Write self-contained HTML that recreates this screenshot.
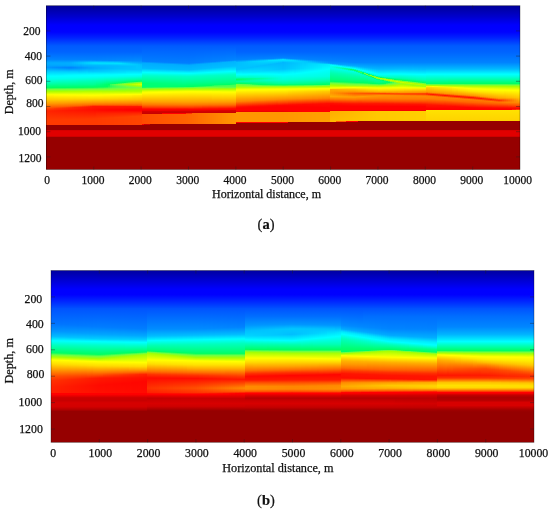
<!DOCTYPE html>
<html><head><meta charset="utf-8"><title>Figure</title>
<style>
html,body{margin:0;padding:0;background:#fff;}
#f{position:relative;width:550px;height:512px;overflow:hidden;background:#fff;}
.p{position:absolute;left:0;width:550px;}
.p i{position:absolute;top:0;height:100%;display:block;}
svg{position:absolute;left:0;top:0;display:block;}
.t{font-family:"Liberation Serif",serif;fill:#111;stroke:#111;stroke-width:0.25px;}
.l{font-family:"Liberation Serif",serif;fill:#111;stroke:#111;stroke-width:0.25px;}
.c{font-family:"Liberation Serif",serif;font-size:14.5px;fill:#111;stroke:#111;stroke-width:0.2px;}
.tk line{stroke:#222;stroke-width:0.6;stroke-opacity:0.7;}
</style></head><body>
<div id="f">
<div class="p" style="top:46px;height:84px"><i style="left:46px;width:2px;background:linear-gradient(#005bff 0px,#0064ff 6px,#0083ff 13.3px,#00acff 16.9px,#00a7ff 19px,#0097ff 21.5px,#00d3ff 26px,#0ff 30.3px,#00ffe8 33.3px,#00ffdb 34.3px,#00ffa9 37.8px,#00ff63 41.6px,#70ff42 43.4px,#a5ff02 45.4px,#ff0 48.9px,#fff100 49.7px,#ffc900 53.8px,#ff9700 57.8px,#ff3f00 63px,#ff2300 65px,#ff3a00 74px,#ff3a00 79.2px,#f00 79.3px,#f00 79.4px,#960000 79.5px,#960000 84px)"></i><i style="left:48px;width:2px;background:linear-gradient(#005bff 0px,#0064ff 6px,#0083ff 13.3px,#00acff 16.9px,#00a7ff 19px,#0095ff 21.5px,#00d3ff 26px,#0ff 30.2px,#00ffe9 33.2px,#0fa 37.6px,#00ff63 41.6px,#70ff42 43.4px,#a5ff02 45.4px,#ff0 48.8px,#fff200 49.6px,#ffca00 53.7px,#ff9800 57.7px,#ff3d00 62.9px,#f20 64.9px,#ff3a00 73.9px,#ff3a00 79.2px,#f00 79.3px,#f00 79.4px,#960000 79.5px,#960000 84px)"></i><i style="left:50px;width:2px;background:linear-gradient(#005bff 0px,#0064ff 6px,#0083ff 13.4px,#00acff 16.9px,#00a7ff 19.1px,#0093ff 21.6px,#00d2ff 26px,#0ff 30.2px,#00ffe9 33.1px,#00ffab 37.5px,#00ff63 41.6px,#70ff42 43.4px,#a5ff02 45.3px,#ff0 48.8px,#fff300 49.6px,#ffcb00 53.6px,#ff9800 57.6px,#ff5b00 61.2px,#ff3b00 62.8px,#ff2100 64.9px,#ff3a00 73.9px,#ff3a00 79.2px,#f00 79.3px,#f00 79.4px,#960000 79.5px,#960000 84px)"></i><i style="left:52px;width:2px;background:linear-gradient(#005bff 0px,#0064ff 6px,#0083ff 13.4px,#00acff 16.9px,#00a8ff 19.1px,#0090ff 21.6px,#00d2ff 25.9px,#0ff 30.2px,#00ffea 33px,#00ffac 37.4px,#00ff63 41.5px,#70ff42 43.4px,#a5ff02 45.3px,#ff0 48.8px,#fff400 49.5px,#fc0 53.6px,#f90 57.5px,#ff5c00 61.1px,#ff3a00 62.7px,#ff2000 64.9px,#ff3a00 73.9px,#ff3a00 79.2px,#f00 79.3px,#f00 79.4px,#960000 79.5px,#960000 84px)"></i><i style="left:54px;width:2px;background:linear-gradient(#005bff 0px,#0064ff 6px,#0083ff 13.5px,#00adff 16.9px,#00a8ff 19.1px,#008eff 21.6px,#00d1ff 25.9px,#0ff 30.2px,#00ffea 32.9px,#00ffac 37.3px,#00ff63 41.5px,#70ff42 43.3px,#a5ff02 45.3px,#ff0 48.8px,#ffcd00 53.5px,#f90 57.5px,#ff5d00 61px,#ff3800 62.5px,#ff1f00 64.8px,#ff3a00 73.8px,#ff3a00 79.2px,#f00 79.3px,#f00 79.4px,#960000 79.5px,#960000 84px)"></i><i style="left:56px;width:2px;background:linear-gradient(#005bff 0px,#0064ff 6px,#0083ff 13.5px,#00adff 16.9px,#00a8ff 19.1px,#008cff 21.6px,#00d1ff 25.9px,#0ff 30.1px,#00ffeb 32.8px,#00ffad 37.1px,#00ff63 41.5px,#70ff42 43.3px,#a5ff02 45.3px,#ff0 48.8px,#ffce00 53.4px,#ff9a00 57.4px,#ff5e00 60.9px,#ff3600 62.4px,#ff1e00 64.8px,#ff3a00 73.8px,#ff3a00 79.2px,#f00 79.3px,#f00 79.4px,#960000 79.5px,#960000 84px)"></i><i style="left:58px;width:2px;background:linear-gradient(#005bff 0px,#0064ff 6px,#0083ff 13.5px,#00adff 16.9px,#00a8ff 19.2px,#008aff 21.7px,#00d1ff 25.9px,#0ff 30.1px,#00ffeb 32.7px,#00ff8c 39.2px,#00ff63 41.5px,#70ff42 43.3px,#a5ff02 45.3px,#ff0 48.8px,#ffcf00 53.4px,#ff9a00 57.3px,#ff5f00 60.8px,#ff3500 62.3px,#ff1d00 64.7px,#ff3a00 73.7px,#ff3a00 79.2px,#f00 79.3px,#f00 79.4px,#960000 79.5px,#960000 84px)"></i><i style="left:60px;width:2px;background:linear-gradient(#005bff 0px,#0064ff 6px,#0083ff 13.6px,#00adff 16.9px,#00a9ff 19.2px,#08f 21.7px,#00d0ff 25.8px,#0ff 30.1px,#00ffec 32.6px,#00ff8c 39.2px,#00ff63 41.5px,#70ff42 43.3px,#a8ff00 45.4px,#ff0 48.8px,#ffcf00 53.3px,#ff9b00 57.2px,#ff6000 60.6px,#f30 62.2px,#ff1c00 64.7px,#ff3a00 73.7px,#ff3a00 79.2px,#f00 79.3px,#f00 79.4px,#960000 79.5px,#960000 84px)"></i><i style="left:62px;width:2px;background:linear-gradient(#005bff 0px,#0064ff 6px,#0083ff 13.6px,#00adff 16.9px,#00a9ff 19.2px,#0086ff 21.7px,#00d0ff 25.8px,#0ff 30px,#00ffec 32.5px,#00ff8d 39.1px,#00ff63 41.5px,#70ff42 43.3px,#a7ff00 45.3px,#ff0 48.8px,#ffd000 53.2px,#ff9b00 57.2px,#ff6100 60.5px,#ff3100 62.1px,#ff1b00 64.6px,#ff3a00 73.6px,#ff3a00 79.2px,#f00 79.3px,#f00 79.4px,#960000 79.5px,#960000 84px)"></i><i style="left:64px;width:2px;background:linear-gradient(#005bff 0px,#0064ff 6px,#0083ff 13.7px,#00adff 16.9px,#00a9ff 19.2px,#0084ff 21.7px,#00cfff 25.8px,#00f7ff 29px,#0ff 30px,#00ffed 32.4px,#00ff8d 39.1px,#00ff63 41.5px,#70ff42 43.3px,#a5ff01 45.2px,#ff0 48.8px,#ffd100 53.2px,#ff9b00 57.1px,#ff6200 60.4px,#ff3000 62px,#ff1a00 64.6px,#ff3a00 73.6px,#ff3a00 79.2px,#f00 79.3px,#f00 79.4px,#960000 79.5px,#960000 84px)"></i><i style="left:66px;width:2px;background:linear-gradient(#005bff 0px,#0064ff 6px,#0083ff 13.7px,#00aeff 16.9px,#00a9ff 19.3px,#0082ff 21.8px,#00cfff 25.8px,#00f7ff 28.9px,#0ff 30px,#00ffed 32.3px,#00ff8e 39.1px,#00ff63 41.5px,#70ff42 43.2px,#a5ff02 45.2px,#ff0 48.8px,#ffd200 53.1px,#ff9c00 57px,#ff6300 60.3px,#ff2e00 61.9px,#ff1900 64.6px,#ff3a00 73.6px,#ff3a00 79.2px,#f00 79.3px,#f00 79.4px,#960000 79.5px,#960000 84px)"></i><i style="left:68px;width:2px;background:linear-gradient(#005bff 0px,#0064ff 6px,#0083ff 13.7px,#00aeff 16.9px,#0af 19.3px,#0080ff 21.8px,#00ceff 25.8px,#00f7ff 28.8px,#0ff 30px,#0fe 32.2px,#00ff8e 39px,#00ff63 41.5px,#70ff42 43.2px,#a2ff0a 45px,#a5ff02 45.1px,#ff0 48.9px,#ffd300 53px,#ff9c00 56.9px,#ff6400 60.2px,#ff2c00 61.8px,#ff1800 64.5px,#ff3a00 73.5px,#ff3a00 79.2px,#f00 79.3px,#f00 79.4px,#960000 79.5px,#960000 84px)"></i><i style="left:70px;width:2px;background:linear-gradient(#005bff 0px,#0064ff 6px,#0083ff 13.8px,#00b0ff 16.9px,#0af 19.3px,#0080ff 21.8px,#00ceff 25.7px,#00f6ff 28.8px,#0ff 29.9px,#0fe 32.1px,#00ff8f 39px,#00ff63 41.4px,#70ff42 43.2px,#a1ff0f 45px,#a5ff02 45.1px,#ff0 48.9px,#ffd400 53px,#ff9d00 56.9px,#ff6400 60px,#ff2b00 61.7px,#ff1700 64.5px,#ff3a00 73.5px,#ff3a00 79.2px,#f00 79.3px,#f00 79.4px,#960000 79.5px,#960000 84px)"></i><i style="left:72px;width:2px;background:linear-gradient(#005bff 0px,#0064ff 6px,#0083ff 13.8px,#00b5ff 16.9px,#00abff 19.3px,#0083ff 21.8px,#00ceff 25.7px,#00f6ff 28.7px,#0ff 29.9px,#00ffef 32px,#00ff8f 38.9px,#00ff63 41.4px,#70ff42 43.2px,#9fff12 44.9px,#a5ff02 45.1px,#ff0 48.9px,#ffd500 52.9px,#ff9d00 56.8px,#ff6500 59.9px,#ff2900 61.6px,#ff1700 64.4px,#ff3a00 73.4px,#ff3a00 79.2px,#f00 79.3px,#f00 79.4px,#960000 79.5px,#960000 84px)"></i><i style="left:74px;width:2px;background:linear-gradient(#005bff 0px,#0064ff 6px,#0083ff 13.8px,#00baff 16.9px,#00acff 19.4px,#0087ff 21.8px,#00cdff 25.7px,#00f6ff 28.6px,#0ff 29.9px,#00ffef 31.9px,#00ff90 38.9px,#00ff63 41.4px,#70ff42 43.2px,#9dff15 44.8px,#a5ff02 45.1px,#ff0 48.9px,#ffd500 52.8px,#ff9e00 56.7px,#f60 59.8px,#ff2700 61.5px,#ff1600 64.4px,#ff3a00 73.4px,#ff3a00 79.2px,#f00 79.3px,#f00 79.4px,#960000 79.5px,#960000 84px)"></i><i style="left:76px;width:2px;background:linear-gradient(#005bff 0px,#0064ff 6px,#0083ff 13.9px,#00beff 16.9px,#00adff 19.4px,#008aff 21.9px,#00cdff 25.7px,#00f6ff 28.6px,#0ff 29.8px,#00fff0 31.8px,#00ffb5 35.9px,#00ff90 38.9px,#00ff63 41.4px,#70ff42 43.2px,#9cff18 44.7px,#a5ff02 45px,#ff0 49px,#ffd600 52.8px,#ff9e00 56.6px,#ff6700 59.7px,#ff2600 61.4px,#ff1500 64.4px,#ff3a00 73.4px,#ff3a00 79.2px,#f00 79.3px,#f00 79.4px,#960000 79.5px,#960000 84px)"></i><i style="left:78px;width:2px;background:linear-gradient(#005bff 0px,#0064ff 6px,#0083ff 13.9px,#00c3ff 16.9px,#00aeff 19.4px,#008eff 21.9px,#00f5ff 28.5px,#0ff 29.8px,#00fff0 31.7px,#00ffb5 35.7px,#00ff90 38.8px,#00ff63 41.4px,#70ff42 43.1px,#9aff1a 44.6px,#a5ff02 45px,#ff0 49px,#ffd700 52.7px,#ff9e00 56.6px,#ff6800 59.6px,#ff2400 61.3px,#ff1400 64.3px,#ff3a00 73.3px,#ff3a00 79.2px,#f00 79.3px,#f00 79.4px,#960000 79.5px,#960000 84px)"></i><i style="left:80px;width:2px;background:linear-gradient(#005bff 0px,#0064ff 6px,#0083ff 14px,#00c8ff 16.9px,#0091ff 21.9px,#00f5ff 28.4px,#0ff 29.8px,#00fff1 31.6px,#00ffb6 35.6px,#00ff91 38.8px,#00ff63 41.4px,#70ff42 43.1px,#99ff1d 44.5px,#a5ff02 45px,#ff0 49px,#ffd800 52.6px,#ff9f00 56.5px,#ff6900 59.5px,#f20 61.2px,#ff1300 64.3px,#ff3a00 73.3px,#ff3a00 79.2px,#f00 79.3px,#f00 79.4px,#960000 79.5px,#960000 84px)"></i><i style="left:82px;width:2px;background:linear-gradient(#005bff 0px,#0064ff 6px,#0083ff 14px,#0cf 16.9px,#0095ff 21.9px,#00f5ff 28.4px,#0ff 29.7px,#00fff1 31.5px,#00ffb7 35.5px,#00ff91 38.7px,#00ff63 41.4px,#70ff42 43.1px,#97ff1f 44.5px,#a5ff02 45px,#d4ff00 46.9px,#ff0 49.1px,#ffd900 52.6px,#ff9f00 56.4px,#ff6a00 59.3px,#ff2100 61.1px,#ff1200 64.2px,#ff3a00 73.2px,#ff3a00 79.2px,#f00 79.3px,#f00 79.4px,#960000 79.5px,#960000 84px)"></i><i style="left:84px;width:2px;background:linear-gradient(#005bff 0px,#0064ff 6px,#0083ff 14px,#00d1ff 16.9px,#0098ff 21.9px,#00f4ff 28.3px,#0ff 29.7px,#00fff2 31.4px,#00ffb7 35.4px,#00ff92 38.7px,#00ff63 41.3px,#70ff42 43.1px,#96ff21 44.4px,#a5ff02 44.9px,#d4ff00 46.9px,#ff0 49.1px,#ffda00 52.5px,#ffa000 56.3px,#ff6b00 59.2px,#ff1f00 61px,#f10 64.2px,#ff3a00 73.2px,#ff3a00 79.2px,#f00 79.3px,#f00 79.4px,#960000 79.5px,#960000 84px)"></i><i style="left:86px;width:2px;background:linear-gradient(#005bff 0px,#0064ff 6px,#0083ff 14.1px,#00d6ff 16.9px,#00b2ff 19.5px,#009bff 21.9px,#00f4ff 28.2px,#0ff 29.7px,#00fff2 31.3px,#00ffb8 35.2px,#00ff92 38.6px,#00ff63 41.3px,#70ff42 43.1px,#94ff23 44.3px,#a5ff02 44.9px,#d4ff00 46.9px,#ff0 49.1px,#ffda00 52.4px,#ffa000 56.3px,#ff6c00 59.1px,#ff1d00 60.9px,#ff1000 64.1px,#ff3a00 73.1px,#ff3a00 79.2px,#f00 79.3px,#f00 79.4px,#960000 79.5px,#960000 84px)"></i><i style="left:88px;width:2px;background:linear-gradient(#005bff 0px,#0064ff 6px,#0083ff 14.1px,#00daff 16.9px,#00b3ff 19.5px,#009fff 22px,#00caff 25.6px,#00f4ff 28.2px,#0ff 29.6px,#00fff3 31.2px,#00ffb9 35.1px,#00ff93 38.6px,#00ff63 41.3px,#70ff42 43px,#92ff25 44.2px,#a5ff02 44.9px,#d4ff00 46.9px,#ff0 49.2px,#ffdb00 52.4px,#ffa100 56.2px,#ff6d00 59px,#ff1b00 60.8px,#ff0f00 64.1px,#ff3a00 73.1px,#ff3a00 79.2px,#f00 79.3px,#f00 79.4px,#960000 79.5px,#960000 84px)"></i><i style="left:90px;width:2px;background:linear-gradient(#005bff 0px,#0064ff 6px,#0083ff 14.1px,#00dfff 16.9px,#00b4ff 19.6px,#00a2ff 22px,#00caff 25.5px,#00f4ff 28.1px,#0ff 29.6px,#00fff3 31.1px,#00ffba 35px,#00ff93 38.6px,#00ff63 41.3px,#70ff42 43px,#91ff27 44.1px,#a5ff02 44.9px,#d4ff00 46.9px,#ff0 49.2px,#ffdc00 52.3px,#ffa100 56.1px,#ff6d00 58.9px,#ff1a00 60.6px,#ff0e00 64.1px,#ff3a00 73.1px,#ff3a00 79.2px,#f00 79.3px,#f00 79.4px,#960000 79.5px,#960000 84px)"></i><i style="left:92px;width:2px;background:linear-gradient(#005bff 0px,#0064ff 6px,#0083ff 14.2px,#00e3ff 16.9px,#00b5ff 19.6px,#00a5ff 22px,#00c9ff 25.5px,#00f3ff 28px,#0ff 29.6px,#00fff3 31px,#00ffba 34.8px,#00ff94 38.5px,#00ff63 41.3px,#70ff42 43px,#8fff29 44px,#a5ff02 44.9px,#efff00 48.2px,#ff0 49.2px,#fd0 52.2px,#ffa100 56px,#ff6e00 58.7px,#ff1800 60.5px,#ff0d00 64px,#ff3a00 73px,#ff3a00 79.2px,#f00 79.3px,#f00 79.4px,#960000 79.5px,#960000 84px)"></i><i style="left:94px;width:2px;background:linear-gradient(#005bff 0px,#0064ff 6px,#0083ff 14.2px,#00e5ff 16.9px,#00b5ff 19.6px,#00a8ff 22px,#00caff 25.5px,#00f4ff 28px,#0ff 29.5px,#00fff3 31px,#00ffba 34.8px,#00ff90 38.5px,#00ff63 41.2px,#70ff42 43px,#8fff28 44px,#a5ff02 44.9px,#d4ff00 46.9px,#ff0 49.2px,#ffdc00 52.2px,#ffa100 56px,#ff6e00 58.7px,#ff1700 60.5px,#ff0b00 64px,#ff3a00 72.9px,#ff3a00 79.2px,#f00 79.3px,#f00 79.3px,#960000 79.5px,#960000 84px)"></i><i style="left:96px;width:2px;background:linear-gradient(#005bff 0px,#0064ff 6px,#0083ff 14.3px,#00e5ff 16.9px,#00b6ff 19.6px,#0af 22.1px,#0cf 25.6px,#00f4ff 28px,#0ff 29.4px,#00fff3 31px,#00ffb9 34.7px,#00ff63 41.2px,#70ff42 43px,#91ff26 44.1px,#a5ff02 44.9px,#d4ff00 46.9px,#ff0 49.1px,#ffdb00 52.3px,#ff9f00 56.1px,#ff6c00 58.8px,#ff1700 60.5px,#ff0a00 64px,#ff2300 67.7px,#ff3a00 72.8px,#ff3a00 79.2px,#f00 79.3px,#f00 79.3px,#960000 79.5px,#960000 84px)"></i><i style="left:98px;width:2px;background:linear-gradient(#005bff 0px,#0064ff 6px,#0084ff 14.3px,#00e5ff 17px,#00b6ff 19.6px,#00acff 22.1px,#00ceff 25.7px,#00f5ff 28.1px,#0ff 29.4px,#00fff2 30.9px,#00ffb8 34.7px,#00ff63 41.1px,#70ff42 42.9px,#93ff25 44.2px,#a5ff02 44.9px,#d4ff00 46.9px,#ff0 49.1px,#ffda00 52.4px,#ff9d00 56.2px,#ff6b00 58.8px,#ff1700 60.5px,#ff0800 64px,#ff2300 67.7px,#ff3b00 72.7px,#ff3b00 79.2px,#f00 79.3px,#f00 79.3px,#960000 79.5px,#960000 84px)"></i><i style="left:100px;width:2px;background:linear-gradient(#005bff 0px,#0064ff 6px,#0084ff 14.3px,#00e5ff 17px,#00b7ff 19.7px,#00aeff 22.2px,#00cfff 25.7px,#00f5ff 28.1px,#0ff 29.3px,#00fff1 30.9px,#00ff7d 38.5px,#00ff63 41px,#70ff42 42.9px,#94ff23 44.2px,#a5ff02 44.9px,#d4ff00 46.8px,#ff0 49px,#ffd900 52.4px,#ff9c00 56.3px,#ff6a00 58.8px,#ff1700 60.5px,#ff0600 64px,#ff2300 67.7px,#ff3b00 72.5px,#ff3b00 79.2px,#f00 79.3px,#f00 79.3px,#960000 79.5px,#960000 84px)"></i><i style="left:102px;width:2px;background:linear-gradient(#005bff 0px,#0064ff 6px,#0085ff 14.4px,#00e5ff 17px,#00b7ff 19.7px,#00b0ff 22.2px,#00d1ff 25.8px,#00f6ff 28.1px,#0ff 29.2px,#00fff1 30.9px,#0f7 38.5px,#00ff63 41px,#70ff42 42.9px,#96ff21 44.3px,#a5ff02 44.9px,#ff0 49px,#ffd700 52.5px,#ff9a00 56.4px,#ff6800 58.9px,#ff1700 60.5px,#ff0500 64px,#ff2300 67.6px,#ff3c00 72.4px,#ff3c00 79.1px,#f00 79.2px,#f00 79.3px,#960000 79.4px,#960000 84px)"></i><i style="left:104px;width:2px;background:linear-gradient(#005bff 0px,#0064ff 6px,#0085ff 14.4px,#00e5ff 17px,#00b7ff 19.7px,#00b1ff 22.2px,#00d3ff 25.9px,#00f6ff 28.1px,#0ff 29.1px,#00fff0 30.8px,#00ff70 38.5px,#00ff63 40.9px,#70ff42 42.8px,#98ff1e 44.4px,#a5ff02 44.9px,#ff0 48.9px,#ffd600 52.5px,#ff9800 56.4px,#ff6700 58.9px,#ff1700 60.5px,#ff0400 64px,#ff2300 67.6px,#ff3c00 72.3px,#ff3c00 79.1px,#f00 79.2px,#f00 79.3px,#960000 79.4px,#960000 84px)"></i><i style="left:106px;width:2px;background:linear-gradient(#005bff 0px,#0064ff 6px,#0086ff 14.4px,#00e5ff 17.1px,#00b8ff 19.7px,#00b3ff 22.3px,#00d4ff 25.9px,#00f7ff 28.1px,#0ff 29.1px,#00fff0 30.8px,#00ff6a 38.4px,#00ff63 40.8px,#70ff42 42.8px,#99ff1c 44.4px,#a5ff02 44.9px,#ff0 48.8px,#ffd500 52.6px,#ff9600 56.5px,#f60 58.9px,#ff1700 60.5px,#ff0300 64px,#ff2300 67.6px,#ff3d00 72.2px,#ff3d00 79.1px,#f00 79.2px,#f00 79.3px,#960000 79.4px,#960000 84px)"></i><i style="left:108px;width:2px;background:linear-gradient(#005bff 0px,#0064ff 6px,#0086ff 14.5px,#00e5ff 17.1px,#00b8ff 19.7px,#00b5ff 22.3px,#00d6ff 26px,#00f8ff 28.2px,#0ff 29px,#00ffef 30.8px,#00ffb0 34.5px,#00ff63 38.4px,#16ff61 40.8px,#70ff42 42.8px,#9bff1a 44.5px,#a5ff02 44.9px,#ff0 48.8px,#ffd400 52.7px,#ff9500 56.6px,#ff6400 59px,#ff1700 60.5px,#ff0200 64px,#ff2300 67.5px,#ff3d00 72px,#ff3d00 79.1px,#f00 79.2px,#f00 79.3px,#960000 79.4px,#960000 84px)"></i><i style="left:110px;width:2px;background:linear-gradient(#005bff 0px,#0064ff 6px,#0086ff 14.5px,#00e5ff 17.1px,#00b9ff 19.7px,#00b7ff 22.4px,#00d7ff 26px,#0ff 29px,#0fe 30.7px,#00ffb0 34.3px,#00ff63 38.1px,#34ff5c 38.4px,#25ff5f 40.9px,#70ff42 42.7px,#9cff17 44.6px,#a5ff02 44.9px,#ff0 48.7px,#ffd200 52.7px,#ff9300 56.7px,#ff6300 59px,#ff1700 60.5px,#ff0100 64px,#ff2300 67.5px,#ff3e00 71.9px,#ff3e00 79.1px,#f00 79.2px,#f00 79.2px,#960000 79.4px,#960000 84px)"></i><i style="left:112px;width:2px;background:linear-gradient(#005bff 0px,#0064ff 6px,#0087ff 14.5px,#00e5ff 17.1px,#00b9ff 19.8px,#00b9ff 22.4px,#00d9ff 26.1px,#0ff 28.9px,#0fe 30.7px,#00ffdb 31.8px,#00ffaf 34.3px,#00ff63 37.8px,#4bff55 38.4px,#30ff5d 40.9px,#70ff42 42.6px,#9eff14 44.6px,#a5ff02 44.9px,#ff0 48.7px,#ffd100 52.8px,#ff9100 56.7px,#ff6200 59px,#ff1700 60.5px,#ff0100 64px,#ff2300 67.5px,#ff3e00 71.8px,#ff3e00 79.1px,#f00 79.2px,#f00 79.2px,#960000 79.4px,#960000 84px)"></i><i style="left:114px;width:2px;background:linear-gradient(#005bff 0px,#0064ff 6px,#0087ff 14.6px,#00e5ff 17.2px,#00baff 19.8px,#0bf 22.4px,#00dbff 26.2px,#0ff 28.8px,#00ffed 30.7px,#00ffdb 31.7px,#00ffae 34.2px,#00ff63 37.6px,#5cff4d 38.4px,#38ff5b 40.9px,#70ff42 42.6px,#9fff11 44.7px,#a5ff02 44.9px,#ff0 48.6px,#ffd000 52.8px,#ff9000 56.8px,#ff6000 59.1px,#ff1700 60.5px,#f00 64px,#ff2300 67.4px,#ff3f00 71.7px,#ff3f00 79.1px,#f00 79.2px,#f00 79.2px,#960000 79.4px,#960000 84px)"></i><i style="left:116px;width:2px;background:linear-gradient(#005bff 0px,#0064ff 6px,#08f 14.6px,#00e5ff 17.2px,#00baff 19.8px,#00bdff 22.5px,#00dcff 26.2px,#0ff 28.8px,#00ffed 30.7px,#00ffdb 31.7px,#00ffad 34.2px,#00ff63 37.3px,#6bff45 38.4px,#40ff59 41px,#70ff42 42.5px,#a1ff0e 44.8px,#a5ff02 44.9px,#ff0 48.6px,#ffcf00 52.9px,#ff8e00 56.9px,#ff5f00 59.1px,#ff1700 60.5px,#f00 64px,#ff2300 67.4px,#ff3f00 71.5px,#ff3f00 79.1px,#f00 79.2px,#f00 79.2px,#960000 79.4px,#960000 84px)"></i><i style="left:118px;width:2px;background:linear-gradient(#005bff 0px,#0064ff 6px,#08f 14.6px,#00e3ff 17.3px,#0bf 19.9px,#00beff 22.6px,#00deff 26.3px,#0ff 28.7px,#00ffec 30.6px,#00ffb0 33.9px,#00ff63 37.1px,#70ff42 38.2px,#78ff3d 38.4px,#46ff56 41px,#70ff42 42.4px,#a2ff09 44.9px,#a5ff02 44.9px,#ff0 48.6px,#ffcd00 52.9px,#ff8c00 57px,#ff5e00 59.1px,#ff1700 60.5px,#f00 64px,#ff2300 67.4px,#ff4000 71.4px,#ff4000 79px,#f00 79.1px,#f00 79.2px,#960000 79.3px,#960000 84px)"></i><i style="left:120px;width:2px;background:linear-gradient(#005bff 0px,#0064ff 6px,#0089ff 14.7px,#00e0ff 17.4px,#00bcff 20px,#00bfff 22.7px,#00e0ff 26.4px,#0ff 28.7px,#00ffeb 30.6px,#00ffb0 33.8px,#00ff63 36.9px,#70ff42 38px,#84ff34 38.4px,#4cff54 41.1px,#70ff42 42.3px,#a5ff02 45px,#ff0 48.6px,#fc0 53px,#ff8a00 57px,#ff5c00 59.2px,#ff1700 60.5px,#f00 64px,#ff2300 67.3px,#ff4000 71.3px,#ff4000 79px,#f00 79.1px,#f00 79.2px,#960000 79.3px,#960000 84px)"></i><i style="left:122px;width:2px;background:linear-gradient(#005bff 0px,#0064ff 6px,#0089ff 14.7px,#00dcff 17.6px,#00bcff 20.1px,#00c0ff 22.9px,#00e1ff 26.4px,#0ff 28.6px,#00ffeb 30.6px,#00ffb0 33.7px,#00ff63 36.7px,#70ff42 37.7px,#8fff29 38.4px,#52ff52 41.1px,#70ff42 42.3px,#a5ff00 45px,#ff0 48.5px,#ffcb00 53.1px,#ff8900 57.1px,#ff5b00 59.2px,#ff1700 60.5px,#f00 64.1px,#ff2300 67.3px,#ff4000 71.1px,#ff4000 79px,#f00 79.1px,#f00 79.2px,#960000 79.3px,#960000 84px)"></i><i style="left:124px;width:2px;background:linear-gradient(#005bff 0px,#0064ff 6px,#0089ff 14.7px,#00d9ff 17.7px,#00bdff 20.2px,#00c1ff 23px,#00e3ff 26.5px,#0ff 28.6px,#00ffea 30.5px,#00ffb0 33.5px,#00ff63 36.5px,#70ff42 37.5px,#99ff1d 38.4px,#57ff4f 41.2px,#70ff42 42.2px,#a7ff00 45.1px,#ff0 48.5px,#ffc900 53.1px,#ff8700 57.2px,#ff5a00 59.2px,#ff1700 60.5px,#f00 63.7px,#f00 64.2px,#ff2300 67.3px,#ff4100 71px,#ff4100 79px,#f00 79.1px,#f00 79.2px,#960000 79.3px,#960000 84px)"></i><i style="left:126px;width:2px;background:linear-gradient(#005bff 0px,#0064ff 6px,#008aff 14.8px,#00d6ff 17.8px,#00beff 20.3px,#00c2ff 23.1px,#0ff 28.6px,#00ffe9 30.5px,#00ffb0 33.4px,#00ff63 36.3px,#70ff42 37.3px,#a3ff08 38.4px,#70ff42 40.5px,#5cff4d 41.2px,#70ff42 42px,#a5ff02 44.9px,#ff0 48.5px,#ffc800 53.2px,#ff8500 57.3px,#ff5800 59.3px,#ff1700 60.5px,#f00 63.5px,#f00 64.3px,#ff2300 67.2px,#ff4100 70.9px,#ff4100 79px,#f00 79.1px,#f00 79.1px,#960000 79.3px,#960000 84px)"></i><i style="left:128px;width:2px;background:linear-gradient(#005bff 0px,#0064ff 6px,#008aff 14.8px,#00d3ff 17.9px,#00bfff 20.4px,#00c3ff 23.2px,#0ff 28.5px,#00ffe9 30.5px,#00ffb0 33.3px,#00ff63 36.1px,#70ff42 37.1px,#a5ff02 38.2px,#acff00 38.4px,#a5ff02 38.7px,#70ff42 40.8px,#61ff4b 41.2px,#70ff42 41.9px,#a5ff02 44.9px,#ff0 48.5px,#ffc700 53.2px,#ff8400 57.3px,#ff5700 59.3px,#ff1700 60.5px,#f00 63.4px,#f00 64.4px,#ff2300 67.2px,#ff4200 70.8px,#ff4200 79px,#f00 79.1px,#f00 79.1px,#960000 79.3px,#960000 84px)"></i><i style="left:130px;width:2px;background:linear-gradient(#005bff 0px,#0064ff 6px,#008bff 14.8px,#00cfff 18.1px,#00c0ff 20.5px,#00c4ff 23.4px,#0ff 28.5px,#00ffe8 30.4px,#00ffb0 33.2px,#00ff63 36px,#70ff42 36.9px,#a5ff02 38px,#b5ff00 38.3px,#a5ff02 39.1px,#65ff48 41.3px,#a5ff02 44.8px,#abff00 45.3px,#ff0 48.5px,#ffc600 53.3px,#ff8200 57.4px,#f50 59.3px,#ff1700 60.5px,#f00 63.3px,#f00 64.5px,#ff2300 67.2px,#ff4200 70.6px,#ff4200 79px,#f00 79.1px,#f00 79.1px,#960000 79.3px,#960000 84px)"></i><i style="left:132px;width:2px;background:linear-gradient(#005bff 0px,#0064ff 6px,#008bff 14.9px,#0cf 18.2px,#00c1ff 20.6px,#00c5ff 23.5px,#0ff 28.4px,#00ffe8 30.4px,#00ffb0 33.1px,#00ffa3 33.7px,#00ff63 35.8px,#70ff42 36.8px,#a5ff02 37.8px,#beff00 38.3px,#a5ff02 39.4px,#69ff46 41.3px,#a5ff02 44.8px,#adff00 45.3px,#ff0 48.4px,#fff100 49.3px,#ffc400 53.4px,#ff8000 57.5px,#ff5400 59.4px,#ff1700 60.5px,#f00 63.2px,#f00 64.6px,#ff2300 67.1px,#ff4300 70.5px,#ff4300 79px,#f00 79.1px,#f00 79.1px,#960000 79.3px,#960000 84px)"></i><i style="left:134px;width:2px;background:linear-gradient(#005bff 0px,#0064ff 6px,#008cff 14.9px,#00c9ff 18.3px,#00c2ff 20.7px,#00c6ff 23.6px,#0ff 28.4px,#00ffe7 30.4px,#00ffb0 33px,#00ffa2 33.7px,#00ff63 35.7px,#70ff42 36.6px,#a5ff02 37.6px,#c7ff00 38.3px,#a5ff02 39.6px,#6eff43 41.4px,#a5ff02 44.7px,#aeff00 45.4px,#ff0 48.4px,#ffef00 49.3px,#ffc300 53.4px,#ff7e00 57.6px,#ff5300 59.4px,#ff1700 60.5px,#f00 63.1px,#f00 64.7px,#ff2300 67.1px,#ff4300 70.4px,#ff4300 78.9px,#f00 79px,#f00 79.1px,#960000 79.2px,#960000 84px)"></i><i style="left:136px;width:2px;background:linear-gradient(#005bff 0px,#0064ff 6px,#008cff 14.9px,#00c6ff 18.4px,#00c7ff 23.7px,#0ff 28.4px,#00ffe6 30.4px,#00ffb0 32.9px,#00ffa1 33.6px,#00ff63 35.5px,#70ff42 36.4px,#a5ff02 37.4px,#cfff00 38.3px,#a5ff02 39.9px,#72ff41 41.4px,#a5ff02 44.7px,#b0ff00 45.5px,#ff0 48.4px,#fe0 49.4px,#ffc200 53.5px,#ff7d00 57.6px,#ff5100 59.4px,#ff1700 60.5px,#f00 63px,#f00 64.7px,#ff2300 67.1px,#f40 70.3px,#f40 78.9px,#f00 79px,#f00 79.1px,#960000 79.2px,#960000 84px)"></i><i style="left:138px;width:2px;background:linear-gradient(#005bff 0px,#0064ff 6px,#008dff 15px,#00c3ff 18.6px,#00c8ff 23.9px,#0ff 28.4px,#00ffe6 30.3px,#00ffb0 32.8px,#00ff9f 33.6px,#00ff63 35.4px,#70ff42 36.3px,#a5ff02 37.2px,#d7ff00 38.3px,#a5ff02 40.1px,#75ff3e 41.5px,#a5ff02 44.6px,#b1ff00 45.5px,#ff0 48.4px,#ffed00 49.4px,#ffc000 53.5px,#ff7b00 57.7px,#ff5000 59.5px,#ff1700 60.5px,#f00 62.9px,#f00 64.8px,#ff2300 67px,#f40 70.1px,#f40 78.9px,#f00 79px,#f00 79.1px,#960000 79.2px,#960000 84px)"></i><i style="left:140px;width:2px;background:linear-gradient(#005bff 0px,#0064ff 6px,#008dff 15px,#00bfff 18.7px,#00c9ff 24px,#0ff 28.3px,#00ffe5 30.3px,#00ffb0 32.7px,#00ff9e 33.5px,#00ff63 35.3px,#70ff42 36.1px,#a5ff02 37px,#dfff00 38.3px,#a5ff02 40.3px,#79ff3c 41.5px,#a5ff02 44.5px,#b2ff00 45.6px,#ff0 48.4px,#ffeb00 49.5px,#ffbf00 53.6px,#ff7900 57.8px,#ff4f00 59.5px,#ff1700 60.5px,#f00 62.8px,#f00 64.8px,#ff2300 67px,#ff4500 70px,#ff4500 78.9px,#f00 79px,#f00 79.1px,#960000 79.2px,#960000 84px)"></i><i style="left:142px;width:2px;background:linear-gradient(#005bff 0px,#007eff 15.3px,#00acff 17.1px,#00baff 22.3px,#0ff 26.4px,#0fc 29.5px,#00ff70 37.5px,#00ff74 40.5px,#00ff63 41.2px,#70ff42 42.4px,#9dff17 43.5px,#a5ff02 43.7px,#eaff00 45.7px,#ff0 46.8px,#ffa200 55.8px,#ff7400 58.9px,#ff3400 61.5px,#f00 63.1px,#f00 64.1px,#d70000 65.2px,#c80000 67.6px,#f00 67.7px,#f00 67.7px,#ff4b00 67.9px,#ff4b00 78.3px,#f00 78.4px,#f00 78.5px,#960000 78.6px,#960000 84px)"></i><i style="left:144px;width:2px;background:linear-gradient(#005bff 0px,#007eff 15.4px,#00acff 17.2px,#00baff 22.3px,#0ff 26.4px,#00ffcb 29.6px,#00ff71 37.5px,#00ff74 40.5px,#00ff63 41.2px,#70ff42 42.4px,#9dff15 43.5px,#a5ff02 43.6px,#ebff00 45.7px,#ff0 46.8px,#ffa200 55.8px,#ff7400 58.9px,#ff3400 61.5px,#f00 63.1px,#f00 64.1px,#d70000 65.2px,#c80000 67.6px,#f00 67.7px,#f00 67.7px,#ff4c00 67.9px,#ff4c00 78.3px,#f00 78.4px,#f00 78.4px,#960000 78.6px,#960000 84px)"></i><i style="left:146px;width:2px;background:linear-gradient(#005bff 0px,#007eff 15.5px,#00acff 17.3px,#00baff 22.4px,#0ff 26.5px,#00ffcb 29.6px,#00ff72 37.4px,#00ff73 40.5px,#00ff63 41.1px,#70ff42 42.3px,#9eff14 43.4px,#a5ff02 43.6px,#ecff00 45.7px,#ff0 46.8px,#ffa200 55.8px,#ff7500 58.9px,#ff3500 61.5px,#f00 63.1px,#f00 64.1px,#d70000 65.2px,#c80000 67.6px,#f00 67.7px,#f00 67.7px,#ff4d00 67.9px,#ff4d00 78.3px,#f00 78.4px,#f00 78.4px,#960000 78.6px,#960000 84px)"></i><i style="left:148px;width:2px;background:linear-gradient(#005bff 0px,#007eff 15.5px,#00acff 17.4px,#00baff 22.5px,#0ff 26.5px,#00ffcb 29.7px,#00ff73 37.4px,#00ff72 40.5px,#00ff63 41.1px,#70ff42 42.3px,#9fff12 43.4px,#a5ff02 43.6px,#ecff00 45.6px,#ff0 46.7px,#ffa200 55.8px,#ff7500 58.9px,#ff3500 61.5px,#f00 63.1px,#f00 64.1px,#d70000 65.2px,#c80000 67.6px,#f00 67.6px,#f00 67.7px,#ff4e00 67.9px,#ff4e00 78.3px,#f00 78.4px,#f00 78.4px,#960000 78.6px,#960000 84px)"></i><i style="left:150px;width:2px;background:linear-gradient(#005bff 0px,#007eff 15.6px,#00acff 17.5px,#00baff 22.6px,#0ff 26.6px,#00ffcb 29.7px,#00ff75 37.4px,#00ff72 40.5px,#00ff63 41.1px,#70ff42 42.3px,#a0ff11 43.4px,#a5ff02 43.5px,#edff00 45.6px,#ff0 46.7px,#ffa200 55.8px,#ff7500 58.9px,#ff3500 61.5px,#f00 63.1px,#f00 64.1px,#d70000 65.1px,#c80000 67.5px,#f00 67.6px,#f00 67.7px,#ff5000 67.8px,#ff5000 78.2px,#f00 78.4px,#f00 78.4px,#960000 78.5px,#960000 84px)"></i><i style="left:152px;width:2px;background:linear-gradient(#005bff 0px,#007eff 15.7px,#00acff 17.6px,#00baff 22.7px,#0ff 26.6px,#00ffca 29.8px,#00ff76 37.4px,#00ff71 40.5px,#00ff63 41.1px,#70ff42 42.2px,#a0ff0f 43.4px,#a5ff02 43.5px,#ef0 45.6px,#ff0 46.6px,#ffa200 55.9px,#ff7500 58.9px,#ff3500 61.5px,#f00 63.2px,#f00 64.1px,#d70000 65.1px,#c80000 67.5px,#f00 67.6px,#f00 67.7px,#ff5100 67.8px,#ff5100 78.2px,#f00 78.3px,#f00 78.4px,#960000 78.5px,#960000 84px)"></i><i style="left:154px;width:2px;background:linear-gradient(#005bff 0px,#007eff 15.8px,#00acff 17.7px,#00baff 22.7px,#0ff 26.7px,#00ffca 29.8px,#0f7 37.4px,#00ff71 40.5px,#00ff63 41px,#70ff42 42.2px,#a1ff0d 43.4px,#a5ff02 43.4px,#ef0 45.6px,#ff0 46.6px,#ffa200 55.9px,#ff7500 58.9px,#ff3600 61.5px,#f00 63.2px,#f00 64.1px,#d70000 65.1px,#c80000 67.5px,#f00 67.6px,#f00 67.7px,#ff5200 67.8px,#ff5200 78.2px,#f00 78.3px,#f00 78.4px,#960000 78.5px,#960000 84px)"></i><i style="left:156px;width:2px;background:linear-gradient(#005bff 0px,#007eff 15.9px,#00acff 17.8px,#00baff 22.8px,#0ff 26.7px,#00ffca 29.8px,#00ff78 37.3px,#00ff70 40.5px,#00ff63 41px,#70ff42 42.2px,#a2ff0b 43.3px,#a5ff02 43.4px,#efff00 45.6px,#ff0 46.6px,#ffa200 55.9px,#ff7600 58.9px,#ff3600 61.5px,#f00 63.2px,#f00 64.1px,#d70000 65.1px,#c80000 67.5px,#f00 67.6px,#f00 67.7px,#ff5300 67.8px,#ff5300 78.2px,#f00 78.3px,#f00 78.4px,#960000 78.5px,#960000 84px)"></i><i style="left:158px;width:2px;background:linear-gradient(#005bff 0px,#007eff 16px,#00acff 17.9px,#00baff 22.9px,#0ff 26.8px,#00ffca 29.9px,#00ff79 37.3px,#00ff70 40.5px,#00ff63 41px,#70ff42 42.1px,#a5ff02 43.4px,#efff00 45.5px,#ff0 46.5px,#ffa200 55.9px,#ff7600 58.9px,#ff3600 61.5px,#f00 63.2px,#f00 64.2px,#d70000 65.1px,#c80000 67.5px,#f00 67.6px,#f00 67.6px,#ff5400 67.8px,#ff5400 78.2px,#f00 78.3px,#f00 78.4px,#960000 78.5px,#960000 84px)"></i><i style="left:160px;width:2px;background:linear-gradient(#005bff 0px,#007eff 16.1px,#00acff 18px,#00baff 23px,#0ff 26.8px,#00ffca 29.9px,#00ff7b 37.3px,#00ff6f 40.5px,#00ff63 41px,#70ff42 42.1px,#a5ff02 43.3px,#f0ff00 45.5px,#ff0 46.5px,#ffa200 55.9px,#ff7600 58.9px,#ff3600 61.5px,#f00 63.2px,#f00 64.2px,#d70000 65.1px,#c80000 67.5px,#f00 67.6px,#f00 67.6px,#f50 67.8px,#f50 78.2px,#f00 78.3px,#f00 78.3px,#960000 78.5px,#960000 84px)"></i><i style="left:162px;width:2px;background:linear-gradient(#005bff 0px,#007eff 16.2px,#00acff 18.1px,#00baff 23px,#0ff 26.9px,#00ffc9 30px,#00ff7c 37.3px,#00ff6f 40.5px,#00ff63 40.9px,#70ff42 42.1px,#a5ff02 43.3px,#f1ff00 45.5px,#ff0 46.4px,#ffa200 55.9px,#ff7600 58.9px,#ff3700 61.5px,#f00 63.2px,#f00 64.2px,#d70000 65.1px,#c80000 67.5px,#f00 67.5px,#f00 67.6px,#ff5600 67.8px,#ff5600 78.2px,#f00 78.3px,#f00 78.3px,#960000 78.5px,#960000 84px)"></i><i style="left:164px;width:2px;background:linear-gradient(#005bff 0px,#007eff 16.3px,#00acff 18.2px,#00baff 23.1px,#0ff 26.9px,#00ffc9 30px,#00ff7d 37.2px,#00ff6e 40.5px,#00ff63 40.9px,#70ff42 42px,#a5ff02 43.2px,#f1ff00 45.5px,#ff0 46.4px,#ffa200 55.9px,#f70 58.9px,#ff3700 61.5px,#f00 63.2px,#f00 64.2px,#d70000 65px,#c80000 67.4px,#f00 67.5px,#f00 67.6px,#ff5700 67.7px,#ff5700 78.1px,#f00 78.3px,#f00 78.3px,#960000 78.4px,#960000 84px)"></i><i style="left:166px;width:2px;background:linear-gradient(#005bff 0px,#007eff 16.3px,#00acff 18.3px,#00baff 23.2px,#0ff 27px,#00ffc9 30px,#00ff7e 37.2px,#00ff6e 40.5px,#00ff63 40.9px,#70ff42 42px,#a6ff00 43.2px,#f2ff00 45.5px,#ff0 46.4px,#ffa200 55.9px,#f70 58.9px,#ff3700 61.5px,#f00 63.2px,#f00 64.2px,#d70000 65px,#c80000 67.4px,#f00 67.5px,#f00 67.6px,#ff5800 67.7px,#ff5800 78.1px,#f00 78.3px,#f00 78.3px,#960000 78.4px,#960000 84px)"></i><i style="left:168px;width:2px;background:linear-gradient(#005bff 0px,#007eff 16.4px,#00acff 18.4px,#00baff 23.3px,#0ff 27px,#00ffc9 30.1px,#00ff7f 37.2px,#00ff6d 40.5px,#00ff63 40.9px,#70ff42 42px,#a6ff00 43.2px,#f2ff00 45.5px,#ff0 46.3px,#ffa200 55.9px,#f70 58.9px,#ff3700 61.5px,#f00 63.2px,#f00 64.1px,#d70000 65px,#c80000 67.4px,#f00 67.5px,#f00 67.6px,#ff5900 67.7px,#ff5900 78.1px,#f00 78.2px,#f00 78.3px,#960000 78.4px,#960000 84px)"></i><i style="left:170px;width:2px;background:linear-gradient(#005bff 0px,#007eff 16.5px,#00acff 18.5px,#00baff 23.3px,#0ef 25.9px,#0ff 27.1px,#00ffc8 30.1px,#00ff81 37.2px,#00ff6d 40.5px,#00ff63 40.8px,#70ff42 41.9px,#a7ff00 43.2px,#f3ff00 45.4px,#ff0 46.3px,#ffa200 55.9px,#f70 58.9px,#ff3800 61.5px,#f00 63.2px,#f00 64.1px,#d70000 65px,#c80000 67.4px,#f00 67.5px,#f00 67.6px,#ff5b00 67.7px,#ff5b00 78.1px,#f00 78.2px,#f00 78.3px,#960000 78.4px,#960000 84px)"></i><i style="left:172px;width:2px;background:linear-gradient(#005bff 0px,#007eff 16.6px,#00acff 18.5px,#00baff 23.4px,#00efff 26px,#0ff 27.1px,#00ffc8 30.2px,#00ff82 37.2px,#00ff6c 40.5px,#00ff63 40.8px,#70ff42 41.9px,#a8ff00 43.2px,#f3ff00 45.4px,#ff0 46.2px,#ffa200 55.9px,#f70 58.9px,#ff3800 61.5px,#ff0100 63.2px,#f00 64.1px,#d70000 65px,#c80000 67.4px,#f00 67.5px,#f00 67.5px,#ff5c00 67.7px,#ff5c00 78.1px,#f00 78.2px,#f00 78.3px,#960000 78.4px,#960000 84px)"></i><i style="left:174px;width:2px;background:linear-gradient(#005bff 0px,#007eff 16.7px,#00acff 18.6px,#00baff 23.5px,#00efff 26.1px,#0ff 27.2px,#00ffc8 30.2px,#00ff83 37.1px,#00ff6c 40.5px,#00ff63 40.8px,#70ff42 41.9px,#a9ff00 43.1px,#f4ff00 45.4px,#ff0 46.2px,#ffa200 55.9px,#ff7800 58.9px,#ff3800 61.5px,#f00 63.3px,#f00 64.1px,#d70000 65px,#c80000 67.4px,#f00 67.5px,#f00 67.5px,#ff5d00 67.7px,#ff5d00 78.1px,#f00 78.2px,#f00 78.3px,#960000 78.4px,#960000 84px)"></i><i style="left:176px;width:2px;background:linear-gradient(#005bff 0px,#007eff 16.8px,#00acff 18.7px,#00baff 23.6px,#00efff 26.1px,#0ff 27.2px,#00ffc8 30.3px,#00ff84 37.1px,#00ff6b 40.5px,#00ff63 40.8px,#70ff42 41.9px,#a9ff00 43.1px,#f5ff00 45.4px,#ff0 46.1px,#ffa200 56px,#ff7800 58.9px,#ff3800 61.5px,#ff0200 63.1px,#f00 63.3px,#f00 64.1px,#d70000 65px,#c80000 67.4px,#f00 67.5px,#f00 67.5px,#ff5e00 67.7px,#ff5e00 78.1px,#f00 78.2px,#f00 78.2px,#960000 78.4px,#960000 84px)"></i><i style="left:178px;width:2px;background:linear-gradient(#005bff 0px,#007eff 16.9px,#00acff 18.8px,#00baff 23.6px,#00efff 26.2px,#0ff 27.3px,#00ffc8 30.3px,#00ff85 37.1px,#00ff6b 40.5px,#00ff63 40.8px,#70ff42 41.8px,#a5ff02 43px,#af0 43.1px,#f5ff00 45.4px,#ff0 46.1px,#ffa200 56px,#ff7800 58.9px,#ff3900 61.5px,#ff0200 63.1px,#f00 63.3px,#f00 64.1px,#d70000 65px,#c80000 67.4px,#f00 67.4px,#f00 67.5px,#ff5f00 67.7px,#ff5f00 78.1px,#f00 78.2px,#f00 78.2px,#960000 78.4px,#960000 84px)"></i><i style="left:180px;width:2px;background:linear-gradient(#005bff 0px,#007eff 17px,#00acff 18.9px,#00baff 23.7px,#00efff 26.3px,#0ff 27.3px,#00ffc7 30.3px,#00ffa7 33.4px,#00ff6a 40.5px,#00ff63 40.7px,#70ff42 41.8px,#a5ff02 42.9px,#f6ff00 45.4px,#ff0 46px,#ffa200 56px,#ff7800 58.9px,#ff3900 61.5px,#ff0300 63.1px,#f00 63.3px,#f00 64.1px,#d70000 64.9px,#c80000 67.3px,#f00 67.4px,#f00 67.5px,#ff6000 67.6px,#ff6000 78px,#f00 78.2px,#f00 78.2px,#960000 78.3px,#960000 84px)"></i><i style="left:182px;width:2px;background:linear-gradient(#005bff 0px,#007eff 17.1px,#00acff 19px,#00baff 23.8px,#00f0ff 26.3px,#0ff 27.4px,#00ffc7 30.4px,#00ff6a 40.5px,#00ff63 40.7px,#70ff42 41.8px,#a5ff02 42.9px,#f6ff00 45.3px,#ff0 46px,#ffa200 56px,#ff7900 58.9px,#ff3900 61.5px,#ff0400 63.1px,#f00 63.3px,#f00 64.1px,#d70000 64.9px,#c80000 67.3px,#f00 67.4px,#f00 67.5px,#ff6100 67.6px,#ff6100 78px,#f00 78.2px,#f00 78.2px,#960000 78.3px,#960000 84px)"></i><i style="left:184px;width:2px;background:linear-gradient(#005bff 0px,#007eff 17.1px,#00acff 19.1px,#00baff 23.9px,#00f0ff 26.4px,#0ff 27.4px,#00ffc7 30.4px,#00ff69 40.5px,#00ff63 40.7px,#70ff42 41.7px,#a5ff02 42.9px,#f7ff00 45.3px,#ff0 45.9px,#ffa200 56px,#ff7900 58.9px,#ff3900 61.5px,#ff0500 63px,#f00 63.3px,#f00 64.1px,#d70000 64.9px,#c80000 67.3px,#f00 67.4px,#f00 67.5px,#ff6200 67.6px,#ff6200 78px,#f00 78.2px,#f00 78.2px,#960000 78.3px,#960000 84px)"></i><i style="left:186px;width:2px;background:linear-gradient(#005bff 0px,#007eff 17.2px,#00acff 19.2px,#00baff 23.9px,#00f0ff 26.5px,#0ff 27.5px,#00ffc7 30.5px,#00ff63 40.7px,#70ff42 41.7px,#a5ff02 42.8px,#f8ff00 45.3px,#ff0 45.9px,#ffa200 56px,#ff7900 58.9px,#ff3900 61.5px,#ff0600 63px,#f00 63.3px,#f00 64.1px,#d70000 64.9px,#c80000 67.3px,#f00 67.4px,#f00 67.4px,#ff6300 67.6px,#ff6300 78px,#f00 78.1px,#f00 78.2px,#960000 78.3px,#960000 84px)"></i><i style="left:188px;width:2px;background:linear-gradient(#005bff 0px,#007eff 17.3px,#00acff 19.3px,#00baff 24px,#00f0ff 26.5px,#0ff 27.5px,#00ffc6 30.5px,#00ff63 40.6px,#70ff42 41.7px,#a5ff02 42.8px,#f8ff00 45.3px,#ff0 45.8px,#ffa200 56px,#ff7900 58.9px,#ff3900 61.5px,#f00 63.3px,#f00 64.1px,#d70000 64.9px,#c80000 67.3px,#f00 67.4px,#f00 67.4px,#ff6500 67.6px,#ff6500 78px,#f00 78.1px,#f00 78.2px,#960000 78.3px,#960000 84px)"></i><i style="left:190px;width:2px;background:linear-gradient(#005bff 0px,#007fff 17.1px,#00acff 19.1px,#00baff 23.8px,#00f0ff 26.4px,#0ff 27.4px,#00ffc6 30.4px,#00ff8a 37px,#00ff63 40.6px,#70ff42 41.6px,#a5ff02 42.8px,#a9ff00 42.9px,#f8ff00 45.3px,#ff0 45.8px,#ffa100 56px,#ff7800 58.9px,#ff3900 61.5px,#f00 63.3px,#f00 64.1px,#d70000 64.9px,#c80000 67.3px,#f00 67.3px,#f00 67.4px,#ff6700 67.6px,#ff6700 78px,#f00 78.1px,#f00 78.2px,#960000 78.3px,#960000 84px)"></i><i style="left:192px;width:2px;background:linear-gradient(#005bff 0px,#007fff 17px,#00adff 18.9px,#0bf 23.6px,#0ff 27.3px,#00ffc6 30.3px,#00ff8a 37px,#00ff63 40.5px,#70ff42 41.6px,#a6ff00 42.8px,#f8ff00 45.3px,#ff0 45.8px,#ffa100 56px,#ff7800 58.9px,#ff3900 61.5px,#f00 63.3px,#f00 64.1px,#d70000 64.9px,#c80000 67.2px,#f00 67.3px,#f00 67.4px,#ff6900 67.5px,#ff6900 78px,#f00 78.1px,#f00 78.1px,#960000 78.3px,#960000 84px)"></i><i style="left:194px;width:2px;background:linear-gradient(#005bff 0px,#007fff 16.8px,#00adff 18.8px,#0bf 23.4px,#0ff 27.2px,#00ffc6 30.2px,#00ff89 36.9px,#00ff63 40.4px,#70ff42 41.5px,#a5ff02 42.8px,#f9ff00 45.4px,#ff0 45.8px,#ffa100 56px,#f70 58.9px,#ff3800 61.4px,#f00 63.3px,#f00 64.1px,#d70000 64.8px,#c80000 67.2px,#f00 67.3px,#f00 67.3px,#ff6b00 67.5px,#ff6b00 77.9px,#f00 78.1px,#f00 78.1px,#960000 78.2px,#960000 84px)"></i><i style="left:196px;width:2px;background:linear-gradient(#005bff 0px,#0080ff 16.7px,#00aeff 18.6px,#0bf 23.3px,#0ff 27.1px,#00ffc6 30.1px,#00ff89 36.9px,#00ff63 40.3px,#70ff42 41.5px,#a0ff11 42.6px,#a5ff02 42.8px,#f9ff00 45.4px,#ff0 45.9px,#ffa100 56px,#ff7600 58.9px,#ff3800 61.4px,#f00 63.3px,#f00 64px,#d70000 64.8px,#c80000 67.2px,#f00 67.3px,#f00 67.3px,#ff6d00 67.5px,#ff6d00 77.9px,#f00 78px,#f00 78.1px,#960000 78.2px,#960000 84px)"></i><i style="left:198px;width:2px;background:linear-gradient(#005bff 0px,#0080ff 16.6px,#00aeff 18.5px,#0bf 23.1px,#0ff 27px,#00ffc6 30.1px,#0f8 36.9px,#00ff63 40.2px,#70ff42 41.4px,#9cff17 42.6px,#a5ff02 42.8px,#f9ff00 45.4px,#ff0 45.9px,#ffa000 56px,#ff7600 58.9px,#ff3700 61.4px,#f00 63.2px,#f00 64px,#d70000 64.8px,#c80000 67.2px,#f00 67.2px,#f00 67.3px,#ff7000 67.5px,#ff7000 77.9px,#f00 78px,#f00 78.1px,#960000 78.2px,#960000 84px)"></i><i style="left:200px;width:2px;background:linear-gradient(#005bff 0px,#0080ff 16.4px,#00aeff 18.3px,#0bf 22.9px,#0ff 26.9px,#00ffc6 30px,#0f8 36.9px,#00ff63 40.1px,#70ff42 41.4px,#99ff1d 42.5px,#a5ff02 42.8px,#f9ff00 45.4px,#ff0 45.9px,#ffa000 56px,#ff7500 58.9px,#ff3700 61.4px,#f00 63.2px,#f00 64px,#d70000 64.8px,#c80000 67.1px,#f00 67.2px,#f00 67.3px,#ff7200 67.4px,#ff7200 77.9px,#f00 78px,#f00 78.1px,#960000 78.2px,#960000 84px)"></i><i style="left:202px;width:2px;background:linear-gradient(#005bff 0px,#0080ff 16.3px,#00afff 18.1px,#00bcff 22.8px,#0ff 26.8px,#00ffc6 29.9px,#00ff87 36.8px,#00ff63 40px,#70ff42 41.4px,#95ff22 42.4px,#a5ff02 42.8px,#f9ff00 45.5px,#ff0 45.9px,#ffa000 56px,#ff7400 58.9px,#f00 63.2px,#f00 64px,#d70000 64.8px,#c80000 67.1px,#f00 67.2px,#f00 67.2px,#ff7400 67.4px,#ff7400 77.8px,#f00 78px,#f00 78px,#960000 78.1px,#960000 84px)"></i><i style="left:204px;width:2px;background:linear-gradient(#005bff 0px,#0081ff 16.1px,#00afff 18px,#00bcff 22.6px,#0ff 26.7px,#00ffc6 29.8px,#00ff87 36.8px,#00ff63 39.9px,#70ff42 41.3px,#92ff26 42.3px,#a5ff02 42.8px,#faff00 45.5px,#ff0 45.9px,#ffa000 56px,#ff7400 58.9px,#f00 63.2px,#f00 64px,#d70000 64.8px,#c80000 67.1px,#f00 67.2px,#f00 67.2px,#ff7600 67.4px,#ff7600 77.8px,#f00 78px,#f00 78px,#960000 78.1px,#960000 84px)"></i><i style="left:206px;width:2px;background:linear-gradient(#005bff 0px,#0081ff 16px,#00afff 17.8px,#00bcff 22.4px,#0ff 26.6px,#00ffc6 29.7px,#00ff86 36.8px,#00ff63 39.7px,#10ff62 39.8px,#70ff42 41.3px,#8eff2a 42.2px,#a5ff02 42.8px,#faff00 45.5px,#ff0 45.9px,#ffa000 56px,#ff7300 58.9px,#f00 63.2px,#f00 64px,#d70000 64.7px,#c80000 67.1px,#f00 67.1px,#f00 67.2px,#ff7800 67.4px,#ff7800 77.8px,#f00 77.9px,#f00 78px,#960000 78.1px,#960000 84px)"></i><i style="left:208px;width:2px;background:linear-gradient(#005bff 0px,#0081ff 15.9px,#00b0ff 17.7px,#00bcff 22.3px,#0ff 26.5px,#00ffc6 29.6px,#00ff86 36.8px,#00ff63 39.6px,#17ff61 39.8px,#70ff42 41.3px,#8aff2e 42.1px,#a5ff02 42.8px,#faff00 45.5px,#ff0 45.9px,#ff9f00 56px,#ff7200 58.9px,#f00 63.1px,#f00 63.9px,#d70000 64.7px,#c80000 67px,#f00 67.1px,#f00 67.2px,#ff7a00 67.3px,#ff7a00 77.8px,#f00 77.9px,#f00 78px,#960000 78.1px,#960000 84px)"></i><i style="left:210px;width:2px;background:linear-gradient(#005bff 0px,#0081ff 15.7px,#00b0ff 17.5px,#00bcff 22.1px,#0ff 26.4px,#00ffc6 29.5px,#00ff85 36.8px,#00ff63 39.5px,#1dff60 39.7px,#70ff42 41.3px,#87ff31 42px,#a5ff02 42.8px,#faff00 45.5px,#ff0 45.9px,#ff9f00 56px,#ff7200 58.9px,#f00 63.1px,#f00 63.9px,#d70000 64.7px,#c80000 67px,#f00 67.1px,#f00 67.1px,#ff7d00 67.3px,#ff7d00 77.8px,#f00 77.9px,#f00 78px,#960000 78.1px,#960000 84px)"></i><i style="left:212px;width:2px;background:linear-gradient(#005bff 0px,#0082ff 15.6px,#00b1ff 17.3px,#00bdff 21.9px,#0ff 26.3px,#00ffc6 29.5px,#00ff85 36.7px,#00ff63 39.4px,#22ff60 39.6px,#70ff42 41.3px,#83ff34 42px,#a5ff02 42.8px,#faff00 45.6px,#ff0 45.9px,#ffc700 52.3px,#ff9f00 56px,#ff7100 59px,#f00 63.1px,#f00 63.9px,#d70000 64.7px,#c80000 67px,#f00 67.1px,#f00 67.1px,#ff7f00 67.3px,#ff7f00 77.7px,#f00 77.9px,#f00 77.9px,#960000 78px,#960000 84px)"></i><i style="left:214px;width:2px;background:linear-gradient(#005bff 0px,#0082ff 15.5px,#00b1ff 17.2px,#00bdff 21.8px,#0ff 26.2px,#00ffc6 29.4px,#00ff84 36.7px,#00ff63 39.2px,#26ff5f 39.5px,#70ff42 41.3px,#7fff38 41.9px,#a5ff02 42.8px,#faff00 45.6px,#ff0 45.9px,#ffc600 52.3px,#ff9f00 56px,#ff7000 59px,#f00 63.1px,#f00 63.9px,#d70000 64.7px,#c80000 67px,#f00 67px,#f00 67.1px,#ff8100 67.3px,#ff8100 77.7px,#f00 77.9px,#f00 77.9px,#960000 78px,#960000 84px)"></i><i style="left:216px;width:2px;background:linear-gradient(#005bff 0px,#0082ff 15.3px,#00b1ff 17px,#00bdff 21.6px,#0ff 26.1px,#00ffc6 29.3px,#00ff84 36.7px,#00ff63 39.1px,#29ff5e 39.5px,#70ff42 41.4px,#7bff3b 41.8px,#a5ff02 42.9px,#fbff00 45.6px,#ff0 45.9px,#ffc600 52.3px,#ff9f00 56px,#ff7000 59px,#f00 63.1px,#f00 63.9px,#d70000 64.7px,#c80000 66.9px,#f00 67px,#f00 67.1px,#ff8300 67.2px,#ff8300 77.7px,#f00 77.9px,#f00 77.9px,#960000 78px,#960000 84px)"></i><i style="left:218px;width:2px;background:linear-gradient(#005bff 0px,#0082ff 15.2px,#00b2ff 16.9px,#00bdff 21.4px,#0ff 26.1px,#00ffc6 29.2px,#00ff83 36.7px,#00ff63 39px,#2dff5d 39.4px,#76ff3e 41.7px,#a5ff02 42.9px,#d4ff00 44.3px,#fbff00 45.6px,#ff0 45.9px,#ffc600 52.3px,#ff9e00 56px,#ff6f00 59px,#f00 63px,#f00 63.8px,#d70000 64.6px,#c80000 66.9px,#f00 67px,#f00 67px,#ff8500 67.2px,#ff8500 77.7px,#f00 77.8px,#f00 77.9px,#960000 78px,#960000 84px)"></i><i style="left:220px;width:2px;background:linear-gradient(#005bff 0px,#0083ff 15px,#00b2ff 16.7px,#00beff 21.3px,#0ff 26px,#00ffc6 29.1px,#00ff83 36.7px,#00ff63 38.9px,#30ff5d 39.3px,#72ff41 41.6px,#a5ff02 42.9px,#d4ff00 44.3px,#ff0 45.9px,#ffc600 52.3px,#ff9e00 56px,#ff6e00 59px,#f00 63px,#f00 63.8px,#d70000 64.6px,#c80000 66.9px,#f00 67px,#f00 67px,#ff8700 67.2px,#ff8700 77.7px,#f00 77.8px,#f00 77.9px,#960000 78px,#960000 84px)"></i><i style="left:222px;width:2px;background:linear-gradient(#005bff 0px,#0083ff 14.9px,#00b3ff 16.5px,#00beff 21.1px,#0ff 25.9px,#00ffc6 29px,#00ff82 36.6px,#00ff63 38.8px,#33ff5c 39.3px,#6eff44 41.5px,#a5ff02 42.9px,#d4ff00 44.3px,#ff0 46px,#ffc600 52.4px,#ff9e00 56px,#ff6e00 59px,#f00 63px,#f00 63.8px,#d70000 64.6px,#c80000 66.9px,#f00 66.9px,#f00 67px,#ff8a00 67.2px,#ff8a00 77.6px,#f00 77.8px,#f00 77.8px,#960000 77.9px,#960000 84px)"></i><i style="left:224px;width:2px;background:linear-gradient(#005bff 0px,#0083ff 14.8px,#00b3ff 16.4px,#00beff 20.9px,#0ff 25.8px,#00ffc6 29px,#00ff82 36.6px,#00ff63 38.7px,#36ff5b 39.2px,#69ff46 41.5px,#a5ff02 42.9px,#d4ff00 44.3px,#ff0 46px,#ffc500 52.4px,#ff9e00 56px,#ff6d00 59px,#f00 63px,#f00 63.8px,#d70000 64.6px,#c80000 66.8px,#f00 66.9px,#f00 67px,#ff8c00 67.1px,#ff8c00 77.6px,#f00 77.8px,#f00 77.8px,#960000 77.9px,#960000 84px)"></i><i style="left:226px;width:2px;background:linear-gradient(#005bff 0px,#0084ff 14.6px,#00b3ff 16.2px,#00beff 20.7px,#0ff 25.7px,#00ffc6 28.9px,#00ff81 36.6px,#00ff63 38.6px,#39ff5b 39.1px,#64ff49 41.4px,#a5ff02 42.9px,#d4ff00 44.3px,#ff0 46px,#ffc500 52.4px,#ff9d00 56px,#ff6c00 59px,#f00 63px,#f00 63.8px,#d70000 64.6px,#c80000 66.8px,#f00 66.9px,#f00 66.9px,#ff8e00 67.1px,#ff8e00 77.6px,#f00 77.8px,#f00 77.8px,#960000 77.9px,#960000 84px)"></i><i style="left:228px;width:2px;background:linear-gradient(#005bff 0px,#0084ff 14.5px,#00b4ff 16px,#00beff 20.6px,#0ff 25.6px,#00ffc6 28.8px,#00ff81 36.6px,#00ff63 38.5px,#3bff5a 39px,#5fff4c 41.3px,#70ff42 41.6px,#a5ff02 42.9px,#d4ff00 44.4px,#ff0 46px,#ffc500 52.4px,#ff9d00 56px,#ff6c00 59px,#f00 62.9px,#f00 63.8px,#d70000 64.6px,#c80000 66.8px,#f00 66.9px,#f00 66.9px,#ff9000 67.1px,#ff9000 77.6px,#f00 77.7px,#f00 77.8px,#960000 77.9px,#960000 84px)"></i><i style="left:230px;width:2px;background:linear-gradient(#005bff 0px,#0084ff 14.3px,#00b4ff 15.9px,#00bfff 20.4px,#0ff 25.5px,#00ffc6 28.7px,#00ff80 36.6px,#00ff63 38.4px,#3eff59 39px,#59ff4e 41.2px,#70ff42 41.6px,#a5ff02 42.9px,#d4ff00 44.4px,#ff0 46px,#ffc500 52.4px,#ff9d00 56px,#ff6b00 59px,#f00 62.9px,#f00 63.7px,#d70000 64.5px,#c80000 66.8px,#f00 66.8px,#f00 66.9px,#ff9200 67.1px,#ff9200 77.6px,#f00 77.7px,#f00 77.7px,#960000 77.9px,#960000 84px)"></i><i style="left:232px;width:2px;background:linear-gradient(#005bff 0px,#0084ff 14.2px,#00b4ff 15.7px,#00bfff 20.2px,#00ecff 24.1px,#0ff 25.4px,#00ffc6 28.6px,#00ff80 36.5px,#00ff63 38.3px,#40ff58 38.9px,#54ff51 41.1px,#70ff42 41.6px,#a5ff02 42.9px,#d4ff00 44.4px,#ff0 46px,#ffc400 52.5px,#ff9d00 56px,#ff6a00 59px,#f00 62.9px,#f00 63.7px,#d70000 64.5px,#c80000 66.7px,#f00 66.8px,#f00 66.8px,#ff9400 67px,#ff9400 77.5px,#f00 77.7px,#f00 77.7px,#960000 77.8px,#960000 84px)"></i><i style="left:234px;width:2px;background:linear-gradient(#005bff 0px,#0085ff 14.1px,#00b5ff 15.6px,#00bfff 20.1px,#00ebff 24px,#0ff 25.3px,#00ffc6 28.5px,#00ffa7 32.5px,#00ff7f 36.5px,#00ff63 38.2px,#42ff58 38.8px,#4dff54 41px,#70ff42 41.6px,#a5ff02 42.9px,#d4ff00 44.4px,#ff0 46px,#ffc400 52.5px,#ff9d00 56px,#ff6a00 59px,#ff2f00 61px,#f00 62.9px,#f00 63.7px,#d70000 64.5px,#c80000 66.7px,#f00 66.8px,#f00 66.8px,#ff9600 67px,#ff9600 77.5px,#f00 77.7px,#f00 77.7px,#960000 77.8px,#960000 84px)"></i><i style="left:236px;width:2px;background:linear-gradient(#005bff 0px,#0064ff 6px,#0083ff 13.9px,#0bf 16.4px,#00c4ff 23.6px,#0ff 28.4px,#00ffdf 30.3px,#00ffab 32.2px,#00ff63 33.1px,#36ff5b 33.2px,#00ff63 33.4px,#00ff9f 35.7px,#00ff63 37.4px,#70ff42 38.2px,#75ff3f 38.3px,#a0ff0f 40.9px,#a5ff02 41px,#f5ff00 43.5px,#ff0 44.2px,#ff8300 55.6px,#ff0c00 61px,#f00 62.2px,#f00 64.4px,#e40000 65.9px,#f00 65.9px,#f00 66px,#ff9700 66.2px,#ff9700 76.3px,#f00 76.5px,#f00 76.5px,#960000 76.6px,#960000 84px)"></i><i style="left:238px;width:2px;background:linear-gradient(#005bff 0px,#0064ff 6px,#0083ff 13.8px,#00beff 16.3px,#00c3ff 23.3px,#0ff 28.3px,#00ffe1 30.2px,#00ffae 32.1px,#00ff63 33.1px,#0bff62 33.1px,#00ff63 33.2px,#00ffa2 35.6px,#00ff63 37.4px,#6dff44 38.2px,#9fff12 40.8px,#a5ff02 41px,#f5ff00 43.4px,#ff0 44.1px,#ff8300 55.5px,#ff0c00 60.9px,#f00 62.1px,#f00 64.4px,#e40000 65.9px,#f00 65.9px,#f00 66px,#ff9700 66.2px,#ff9700 76.3px,#f00 76.5px,#f00 76.5px,#960000 76.6px,#960000 84px)"></i><i style="left:240px;width:2px;background:linear-gradient(#005bff 0px,#0064ff 6px,#0083ff 13.7px,#00c0ff 16.2px,#00c3ff 23px,#0ff 28.3px,#00ffe3 30px,#00ffb1 32px,#00ff69 33.1px,#00ffa4 35.5px,#00ff63 37.5px,#65ff49 38.2px,#9dff15 40.8px,#a5ff02 41px,#f4ff00 43.4px,#ff0 44.1px,#ff8400 55.4px,#ff0c00 60.8px,#f00 62.1px,#f00 64.4px,#e50000 65.9px,#f00 65.9px,#f00 66px,#ff9700 66.2px,#ff9700 76.3px,#f00 76.5px,#f00 76.5px,#960000 76.6px,#960000 84px)"></i><i style="left:242px;width:2px;background:linear-gradient(#005bff 0px,#0064ff 6px,#0083ff 13.6px,#00c2ff 16.1px,#00c2ff 22.7px,#00edff 27.1px,#0ff 28.2px,#00ffe5 29.9px,#00ffb5 31.9px,#00ff6f 33px,#00ffa6 35.4px,#00ff63 37.6px,#5cff4d 38.2px,#9cff18 40.8px,#a5ff02 41px,#f4ff00 43.4px,#ff0 44.1px,#ff8400 55.3px,#ff0c00 60.7px,#f00 62px,#f00 64.4px,#e50000 65.9px,#f00 65.9px,#f00 66px,#ff9700 66.2px,#ff9700 76.3px,#f00 76.5px,#f00 76.5px,#960000 76.6px,#960000 84px)"></i><i style="left:244px;width:2px;background:linear-gradient(#005bff 0px,#0064ff 6px,#0083ff 13.6px,#00c4ff 16px,#00c2ff 22.4px,#00ebff 26.9px,#0ff 28.2px,#00ffe7 29.7px,#00ffb8 31.9px,#00ff75 33px,#00ffa9 35.4px,#00ff63 37.6px,#51ff52 38.1px,#70ff42 39px,#9aff1b 40.7px,#a5ff02 41px,#f4ff00 43.3px,#ff0 44.1px,#ff8500 55.2px,#ff0b00 60.7px,#f00 62px,#f00 64.3px,#e50000 65.9px,#f00 65.9px,#f00 66px,#ff9700 66.2px,#ff9700 76.3px,#f00 76.5px,#f00 76.5px,#960000 76.6px,#960000 84px)"></i><i style="left:246px;width:2px;background:linear-gradient(#005bff 0px,#0064ff 6px,#0083ff 13.5px,#00c6ff 15.8px,#00c1ff 22.1px,#00e9ff 26.7px,#0ff 28.2px,#00ffe9 29.6px,#0fb 31.8px,#00ff7c 32.9px,#00ffab 35.3px,#00ff63 37.7px,#46ff57 38.1px,#70ff42 39.2px,#99ff1d 40.7px,#a5ff02 41px,#f4ff00 43.3px,#ff0 44px,#ff8500 55.1px,#ff0b00 60.6px,#f00 61.9px,#f00 64.3px,#e50000 65.9px,#f00 65.9px,#f00 66px,#ff9700 66.2px,#ff9700 76.3px,#f00 76.5px,#f00 76.5px,#960000 76.6px,#960000 84px)"></i><i style="left:248px;width:2px;background:linear-gradient(#005bff 0px,#0064ff 6px,#0083ff 13.4px,#00c9ff 15.7px,#00c1ff 21.8px,#00e7ff 26.5px,#0ff 28.1px,#00ffbe 31.7px,#00ff82 32.9px,#00ffad 35.2px,#00ff63 37.8px,#37ff5b 38px,#70ff42 39.3px,#97ff1f 40.6px,#a5ff02 41px,#f3ff00 43.2px,#ff0 44px,#ff8600 55px,#ff0b00 60.5px,#f00 61.8px,#f00 64.3px,#e50000 65.9px,#f00 65.9px,#f00 66px,#ff9700 66.2px,#ff9700 76.3px,#f00 76.5px,#f00 76.5px,#960000 76.6px,#960000 84px)"></i><i style="left:250px;width:2px;background:linear-gradient(#005bff 0px,#0064ff 6px,#0083ff 13.3px,#00cbff 15.6px,#00c0ff 21.5px,#00e5ff 26.3px,#0ff 28.1px,#00ffc1 31.6px,#0f8 32.8px,#00ffaf 35.1px,#00ff63 37.9px,#24ff5f 38px,#70ff42 39.4px,#95ff21 40.6px,#a5ff02 41px,#f3ff00 43.2px,#ff0 44px,#ff8600 54.9px,#ff0b00 60.4px,#f00 61.8px,#f00 64.3px,#e60000 65.9px,#f00 65.9px,#f00 66px,#ff9700 66.2px,#ff9700 76.3px,#f00 76.5px,#f00 76.5px,#960000 76.6px,#960000 84px)"></i><i style="left:252px;width:2px;background:linear-gradient(#005bff 0px,#0064ff 6px,#0083ff 13.2px,#00cdff 15.5px,#00bfff 21.2px,#00e2ff 26.1px,#0ff 28.1px,#00ffc4 31.5px,#00ff8e 32.8px,#00ffb2 35px,#00ff63 38px,#70ff42 39.5px,#94ff23 40.6px,#a5ff02 41px,#f3ff00 43.2px,#ff0 44px,#ff8600 54.8px,#ff0a00 60.3px,#f00 61.7px,#f00 64.3px,#e60000 65.9px,#f00 65.9px,#f00 66px,#ff9700 66.2px,#ff9700 76.3px,#f00 76.5px,#f00 76.5px,#960000 76.6px,#960000 84px)"></i><i style="left:254px;width:2px;background:linear-gradient(#005bff 0px,#0064ff 6px,#0083ff 13.2px,#00cfff 15.4px,#00bfff 20.8px,#00e0ff 25.9px,#0ff 28.1px,#00ffc7 31.5px,#00ff94 32.7px,#00ffb4 35px,#00ff63 38.1px,#70ff42 39.6px,#92ff25 40.5px,#a5ff02 41px,#f2ff00 43.1px,#ff0 43.9px,#ff8700 54.6px,#ff0a00 60.3px,#f00 61.6px,#f00 64.2px,#e60000 65.9px,#f00 65.9px,#f00 66px,#ff9700 66.2px,#ff9700 76.3px,#f00 76.5px,#f00 76.5px,#960000 76.6px,#960000 84px)"></i><i style="left:256px;width:2px;background:linear-gradient(#005bff 0px,#0064ff 6px,#0083ff 13.1px,#00d1ff 15.2px,#00beff 20.5px,#00deff 25.7px,#0ff 28px,#00ffcb 31.4px,#00ff9a 32.7px,#00ffb6 34.9px,#00ff63 38.3px,#70ff42 39.6px,#91ff27 40.5px,#a5ff02 41px,#f2ff00 43.1px,#ff0 43.9px,#ff8700 54.5px,#ff0a00 60.2px,#f00 61.6px,#f00 64.2px,#e60000 65.9px,#f00 65.9px,#f00 66px,#ff9700 66.2px,#ff9700 76.3px,#f00 76.5px,#f00 76.5px,#960000 76.6px,#960000 84px)"></i><i style="left:258px;width:2px;background:linear-gradient(#005bff 0px,#0064ff 6px,#0083ff 13px,#00d4ff 15.1px,#00beff 20.2px,#00dcff 25.5px,#0ff 28px,#00ffce 31.3px,#00ff9f 32.6px,#00ffb8 34.8px,#00ff63 38.4px,#70ff42 39.7px,#8fff29 40.5px,#a5ff02 41px,#f2ff00 43.1px,#ff0 43.9px,#f80 54.4px,#ff0a00 60.1px,#f00 61.5px,#f00 64.2px,#e60000 65.9px,#f00 65.9px,#f00 66px,#ff9700 66.2px,#ff9700 76.3px,#f00 76.5px,#f00 76.5px,#960000 76.6px,#960000 84px)"></i><i style="left:260px;width:2px;background:linear-gradient(#005bff 0px,#0064ff 6px,#0083ff 12.9px,#00d6ff 15px,#00bdff 19.9px,#00daff 25.2px,#0ff 28px,#00ffd1 31.2px,#00ffa5 32.6px,#0fb 34.7px,#00ff63 38.5px,#70ff42 39.7px,#8dff2b 40.4px,#a5ff02 41px,#f2ff00 43px,#ff0 43.8px,#f80 54.3px,#ff0900 60px,#f00 61.4px,#f00 64.2px,#e70000 65.9px,#f00 65.9px,#f00 66px,#ff9700 66.2px,#ff9700 76.3px,#f00 76.5px,#f00 76.5px,#960000 76.6px,#960000 84px)"></i><i style="left:262px;width:2px;background:linear-gradient(#005bff 0px,#0064ff 6px,#0083ff 12.9px,#00d8ff 14.9px,#00bdff 19.6px,#00d7ff 25px,#0ff 28px,#00ffd4 31.2px,#00ffab 32.5px,#00ffbd 34.7px,#00ff63 38.6px,#70ff42 39.8px,#8cff2c 40.4px,#a5ff02 40.9px,#f1ff00 43px,#ff0 43.8px,#ff8900 54.2px,#ff0900 60px,#f00 61.4px,#f00 64.2px,#e70000 65.9px,#f00 65.9px,#f00 66px,#ff9700 66.2px,#ff9700 76.3px,#f00 76.5px,#f00 76.5px,#960000 76.6px,#960000 84px)"></i><i style="left:264px;width:2px;background:linear-gradient(#005bff 0px,#0064ff 6px,#0083ff 12.8px,#00daff 14.8px,#00bcff 19.3px,#00d5ff 24.8px,#0ff 28px,#00ffd7 31.1px,#00ffb1 32.5px,#00ffbf 34.6px,#00ff63 38.7px,#70ff42 39.8px,#8aff2e 40.3px,#a5ff02 40.9px,#f1ff00 42.9px,#ff0 43.8px,#ff8900 54.1px,#ff0900 59.9px,#f00 61.3px,#f00 64.2px,#e70000 65.9px,#f00 65.9px,#f00 66px,#ff9700 66.2px,#ff9700 76.3px,#f00 76.5px,#f00 76.5px,#960000 76.6px,#960000 84px)"></i><i style="left:266px;width:2px;background:linear-gradient(#005bff 0px,#0064ff 6px,#0083ff 12.7px,#00dcff 14.7px,#00bcff 19px,#00d3ff 24.6px,#0ff 28px,#00ffda 31px,#00ffb6 32.4px,#00ffc1 34.5px,#00ff80 37.7px,#00ff63 38.8px,#70ff42 39.8px,#88ff30 40.3px,#a5ff02 40.9px,#f1ff00 42.9px,#ff0 43.8px,#ff8900 54px,#ff0900 59.8px,#f00 61.2px,#f00 64.1px,#e70000 65.9px,#f00 65.9px,#f00 66px,#ff9700 66.2px,#ff9700 76.3px,#f00 76.5px,#f00 76.5px,#960000 76.6px,#960000 84px)"></i><i style="left:268px;width:2px;background:linear-gradient(#005bff 0px,#0064ff 6px,#0083ff 12.6px,#00dfff 14.5px,#0bf 18.7px,#00d1ff 24.4px,#0ff 28px,#0fd 30.9px,#00ffbc 32.4px,#00ffc4 34.4px,#00ff83 37.7px,#00ff63 38.8px,#70ff42 39.8px,#86ff31 40.3px,#a5ff02 40.9px,#f0ff00 42.9px,#ff0 43.7px,#ff8a00 53.9px,#ff0800 59.7px,#f00 61.1px,#f00 64.1px,#e80000 65.9px,#f00 65.9px,#f00 66px,#ff9700 66.2px,#ff9700 76.3px,#f00 76.5px,#f00 76.5px,#960000 76.6px,#960000 84px)"></i><i style="left:270px;width:2px;background:linear-gradient(#005bff 0px,#0064ff 6px,#0083ff 12.6px,#00e1ff 14.4px,#00baff 18.4px,#00cfff 24.2px,#0ff 28.1px,#00ffe0 30.9px,#00ffc1 32.3px,#00ffc6 34.4px,#00ff87 37.6px,#00ff63 38.9px,#70ff42 39.9px,#85ff33 40.2px,#a5ff02 40.9px,#f0ff00 42.8px,#ff0 43.7px,#ff8a00 53.8px,#ff0800 59.7px,#f00 61.1px,#f00 64.1px,#e80000 65.9px,#f00 65.9px,#f00 66px,#ff9700 66.2px,#ff9700 76.3px,#f00 76.5px,#f00 76.5px,#960000 76.6px,#960000 84px)"></i><i style="left:272px;width:2px;background:linear-gradient(#005bff 0px,#0064ff 6px,#0083ff 12.5px,#00e3ff 14.3px,#00baff 18.1px,#0cf 24px,#0ff 28.1px,#00ffe3 30.8px,#00ffc7 32.3px,#00ffc8 34.3px,#00ff8b 37.6px,#00ff63 38.9px,#70ff42 39.9px,#83ff34 40.2px,#a5ff02 40.9px,#f0ff00 42.8px,#ff0 43.7px,#ff8b00 53.7px,#ff0800 59.6px,#f00 61px,#f00 64.1px,#e80000 65.9px,#f00 65.9px,#f00 66px,#ff9700 66.2px,#ff9700 76.3px,#f00 76.5px,#f00 76.5px,#960000 76.6px,#960000 84px)"></i><i style="left:274px;width:2px;background:linear-gradient(#005bff 0px,#0064ff 6px,#0083ff 12.4px,#00e5ff 14.2px,#00b9ff 17.8px,#00caff 23.8px,#0ff 28.2px,#00ffe6 30.7px,#00ffcd 32.2px,#00ffca 34.2px,#00ff8f 37.6px,#00ff63 39px,#70ff42 39.9px,#81ff36 40.2px,#a5ff02 40.9px,#efff00 42.8px,#ff0 43.6px,#ff8b00 53.6px,#ff0800 59.5px,#f00 60.9px,#f00 64.1px,#e80000 65.9px,#f00 65.9px,#f00 66px,#ff9700 66.2px,#ff9700 76.3px,#f00 76.5px,#f00 76.5px,#960000 76.6px,#960000 84px)"></i><i style="left:276px;width:2px;background:linear-gradient(#005bff 0px,#0064ff 6px,#0083ff 12.3px,#00e7ff 14.1px,#00b9ff 17.5px,#00c8ff 23.6px,#0ff 28.3px,#00ffe9 30.6px,#00ffd2 32.2px,#0fc 34.1px,#00ff93 37.5px,#00ff63 39px,#70ff42 39.9px,#7fff37 40.1px,#a5ff02 40.9px,#efff00 42.7px,#ff0 43.6px,#ff8c00 53.4px,#ff0700 59.4px,#f00 60.9px,#f00 64.1px,#e80000 65.9px,#f00 65.9px,#f00 66px,#ff9700 66.2px,#ff9700 76.3px,#f00 76.5px,#f00 76.5px,#960000 76.6px,#960000 84px)"></i><i style="left:278px;width:2px;background:linear-gradient(#005bff 0px,#0064ff 6px,#0083ff 12.3px,#00eaff 13.9px,#00b8ff 17.1px,#00c6ff 23.4px,#0ff 28.5px,#00ffd8 32.1px,#00ffcf 34.1px,#00ff96 37.5px,#00ff63 39px,#70ff42 39.9px,#7dff39 40.1px,#a5ff02 40.9px,#efff00 42.7px,#ff0 43.6px,#ff8c00 53.3px,#ff4500 56.8px,#ff0700 59.4px,#f00 60.8px,#f00 64.1px,#e90000 65.9px,#f00 65.9px,#f00 66px,#ff9700 66.2px,#ff9700 76.3px,#f00 76.5px,#f00 76.5px,#960000 76.6px,#960000 84px)"></i><i style="left:280px;width:2px;background:linear-gradient(#005bff 0px,#0064ff 6px,#0083ff 12.2px,#00ecff 13.8px,#00b8ff 16.8px,#00c4ff 23.2px,#00f2ff 27.1px,#0ff 28.6px,#0fd 32.1px,#00ffd1 34px,#00ff9a 37.4px,#00ff63 39px,#70ff42 39.9px,#7cff3a 40px,#a5ff02 40.8px,#efff00 42.6px,#ff0 43.5px,#ff8d00 53.2px,#ff4500 56.7px,#ff0700 59.3px,#f00 60.7px,#f00 64px,#e90000 65.9px,#f00 65.9px,#f00 66px,#ff9700 66.2px,#ff9700 76.3px,#f00 76.5px,#f00 76.5px,#960000 76.6px,#960000 84px)"></i><i style="left:282px;width:2px;background:linear-gradient(#005bff 0px,#0064ff 6px,#0083ff 12.1px,#0ef 13.7px,#00b7ff 16.5px,#00c1ff 23px,#00f0ff 26.9px,#0ff 28.8px,#00ffd3 33.9px,#00ffb0 36.2px,#00ff9e 37.4px,#00ff63 39.1px,#70ff42 39.9px,#7aff3b 40px,#a5ff02 40.8px,#ef0 42.6px,#ff0 43.5px,#ff8d00 53.1px,#ff4500 56.6px,#ff0700 59.2px,#f00 60.7px,#f00 64px,#e90000 65.9px,#f00 65.9px,#f00 66px,#ff9700 66.2px,#ff9700 76.3px,#f00 76.5px,#f00 76.5px,#960000 76.6px,#960000 84px)"></i><i style="left:284px;width:2px;background:linear-gradient(#005bff 0px,#0064ff 6px,#0083ff 12.2px,#00ebff 13.8px,#00b9ff 16.6px,#00c3ff 23px,#00f1ff 26.8px,#0ff 28.7px,#00ffd2 33.9px,#00ff9c 37.4px,#00ff63 39.1px,#70ff42 39.9px,#7cff3a 40px,#a5ff02 40.8px,#efff00 42.6px,#ff0 43.5px,#ff8d00 53.1px,#ff4500 56.5px,#ff0700 59.1px,#f00 60.6px,#f00 64.1px,#eb0000 65.9px,#f00 65.9px,#f00 66px,#ff9800 66.2px,#ff9800 76.3px,#f00 76.4px,#f00 76.5px,#960000 76.6px,#960000 84px)"></i><i style="left:286px;width:2px;background:linear-gradient(#005bff 0px,#0064ff 6px,#0083ff 12.3px,#00e7ff 14px,#0bf 16.7px,#00c6ff 22.9px,#00f2ff 26.8px,#0ff 28.5px,#00ffd0 34px,#00ff9a 37.5px,#00ff63 39px,#70ff42 39.9px,#7fff38 40.1px,#a5ff02 40.8px,#f1ff00 42.6px,#ff0 43.4px,#ff8c00 53px,#ff4500 56.5px,#ff0700 59.1px,#f00 60.6px,#f00 64.2px,#ed0000 65.9px,#f00 65.9px,#f00 66px,#ff9800 66.2px,#ff9800 76.3px,#f00 76.4px,#f00 76.5px,#960000 76.6px,#960000 84px)"></i><i style="left:288px;width:2px;background:linear-gradient(#005bff 0px,#0064ff 6px,#0083ff 12.4px,#00e4ff 14.1px,#00bdff 16.8px,#00c8ff 22.8px,#00f3ff 26.7px,#0ff 28.4px,#00ffce 34px,#00ff97 37.5px,#00ff63 39px,#70ff42 39.8px,#82ff35 40.1px,#a5ff02 40.8px,#f2ff00 42.6px,#ff0 43.3px,#ffdb00 46px,#ff8c00 53px,#ff0700 59px,#f00 60.6px,#f00 64.3px,#ef0000 65.9px,#f00 65.9px,#f00 65.9px,#f90 66.2px,#f90 76.2px,#f00 76.4px,#f00 76.4px,#960000 76.5px,#960000 84px)"></i><i style="left:290px;width:2px;background:linear-gradient(#005bff 0px,#0064ff 6px,#0083ff 12.5px,#00e0ff 14.3px,#00c0ff 16.8px,#00cbff 22.8px,#00f5ff 26.6px,#0ff 28.2px,#0fc 34px,#00ff95 37.5px,#00ff63 39px,#70ff42 39.8px,#84ff33 40.1px,#a5ff02 40.8px,#f3ff00 42.7px,#ff0 43.3px,#ffda00 46px,#ff8b00 53px,#ff0800 58.9px,#f00 60.6px,#f00 64.4px,#f10000 65.9px,#f00 65.9px,#f00 65.9px,#f90 66.2px,#f90 76.2px,#f00 76.4px,#f00 76.4px,#960000 76.5px,#960000 84px)"></i><i style="left:292px;width:2px;background:linear-gradient(#005bff 0px,#0064ff 6px,#0083ff 12.6px,#00dcff 14.4px,#00c2ff 16.9px,#00cdff 22.7px,#00f6ff 26.5px,#0ff 28px,#0fe 30.4px,#00ffcb 34.1px,#00ff93 37.6px,#00ff63 39px,#70ff42 39.8px,#87ff31 40.2px,#a5ff02 40.8px,#f5ff00 42.7px,#ff0 43.2px,#ffd900 45.9px,#ff8b00 52.9px,#ff0800 58.8px,#f00 60.6px,#f00 64.6px,#f20000 65.8px,#f00 65.9px,#f00 65.9px,#f90 66.1px,#f90 76.2px,#f00 76.4px,#f00 76.4px,#960000 76.5px,#960000 84px)"></i><i style="left:294px;width:2px;background:linear-gradient(#005bff 0px,#0064ff 6px,#0083ff 12.7px,#00d9ff 14.6px,#00c4ff 17px,#00cfff 22.7px,#0ff 27.8px,#00ffed 30.4px,#00ffc9 34.1px,#00ff90 37.6px,#00ff63 39px,#70ff42 39.8px,#89ff2e 40.2px,#a5ff02 40.8px,#f6ff00 42.7px,#ff0 43.2px,#ffd800 45.9px,#ff8a00 52.9px,#ff0800 58.8px,#f00 60.7px,#f00 64.7px,#f40000 65.8px,#f00 65.8px,#f00 65.9px,#ff9a00 66.1px,#ff9a00 76.2px,#f00 76.3px,#f00 76.4px,#960000 76.5px,#960000 84px)"></i><i style="left:296px;width:2px;background:linear-gradient(#005bff 0px,#0064ff 6px,#0083ff 12.9px,#00d5ff 14.7px,#00c6ff 17.1px,#00d2ff 22.6px,#0ff 27.5px,#00ffed 30.4px,#00ffc7 34.2px,#00ff8e 37.7px,#00ff63 38.9px,#70ff42 39.8px,#8cff2c 40.3px,#a5ff02 40.8px,#f7ff00 42.7px,#ff0 43.1px,#ffd700 45.9px,#ff8a00 52.8px,#ff0800 58.7px,#f00 60.7px,#f00 64.9px,#f60000 65.8px,#f00 65.8px,#f00 65.9px,#ff9a00 66.1px,#ff9a00 76.2px,#f00 76.3px,#f00 76.4px,#960000 76.5px,#960000 84px)"></i><i style="left:298px;width:2px;background:linear-gradient(#005bff 0px,#0064ff 6px,#0083ff 13px,#00d2ff 14.9px,#00c9ff 17.2px,#00d4ff 22.6px,#0ff 27.3px,#00ffec 30.4px,#00ffc5 34.2px,#00ff8c 37.7px,#00ff63 38.9px,#70ff42 39.8px,#8eff29 40.3px,#a5ff02 40.7px,#f9ff00 42.7px,#ff0 43.1px,#ffd700 45.8px,#ff8a00 52.8px,#ff0900 58.6px,#f00 60.7px,#f00 65px,#f80000 65.8px,#f00 65.8px,#f00 65.9px,#ff9b00 66.1px,#ff9b00 76.1px,#f00 76.3px,#f00 76.3px,#960000 76.4px,#960000 84px)"></i><i style="left:300px;width:2px;background:linear-gradient(#005bff 0px,#0064ff 6px,#0083ff 13.1px,#00ceff 15.1px,#00cbff 17.3px,#00d7ff 22.5px,#0ff 27.1px,#00ffeb 30.4px,#00ffc4 34.2px,#00ff89 37.7px,#00ff63 38.9px,#70ff42 39.8px,#91ff27 40.3px,#a5ff02 40.7px,#d4ff00 41.8px,#ff0 43px,#ffd600 45.8px,#ff8900 52.8px,#ff0900 58.6px,#f00 60.7px,#f00 65.2px,#fa0000 65.8px,#f00 65.8px,#f00 65.8px,#ff9b00 66.1px,#ff9b00 76.1px,#f00 76.3px,#f00 76.3px,#960000 76.4px,#960000 84px)"></i><i style="left:302px;width:2px;background:linear-gradient(#005bff 0px,#0064ff 6px,#0083ff 13.2px,#00caff 15.2px,#00d9ff 22.5px,#0ff 26.8px,#00ffea 30.4px,#00ffc2 34.3px,#00ff87 37.8px,#00ff63 38.9px,#70ff42 39.8px,#93ff24 40.4px,#a5ff02 40.7px,#d4ff00 41.8px,#ff0 43px,#ffd500 45.8px,#ff8900 52.7px,#ff0900 58.5px,#f00 60.8px,#f00 65.8px,#ff9c00 66.1px,#ff9c00 76.1px,#f00 76.3px,#f00 76.3px,#960000 76.4px,#960000 84px)"></i><i style="left:304px;width:2px;background:linear-gradient(#005bff 0px,#0064ff 6px,#0083ff 13.3px,#00c7ff 15.4px,#00dcff 22.4px,#0ff 26.6px,#00ffe9 30.4px,#00ffc0 34.3px,#00ff84 37.8px,#00ff63 38.8px,#70ff42 39.7px,#96ff21 40.4px,#a5ff02 40.7px,#ff0 42.9px,#ffd400 45.7px,#f80 52.7px,#ff0900 58.4px,#f00 60.8px,#f00 65.8px,#ff9c00 66.1px,#ff9c00 76.1px,#f00 76.2px,#f00 76.3px,#960000 76.4px,#960000 84px)"></i><i style="left:306px;width:2px;background:linear-gradient(#005bff 0px,#0064ff 6px,#0083ff 13.4px,#00c3ff 15.5px,#00d1ff 17.6px,#00deff 22.3px,#0ff 26.3px,#00ffe8 30.4px,#00ffbe 34.4px,#00ff82 37.9px,#00ff63 38.8px,#70ff42 39.7px,#98ff1e 40.5px,#a5ff02 40.7px,#ff0 42.9px,#ffd300 45.7px,#f80 52.6px,#ff0a00 58.3px,#f00 60.8px,#f00 65.8px,#ff9d00 66px,#ff9d00 76px,#f00 76.2px,#f00 76.3px,#960000 76.3px,#960000 84px)"></i><i style="left:308px;width:2px;background:linear-gradient(#005bff 0px,#0064ff 6px,#0083ff 13.5px,#00bfff 15.7px,#00d4ff 17.6px,#00e0ff 22.3px,#0ff 26px,#00ffe7 30.4px,#00ffbd 34.4px,#00ff80 37.9px,#00ff63 38.8px,#70ff42 39.7px,#9bff1a 40.5px,#a5ff02 40.7px,#ff0 42.8px,#ffd200 45.7px,#ff8700 52.6px,#ff0a00 58.3px,#f00 60.9px,#f00 65.8px,#ff9d00 66px,#ff9d00 76px,#f00 76.2px,#f00 76.2px,#960000 76.3px,#960000 84px)"></i><i style="left:310px;width:2px;background:linear-gradient(#005bff 0px,#0064ff 6px,#0083ff 13.6px,#00bcff 15.8px,#00d6ff 17.7px,#00e3ff 22.2px,#0ff 25.8px,#00ffe6 30.4px,#0fb 34.4px,#00ff7d 37.9px,#00ff63 38.8px,#70ff42 39.7px,#9dff16 40.5px,#a5ff02 40.7px,#ff0 42.8px,#ffd200 45.6px,#ff8700 52.6px,#ff0a00 58.2px,#f00 60.9px,#f00 65.8px,#ff9d00 66px,#ff9d00 76px,#f00 76.2px,#f00 76.2px,#960000 76.3px,#960000 84px)"></i><i style="left:312px;width:2px;background:linear-gradient(#005bff 0px,#0064ff 6px,#0083ff 13.7px,#00b8ff 16px,#00d8ff 17.8px,#00e5ff 22.2px,#0ff 25.6px,#00ffe6 30.4px,#00ffb9 34.5px,#00ff7b 38px,#00ff63 38.7px,#70ff42 39.7px,#9fff12 40.6px,#a5ff02 40.7px,#ff0 42.8px,#ffd100 45.6px,#ff8600 52.5px,#ff0a00 58.1px,#f00 61px,#f00 65.8px,#ff9e00 66px,#ff9e00 76px,#f00 76.2px,#f00 76.2px,#960000 76.3px,#960000 84px)"></i><i style="left:314px;width:2px;background:linear-gradient(#005bff 0px,#0064ff 6px,#0083ff 13.8px,#00daff 17.9px,#00e8ff 22.1px,#0ff 25.3px,#00ffe5 30.4px,#00ffb7 34.5px,#00ff78 38px,#00ff63 38.7px,#70ff42 39.6px,#a1ff0c 40.6px,#a5ff02 40.7px,#ff0 42.8px,#ffd000 45.6px,#ff8600 52.5px,#ff0b00 58.1px,#f00 61.1px,#f00 65.7px,#ff9e00 66px,#ff9e00 76px,#f00 76.1px,#f00 76.2px,#960000 76.3px,#960000 84px)"></i><i style="left:316px;width:2px;background:linear-gradient(#005bff 0px,#0064ff 6px,#0083ff 14px,#00b1ff 16.3px,#00dcff 18px,#00eaff 22.1px,#0ff 25.1px,#00ffe4 30.4px,#00ffb5 34.5px,#00ff76 38px,#00ff63 38.6px,#70ff42 39.6px,#a5ff02 40.7px,#ff0 42.8px,#ffcf00 45.5px,#ff8600 52.5px,#ff0b00 58px,#f00 61.2px,#f00 65.7px,#ff9f00 66px,#ff9f00 75.9px,#f00 76.1px,#f00 76.1px,#960000 76.2px,#960000 84px)"></i><i style="left:318px;width:2px;background:linear-gradient(#005bff 0px,#0064ff 6px,#0083ff 14.1px,#00adff 16.4px,#00dfff 18.1px,#00ecff 22px,#0ff 24.8px,#00ffe3 30.4px,#00ffb4 34.6px,#00ff73 38.1px,#00ff63 38.6px,#70ff42 39.6px,#a6ff00 40.7px,#ff0 42.7px,#ffce00 45.5px,#ff8500 52.4px,#ff0b00 57.9px,#f00 61.3px,#f00 65.7px,#ff9f00 66px,#ff9f00 75.9px,#f00 76.1px,#f00 76.1px,#960000 76.2px,#960000 84px)"></i><i style="left:320px;width:2px;background:linear-gradient(#005bff 0px,#0064ff 6px,#0083ff 14.2px,#00a9ff 16.6px,#00e1ff 18.2px,#00efff 22px,#0ff 24.5px,#00ffe2 30.4px,#00ffb2 34.6px,#00ff71 38.1px,#00ff63 38.6px,#70ff42 39.6px,#a8ff00 40.7px,#ff0 42.7px,#ffcd00 45.5px,#ff8500 52.4px,#ff0b00 57.8px,#f00 61.4px,#f00 65.7px,#ffa000 66px,#ffa000 75.9px,#f00 76.1px,#f00 76.1px,#960000 76.2px,#960000 84px)"></i><i style="left:322px;width:2px;background:linear-gradient(#005bff 0px,#0064ff 6px,#0083ff 14.3px,#00a5ff 16.7px,#00e3ff 18.3px,#0ff 24.2px,#00ffe1 30.4px,#00ffb0 34.7px,#00ff63 38.5px,#70ff42 39.5px,#a5ff02 40.6px,#ff0 42.7px,#fc0 45.4px,#ff8400 52.3px,#ff0c00 57.8px,#f00 61.5px,#f00 65.7px,#ffa000 65.9px,#ffa000 75.9px,#f00 76px,#f00 76.1px,#960000 76.2px,#960000 84px)"></i><i style="left:324px;width:2px;background:linear-gradient(#005bff 0px,#0064ff 6px,#0083ff 14.4px,#00a2ff 16.9px,#00e5ff 18.4px,#0ff 23.9px,#00ffe0 30.4px,#00ffae 34.7px,#00ff63 38.5px,#70ff42 39.5px,#a5ff02 40.6px,#ff0 42.7px,#fc0 45.4px,#ff8400 52.3px,#ff0c00 57.7px,#f00 61.6px,#f00 65.7px,#ffa000 65.9px,#ffa000 75.9px,#f00 76px,#f00 76.1px,#960000 76.2px,#960000 84px)"></i><i style="left:326px;width:2px;background:linear-gradient(#005bff 0px,#0064ff 6px,#0083ff 14.5px,#009eff 17px,#00e7ff 18.4px,#0ff 23.5px,#00ffdf 30.4px,#00ffac 34.7px,#00ff63 38.4px,#70ff42 39.5px,#a5ff02 40.6px,#ff0 42.7px,#ffcb00 45.4px,#ff8300 52.3px,#ff0c00 57.6px,#f00 61.8px,#f00 65.7px,#ffa100 65.9px,#ffa100 75.8px,#f00 76px,#f00 76px,#960000 76.1px,#960000 84px)"></i><i style="left:328px;width:2px;background:linear-gradient(#005bff 0px,#0064ff 6px,#0083ff 14.6px,#009aff 17.2px,#00eaff 18.5px,#0ff 23.1px,#00ffde 30.4px,#00ffab 34.8px,#00ff63 38.4px,#70ff42 39.4px,#a5ff02 40.6px,#ff0 42.7px,#ffca00 45.3px,#ff8300 52.2px,#ff0c00 57.6px,#f00 62px,#f00 65.6px,#ffa100 65.9px,#ffa100 75.8px,#f00 76px,#f00 76px,#960000 76.1px,#960000 84px)"></i><i style="left:330px;width:2px;background:linear-gradient(#005bff 0px,#0064ff 6px,#0083ff 14.7px,#0098ff 17.4px,#00f0ff 18.7px,#0ff 19.2px,#00fff4 19.6px,#00ffe8 20.6px,#00ffea 22.1px,#00ffb1 27px,#00ff79 34px,#00ff63 35.4px,#70ff42 37.1px,#a5ff02 39.1px,#c0ff00 40.3px,#ff0 41.9px,#fff000 42.5px,#ffac00 43.5px,#ff9600 47px,#ffac00 50.5px,#ff7900 53.1px,#ff0d00 57.5px,#f00 59.7px,#f00 63.5px,#f00000 65px,#f00 65px,#f00 65.1px,#ffae00 65.3px,#ffba00 75.5px,#f00 75.7px,#f00 75.7px,#960000 75.8px,#960000 84px)"></i><i style="left:332px;width:2px;background:linear-gradient(#005bff 0px,#0064ff 6px,#0083ff 14.9px,#09f 17.6px,#00f0ff 19px,#0ff 19.5px,#00ffdc 20.9px,#00ffea 22.4px,#00ffb1 27.2px,#00ff7a 34.1px,#00ff63 35.4px,#70ff42 37.2px,#a5ff02 39.2px,#bcff00 40.2px,#ff0 41.9px,#fff100 42.4px,#ffae00 43.5px,#ff9200 47.1px,#ffab00 50.6px,#ff7900 53.1px,#ff0d00 57.5px,#f00 59.8px,#f00 63.6px,#f00000 65px,#f00 65px,#f00 65.1px,#ffaf00 65.3px,#fb0 75.5px,#f00 75.7px,#f00 75.7px,#960000 75.8px,#960000 84px)"></i><i style="left:334px;width:2px;background:linear-gradient(#005bff 0px,#0064ff 6px,#0083ff 15px,#009bff 17.8px,#00f0ff 19.2px,#0ff 19.7px,#00ffd1 21.2px,#00ffe9 22.7px,#00ffb2 27.4px,#00ff7a 34.1px,#00ff63 35.5px,#70ff42 37.3px,#a5ff02 39.3px,#b8ff00 40.1px,#ff0 41.9px,#fff100 42.4px,#ffaf00 43.5px,#ff8d00 47.1px,#fa0 50.6px,#ff7900 53.2px,#ff0e00 57.6px,#f00 59.8px,#f00 63.6px,#f10000 65px,#f00 65px,#f00 65px,#ffb000 65.3px,#ffbc00 75.5px,#f00 75.6px,#f00 75.7px,#960000 75.8px,#960000 84px)"></i><i style="left:336px;width:2px;background:linear-gradient(#005bff 0px,#0064ff 6px,#0083ff 15.2px,#009dff 18px,#00f0ff 19.5px,#0ff 20px,#00ffc5 21.5px,#00ffe9 23px,#00ffb2 27.5px,#00ff7b 34.1px,#00ff63 35.6px,#70ff42 37.4px,#a5ff02 39.4px,#b4ff00 40.1px,#ff0 41.8px,#fff200 42.3px,#ffb100 43.5px,#f80 47.2px,#ffa900 50.6px,#ff7900 53.2px,#ff0e00 57.6px,#f00 59.9px,#f00 63.6px,#f10000 65px,#f00 65px,#f00 65px,#ffb100 65.3px,#ffbc00 75.4px,#f00 75.6px,#f00 75.7px,#960000 75.7px,#960000 84px)"></i><i style="left:338px;width:2px;background:linear-gradient(#005bff 0px,#0064ff 6px,#0083ff 15.3px,#009fff 18.3px,#00f0ff 19.8px,#0ff 20.3px,#00fff1 20.7px,#00ffb9 21.7px,#00ffe8 23.3px,#00ffb3 27.7px,#00ff7b 34.2px,#00ff63 35.7px,#70ff42 37.5px,#a5ff02 39.5px,#b0ff00 40px,#ff0 41.8px,#fff200 42.3px,#ffb300 43.5px,#ff9e00 45.4px,#ff8300 47.2px,#ffa800 50.7px,#ff7900 53.2px,#ff0f00 57.6px,#f00 59.9px,#f00 63.6px,#f10000 65px,#f00 65px,#f00 65px,#ffb200 65.3px,#ffbd00 75.4px,#f00 75.6px,#f00 75.6px,#960000 75.7px,#960000 84px)"></i><i style="left:340px;width:2px;background:linear-gradient(#005bff 0px,#0064ff 6px,#0083ff 15.5px,#00a0ff 18.5px,#00f0ff 20.1px,#0ff 20.5px,#00fff0 21px,#00ffad 22px,#00ffe8 23.6px,#00ffb3 27.9px,#00ff7c 34.2px,#00ff63 35.8px,#70ff42 37.6px,#a5ff02 39.6px,#acff00 39.9px,#ff0 41.8px,#fff200 42.2px,#ffb400 43.5px,#ff9f00 45.4px,#ff7f00 47.3px,#ffa700 50.7px,#ff7900 53.3px,#ff0f00 57.6px,#f00 60px,#f00 63.7px,#f10000 65px,#f00 65px,#f00 65px,#ffb300 65.3px,#ffbe00 75.4px,#f00 75.6px,#f00 75.6px,#960000 75.7px,#960000 84px)"></i><i style="left:342px;width:2px;background:linear-gradient(#005bff 0px,#0064ff 6px,#0083ff 15.6px,#00a2ff 18.7px,#0ff 20.8px,#00ffef 21.2px,#00ffa1 22.3px,#00ffe8 23.9px,#00ffb4 28.1px,#00ff7c 34.3px,#00ff63 35.8px,#70ff42 37.7px,#a5ff02 39.7px,#ff0 41.7px,#fff300 42.1px,#ffb600 43.5px,#ff9f00 45.4px,#ff7a00 47.3px,#ffa600 50.8px,#ff7900 53.3px,#ff1000 57.7px,#f00 60px,#f00 63.7px,#f20000 64.9px,#f00 65px,#f00 65px,#ffb400 65.2px,#ffbe00 75.4px,#f00 75.6px,#f00 75.6px,#960000 75.7px,#960000 84px)"></i><i style="left:344px;width:2px;background:linear-gradient(#005bff 0px,#0064ff 6px,#0083ff 15.8px,#00a4ff 18.9px,#0ff 21.1px,#0fe 21.5px,#00ff95 22.6px,#00ffe7 24.3px,#00ffb4 28.2px,#00ff7d 34.3px,#00ff63 35.9px,#70ff42 37.8px,#a5ff02 39.8px,#ff0 41.7px,#ffb800 43.5px,#ffa000 45.4px,#ff7500 47.4px,#ffa600 50.8px,#ff7900 53.3px,#ff1000 57.7px,#f00 60.1px,#f00 63.7px,#f20000 64.9px,#f00 65px,#f00 65px,#ffb500 65.2px,#ffbf00 75.4px,#f00 75.6px,#f00 75.6px,#960000 75.7px,#960000 84px)"></i><i style="left:346px;width:2px;background:linear-gradient(#005bff 0px,#0064ff 6px,#0083ff 15.9px,#00a6ff 19.2px,#0ff 21.4px,#00ffed 21.8px,#0f8 22.9px,#00ffe7 24.6px,#00ffb5 28.4px,#00ff7d 34.3px,#00ff63 36px,#70ff42 37.9px,#9fff12 39.7px,#a5ff02 39.8px,#ff0 41.6px,#ffb900 43.5px,#ffa000 45.4px,#ff7000 47.4px,#ffa500 50.8px,#ff7900 53.4px,#f10 57.7px,#f00 60.1px,#f00 63.7px,#f20000 64.9px,#f00 64.9px,#f00 65px,#ffb600 65.2px,#ffc000 75.4px,#f00 75.5px,#f00 75.6px,#960000 75.7px,#960000 84px)"></i><i style="left:348px;width:2px;background:linear-gradient(#005bff 0px,#0064ff 6px,#0083ff 16.1px,#00a7ff 19.4px,#0ff 21.6px,#00ffed 22.1px,#00ff7b 23.2px,#00ffe6 24.9px,#00ffb5 28.6px,#00ff7e 34.4px,#00ff63 36.1px,#70ff42 38px,#9bff1a 39.6px,#a5ff02 39.8px,#ff0 41.6px,#fb0 43.5px,#ffa000 45.3px,#ff6b00 47.5px,#ffa400 50.9px,#ff7900 53.4px,#f10 57.7px,#f00 60.2px,#f00 63.8px,#f20000 64.9px,#f00 64.9px,#f00 65px,#ffb700 65.2px,#ffc000 75.3px,#f00 75.5px,#f00 75.6px,#960000 75.6px,#960000 84px)"></i><i style="left:350px;width:2px;background:linear-gradient(#005bff 0px,#0064ff 6px,#0083ff 16.3px,#00a9ff 19.6px,#0ff 21.9px,#00ffec 22.3px,#00ff6e 23.5px,#00ffe6 25.2px,#00ffb6 28.7px,#00ff7e 34.4px,#00ff63 36.2px,#70ff42 38.1px,#96ff20 39.5px,#a5ff02 39.8px,#ff0 41.6px,#ffbd00 43.5px,#ffa100 45.3px,#ff6700 47.5px,#ffa300 50.9px,#ff7900 53.4px,#ff1200 57.8px,#f00 60.2px,#f00 63.8px,#f30000 64.9px,#f00 64.9px,#f00 65px,#ffb800 65.2px,#ffc100 75.3px,#f00 75.5px,#f00 75.5px,#960000 75.6px,#960000 84px)"></i><i style="left:352px;width:2px;background:linear-gradient(#005bff 0px,#0064ff 6px,#0083ff 16.4px,#00abff 19.9px,#0ff 22.2px,#00ffeb 22.6px,#00ff63 23.8px,#1dff60 23.8px,#00ff63 23.8px,#00ffe5 25.5px,#00ffb6 28.9px,#00ff7f 34.5px,#00ff63 36.3px,#70ff42 38.2px,#91ff26 39.4px,#a5ff02 39.8px,#ff0 41.5px,#ffbe00 43.5px,#ffa100 45.3px,#ff6200 47.6px,#ffa200 51px,#ff7900 53.5px,#ff1200 57.8px,#f00 60.3px,#f00 63.8px,#f30000 64.9px,#f00 64.9px,#f00 65px,#ffb900 65.2px,#ffc200 75.3px,#f00 75.5px,#f00 75.5px,#960000 75.6px,#960000 84px)"></i><i style="left:354px;width:2px;background:linear-gradient(#005bff 0px,#0064ff 6px,#0083ff 16.5px,#00acff 20.1px,#0ff 22.5px,#00ffea 23px,#00ff63 24.2px,#4bff55 24.3px,#00ff63 24.4px,#00ffe3 26px,#00ffb5 29.2px,#00ff7e 34.6px,#00ff63 36.4px,#70ff42 38.3px,#8fff29 39.4px,#a5ff02 39.8px,#ff0 41.5px,#ffc000 43.5px,#ffa200 45.3px,#ff5e00 47.6px,#ffa100 51px,#ff7900 53.5px,#ff1300 57.8px,#f00 60.3px,#f00 63.8px,#f30000 64.9px,#f00 64.9px,#f00 65px,#fb0 65.2px,#ffc200 75.3px,#f00 75.5px,#f00 75.5px,#960000 75.6px,#960000 84px)"></i><i style="left:356px;width:2px;background:linear-gradient(#005bff 0px,#0064ff 6px,#0083ff 16.5px,#00adff 20.3px,#0ff 23px,#00ffea 23.6px,#00ff63 24.8px,#5cff4d 24.9px,#00ff63 25.2px,#0fd 26.7px,#00ffb1 29.9px,#00ff7b 35px,#00ff63 36.5px,#70ff42 38.3px,#91ff27 39.5px,#a5ff02 39.8px,#ff0 41.6px,#ffc100 43.6px,#ffa300 45.4px,#ff5c00 47.6px,#ffa000 50.8px,#ff7a00 53.3px,#ff1300 57.8px,#f00 60.3px,#f00 63.8px,#f30000 64.9px,#f00 64.9px,#f00 64.9px,#ffbc00 65.2px,#ffc300 75.3px,#f00 75.4px,#f00 75.5px,#960000 75.6px,#960000 84px)"></i><i style="left:358px;width:2px;background:linear-gradient(#005bff 0px,#0064ff 6px,#0083ff 16.5px,#00aeff 20.6px,#0ff 23.5px,#00ffe9 24.2px,#00ff63 25.4px,#6bff45 25.6px,#00ff63 25.9px,#00ffd7 27.4px,#00ffad 30.5px,#00ff78 35.3px,#00ff63 36.5px,#70ff42 38.3px,#92ff25 39.5px,#a5ff02 39.8px,#ff0 41.6px,#ffc300 43.7px,#ffa400 45.5px,#ff5a00 47.6px,#ffa000 50.7px,#ff7b00 53.2px,#ff1400 57.7px,#f00 60.3px,#f00 63.8px,#f30000 64.9px,#f00 64.9px,#f00 64.9px,#ffbd00 65.2px,#ffc400 75.2px,#f00 75.4px,#f00 75.5px,#960000 75.5px,#960000 84px)"></i><i style="left:360px;width:2px;background:linear-gradient(#005bff 0px,#0064ff 6px,#0083ff 16.5px,#00aeff 20.9px,#0ff 24px,#00ffe9 24.8px,#00ff63 26px,#70ff42 26.3px,#78ff3d 26.3px,#70ff42 26.3px,#00ff63 26.7px,#00ffd1 28.2px,#00ff74 35.6px,#00ff63 36.6px,#70ff42 38.4px,#94ff23 39.6px,#a5ff02 39.8px,#ff0 41.6px,#ffc500 43.8px,#ffa500 45.5px,#ff5800 47.5px,#ff9f00 50.6px,#ff7c00 53.1px,#ff1400 57.7px,#f00 60.3px,#f00 63.8px,#f40000 64.8px,#f00 64.9px,#f00 64.9px,#ffbe00 65.1px,#ffc400 75.2px,#f00 75.4px,#f00 75.4px,#960000 75.5px,#960000 84px)"></i><i style="left:362px;width:2px;background:linear-gradient(#005bff 0px,#0064ff 6px,#0083ff 16.5px,#00afff 21.1px,#0ff 24.5px,#00ffe8 25.4px,#00ff63 26.6px,#70ff42 26.9px,#84ff34 27px,#70ff42 27.1px,#00ff63 27.5px,#00ffcb 28.9px,#00ff63 36.7px,#70ff42 38.4px,#96ff21 39.6px,#a5ff02 39.9px,#ff0 41.7px,#ffc700 43.8px,#ffa500 45.6px,#ff5600 47.5px,#ff9e00 50.5px,#ff7d00 53px,#ff4c00 55.4px,#ff1400 57.7px,#f00 60.3px,#f00 63.8px,#f40000 64.8px,#f00 64.8px,#f00 64.9px,#ffc000 65.1px,#ffc500 75.2px,#f00 75.4px,#f00 75.4px,#960000 75.5px,#960000 84px)"></i><i style="left:364px;width:2px;background:linear-gradient(#005bff 0px,#0064ff 6px,#0083ff 16.5px,#00b0ff 21.4px,#0ff 25px,#00ffe8 26px,#00ff63 27.2px,#70ff42 27.5px,#8fff29 27.6px,#70ff42 27.9px,#00ff63 28.2px,#00ffc5 29.6px,#00ff63 36.9px,#70ff42 38.5px,#97ff1f 39.7px,#a5ff02 39.9px,#ff0 41.7px,#ffc800 43.9px,#ffa600 45.7px,#ff5400 47.5px,#ff9d00 50.4px,#ff7d00 52.9px,#ff4e00 55.3px,#ff1500 57.7px,#f00 60.3px,#f00 63.8px,#f40000 64.8px,#f00 64.8px,#f00 64.9px,#ffc100 65.1px,#ffc500 75.2px,#f00 75.3px,#f00 75.4px,#960000 75.5px,#960000 84px)"></i><i style="left:366px;width:2px;background:linear-gradient(#005bff 0px,#0064ff 6px,#0083ff 16.5px,#00b1ff 21.6px,#0ff 25.5px,#00ffe8 26.6px,#00ff63 27.8px,#70ff42 28.1px,#99ff1c 28.3px,#70ff42 28.6px,#00ff63 29px,#00ffbf 30.3px,#00ff63 37px,#70ff42 38.5px,#99ff1d 39.7px,#a5ff02 39.9px,#ff0 41.7px,#ffa700 45.7px,#ff5200 47.5px,#ff9c00 50.2px,#ff7e00 52.8px,#ff5000 55.3px,#ff1500 57.6px,#f00 60.3px,#f00 63.8px,#f40000 64.8px,#f00 64.8px,#f00 64.8px,#ffc200 65.1px,#ffc600 75.1px,#f00 75.3px,#f00 75.4px,#960000 75.4px,#960000 84px)"></i><i style="left:368px;width:2px;background:linear-gradient(#005bff 0px,#0064ff 6px,#0083ff 16.5px,#00b2ff 21.9px,#0ff 26px,#00ffe7 27.2px,#00ff63 28.5px,#70ff42 28.7px,#a3ff08 29px,#70ff42 29.4px,#00ff63 29.8px,#00ffb9 31.1px,#00ff9a 33.7px,#00ff63 37.2px,#70ff42 38.6px,#9aff1a 39.8px,#a5ff02 40px,#ff0 41.8px,#ffa800 45.8px,#ff5000 47.5px,#ff9b00 50.1px,#ff7f00 52.7px,#ff5200 55.2px,#ff1600 57.6px,#f00 60.3px,#f00 63.8px,#f40000 64.8px,#f00 64.8px,#f00 64.8px,#ffc400 65.1px,#ffc700 75.1px,#f00 75.3px,#f00 75.3px,#960000 75.4px,#960000 84px)"></i><i style="left:370px;width:2px;background:linear-gradient(#005bff 0px,#0064ff 6px,#0083ff 16.5px,#00b2ff 22.1px,#0ff 26.4px,#00ffe7 27.8px,#00ff63 29.1px,#70ff42 29.3px,#a5ff02 29.6px,#acff00 29.7px,#a5ff02 29.7px,#70ff42 30.2px,#00ff63 30.6px,#00ffb3 31.8px,#00ff96 34.3px,#00ff63 37.4px,#70ff42 38.7px,#9cff18 39.8px,#a5ff02 40px,#ff0 41.8px,#ffa900 45.9px,#ff4e00 47.5px,#ff9a00 50px,#ff8000 52.6px,#ff5600 55px,#ff1600 57.6px,#f00 60.3px,#f00 63.8px,#f40000 64.8px,#f00 64.8px,#f00 64.8px,#ffc500 65.1px,#ffc700 75.1px,#f00 75.3px,#f00 75.3px,#960000 75.4px,#960000 84px)"></i><i style="left:372px;width:2px;background:linear-gradient(#005bff 0px,#0064ff 6px,#0083ff 16.5px,#00b3ff 22.4px,#0ff 26.9px,#00ffe6 28.3px,#00ff63 29.7px,#70ff42 29.9px,#a5ff02 30.2px,#b5ff00 30.3px,#a5ff02 30.5px,#70ff42 31px,#00ff63 31.4px,#00ffad 32.5px,#00ff92 34.9px,#00ff63 37.5px,#1eff60 37.7px,#70ff42 38.8px,#9dff15 39.9px,#a5ff02 40px,#ff0 41.9px,#fa0 45.9px,#ff4c00 47.4px,#f90 49.9px,#ff8100 52.5px,#f50 55.1px,#ff1600 57.6px,#f00 60.3px,#f00 63.8px,#f50000 64.7px,#f00 64.8px,#f00 64.8px,#ffc600 65px,#ffc800 75.1px,#f00 75.2px,#f00 75.3px,#960000 75.4px,#960000 84px)"></i><i style="left:374px;width:2px;background:linear-gradient(#005bff 0px,#0064ff 6px,#0083ff 16.5px,#00b4ff 22.6px,#0ff 27.4px,#00ffe6 28.9px,#00ff63 30.3px,#70ff42 30.5px,#a5ff02 30.8px,#beff00 31px,#a5ff02 31.3px,#70ff42 31.8px,#00ff63 32.2px,#00ffa7 33.2px,#00ff8e 35.6px,#00ff63 37.7px,#31ff5d 38px,#70ff42 38.9px,#9fff12 39.9px,#a5ff02 40px,#d4ff00 40.9px,#ff0 42px,#ffab00 46px,#ff4a00 47.4px,#f90 49.8px,#ff8100 52.4px,#ff5700 55px,#ff1700 57.5px,#f00 60.4px,#f00 63.8px,#f50000 64.7px,#f00 64.7px,#f00 64.8px,#ffc700 65px,#ffc800 75px,#f00 75.2px,#f00 75.3px,#960000 75.3px,#960000 84px)"></i><i style="left:376px;width:2px;background:linear-gradient(#005bff 0px,#0064ff 6px,#0083ff 16.5px,#00b5ff 22.9px,#0ff 27.9px,#00ffe5 29.5px,#00ff63 30.9px,#70ff42 31.2px,#a5ff02 31.5px,#c7ff00 31.7px,#a5ff02 32.1px,#70ff42 32.5px,#00ff63 33px,#00ffa1 34px,#00ff8a 36.2px,#00ff63 37.9px,#3eff59 38.3px,#70ff42 39px,#a1ff0f 40px,#a5ff02 40.1px,#d4ff00 41px,#ff0 42px,#ffab00 46.1px,#ff4800 47.4px,#ff9800 49.7px,#ff8200 52.3px,#ff5900 54.9px,#ff1700 57.5px,#f00 60.4px,#f00 63.8px,#f50000 64.7px,#f00 64.7px,#f00 64.8px,#ffc900 65px,#ffc900 75px,#f00 75.2px,#f00 75.2px,#960000 75.3px,#960000 84px)"></i><i style="left:378px;width:2px;background:linear-gradient(#005bff 0px,#0064ff 6px,#0083ff 16.5px,#00b5ff 23px,#0ff 28.1px,#00ffe2 29.9px,#00ff63 31.3px,#70ff42 31.6px,#a5ff02 31.9px,#cbff00 32.2px,#a5ff02 32.6px,#70ff42 33.1px,#00ff63 33.6px,#0f9 34.5px,#00ff84 36.6px,#00ff63 38px,#4dff54 38.6px,#70ff42 39px,#a5ff02 40px,#d4ff00 41px,#ff0 42px,#ffd300 44.4px,#ffab00 46.1px,#ff4600 47.4px,#ff9700 49.6px,#ff8200 52.2px,#ff5900 54.9px,#ff1700 57.5px,#f00 60.4px,#f00 63.8px,#f50000 64.7px,#f00 64.7px,#f00 64.8px,#ffc900 65px,#ffc900 75px,#f00 75.2px,#f00 75.2px,#960000 75.3px,#960000 84px)"></i><i style="left:380px;width:2px;background:linear-gradient(#005bff 0px,#0064ff 6px,#0083ff 16.5px,#00b6ff 23px,#0ff 28.1px,#0fd 30.2px,#00ff63 31.6px,#70ff42 31.9px,#a5ff02 32.3px,#cbff00 32.6px,#a5ff02 33px,#70ff42 33.5px,#00ff63 34px,#00ff90 34.8px,#00ff7b 36.8px,#00ff63 37.8px,#5eff4c 38.7px,#70ff42 39px,#a5ff02 40px,#ff0 42px,#ffd200 44.4px,#ffa900 46.2px,#ff4500 47.5px,#ff9600 49.6px,#ff8200 52.3px,#ff5900 55px,#ff1700 57.6px,#f00 60.4px,#f00 63.8px,#f50000 64.7px,#f00 64.7px,#f00 64.8px,#ffca00 65px,#ffca00 75px,#f00 75.2px,#f00 75.2px,#960000 75.3px,#960000 84px)"></i><i style="left:382px;width:2px;background:linear-gradient(#005bff 0px,#0064ff 6px,#0083ff 16.5px,#00b6ff 23px,#0ff 28.1px,#00ffd8 30.4px,#00ff63 31.9px,#70ff42 32.2px,#a5ff02 32.6px,#cbff00 32.9px,#a5ff02 33.4px,#70ff42 33.9px,#00ff63 34.4px,#00ff87 35.1px,#00ff72 37px,#00ff63 37.6px,#6bff45 38.8px,#a5ff02 39.9px,#ff0 41.9px,#ffd100 44.4px,#ffa700 46.2px,#f40 47.5px,#ff9500 49.6px,#ff8200 52.3px,#ff5800 55px,#ff1700 57.6px,#f00 60.4px,#f00 63.8px,#f50000 64.7px,#f00 64.7px,#f00 64.8px,#ffca00 65px,#ffca00 75px,#f00 75.2px,#f00 75.2px,#960000 75.3px,#960000 84px)"></i><i style="left:384px;width:2px;background:linear-gradient(#005bff 0px,#0064ff 6px,#0083ff 16.5px,#00b7ff 23px,#0ff 28.1px,#00ffd4 30.6px,#00ff63 32.2px,#70ff42 32.5px,#a5ff02 32.9px,#cbff00 33.3px,#a5ff02 33.8px,#70ff42 34.3px,#00ff63 34.9px,#00ff7e 35.3px,#00ff63 37.4px,#70ff42 38.7px,#78ff3d 38.9px,#a5ff02 39.8px,#ff0 41.9px,#ffd000 44.4px,#ffa600 46.2px,#ff4200 47.5px,#ff9400 49.6px,#ff8100 52.4px,#ff5800 55px,#ff1700 57.6px,#f00 60.4px,#f00 63.8px,#f50000 64.7px,#f00 64.7px,#f00 64.8px,#ffca00 65px,#ffca00 75px,#f00 75.2px,#f00 75.2px,#960000 75.3px,#960000 84px)"></i><i style="left:386px;width:2px;background:linear-gradient(#005bff 0px,#0064ff 6px,#0083ff 16.5px,#00b7ff 23px,#0ff 28px,#00ffce 30.8px,#00ff63 32.4px,#70ff42 32.8px,#a5ff02 33.3px,#cbff00 33.6px,#a5ff02 34.2px,#70ff42 34.8px,#00ff63 35.3px,#00ff75 35.6px,#00ff63 37.1px,#25ff5f 37.4px,#70ff42 38.5px,#83ff34 39px,#a5ff02 39.8px,#ff0 41.9px,#ffcf00 44.4px,#ffa400 46.3px,#ff4100 47.6px,#ff9300 49.6px,#ff8100 52.4px,#ff5700 55.1px,#ff1600 57.7px,#f00 60.4px,#f00 63.8px,#f50000 64.7px,#f00 64.7px,#f00 64.8px,#ffca00 65px,#ffca00 75px,#f00 75.1px,#f00 75.2px,#960000 75.3px,#960000 84px)"></i><i style="left:388px;width:2px;background:linear-gradient(#005bff 0px,#0064ff 6px,#0083ff 16.5px,#00b7ff 23px,#0ff 28px,#00ffc9 31.1px,#00ff63 32.7px,#70ff42 33.1px,#a5ff02 33.6px,#cbff00 34px,#a5ff02 34.6px,#70ff42 35.2px,#00ff63 35.8px,#00ff6b 35.9px,#00ff63 36.6px,#49ff55 37.6px,#70ff42 38.3px,#8eff2a 39.1px,#a5ff02 39.7px,#ff0 41.9px,#ffcf00 44.4px,#ffa200 46.3px,#ff4000 47.6px,#ff9300 49.6px,#ff8100 52.5px,#ff5700 55.1px,#ff1600 57.7px,#f00 60.4px,#f00 63.8px,#f50000 64.7px,#f00 64.7px,#f00 64.8px,#ffcb00 65px,#ffcb00 75px,#f00 75.1px,#f00 75.2px,#960000 75.3px,#960000 84px)"></i><i style="left:390px;width:2px;background:linear-gradient(#005bff 0px,#0064ff 6px,#0083ff 16.5px,#00b8ff 23px,#0ff 28px,#00ffc4 31.3px,#00ff63 33px,#70ff42 33.4px,#a5ff02 33.9px,#cbff00 34.4px,#a5ff02 35px,#70ff42 35.6px,#14ff61 36.2px,#70ff42 38.1px,#97ff1f 39.2px,#a5ff02 39.6px,#ff0 41.9px,#ffce00 44.4px,#ffa100 46.3px,#ff3e00 47.7px,#ff9200 49.6px,#ff8000 52.5px,#ff5600 55.2px,#ff1600 57.8px,#f00 60.5px,#f00 63.8px,#f50000 64.7px,#f00 64.7px,#f00 64.8px,#ffcb00 65px,#ffcb00 74.9px,#f00 75.1px,#f00 75.2px,#960000 75.2px,#960000 84px)"></i><i style="left:392px;width:2px;background:linear-gradient(#005bff 0px,#0064ff 6px,#0083ff 16.5px,#00b8ff 23px,#0ff 28px,#00ffbf 31.5px,#00ff63 33.2px,#70ff42 33.7px,#a5ff02 34.3px,#cbff00 34.7px,#a5ff02 35.4px,#70ff42 36.1px,#44ff57 36.5px,#74ff3f 38px,#a1ff0d 39.3px,#a5ff02 39.4px,#ff0 41.8px,#ffcd00 44.4px,#ff9f00 46.4px,#ff3d00 47.7px,#ff9100 49.6px,#ff8000 52.6px,#ff5600 55.2px,#ff1600 57.8px,#f00 60.5px,#f00 63.8px,#f50000 64.7px,#f00 64.7px,#f00 64.8px,#ffcb00 65px,#ffcb00 74.9px,#f00 75.1px,#f00 75.2px,#960000 75.2px,#960000 84px)"></i><i style="left:394px;width:2px;background:linear-gradient(#005bff 0px,#0064ff 6px,#0083ff 16.5px,#00b9ff 23px,#0ff 28px,#00ffba 31.7px,#00ff63 33.5px,#70ff42 34px,#a5ff02 34.6px,#cbff00 35.1px,#a5ff02 35.8px,#70ff42 36.6px,#5eff4c 36.8px,#85ff33 38.2px,#a5ff02 39.2px,#d2ff00 40.6px,#ff0 41.8px,#fc0 44.4px,#ff9d00 46.4px,#ff3c00 47.8px,#ff9000 49.6px,#ff8000 52.6px,#f50 55.3px,#ff1600 57.9px,#f00 60.5px,#f00 63.8px,#f50000 64.7px,#f00 64.7px,#f00 64.8px,#ffcb00 65px,#ffcb00 74.9px,#f00 75.1px,#f00 75.1px,#960000 75.2px,#960000 84px)"></i><i style="left:396px;width:2px;background:linear-gradient(#005bff 0px,#0064ff 6px,#0083ff 16.5px,#00b9ff 23px,#0ff 28px,#00ffb5 32px,#00ff63 33.7px,#70ff42 34.3px,#a5ff02 34.9px,#cbff00 35.5px,#a5ff02 36.3px,#72ff40 37.1px,#94ff23 38.4px,#a5ff02 39px,#d7ff00 40.7px,#ff0 41.8px,#ffcb00 44.4px,#ff9b00 46.4px,#ff3a00 47.8px,#ff8f00 49.6px,#ff7f00 52.7px,#f50 55.3px,#ff1500 57.9px,#f00 60.5px,#f00 63.8px,#f50000 64.7px,#f00 64.7px,#f00 64.8px,#fc0 65px,#fc0 74.9px,#f00 75.1px,#f00 75.1px,#960000 75.2px,#960000 84px)"></i><i style="left:398px;width:2px;background:linear-gradient(#005bff 0px,#0064ff 6px,#0083ff 16.5px,#00baff 23px,#0ff 28px,#00ffb0 32.2px,#00ff63 33.9px,#70ff42 34.6px,#a5ff02 35.2px,#cbff00 35.8px,#a5ff02 36.7px,#84ff33 37.4px,#a2ff0c 38.5px,#a5ff02 38.7px,#dcff00 40.8px,#ff0 41.7px,#ffca00 44.4px,#ff9a00 46.5px,#ff3900 47.8px,#ff8e00 49.6px,#ff7f00 52.7px,#f50 55.3px,#ff1500 57.9px,#f00 60.5px,#f00 63.8px,#f50000 64.7px,#f00 64.7px,#f00 64.8px,#fc0 65px,#fc0 74.9px,#f00 75.1px,#f00 75.1px,#960000 75.2px,#960000 84px)"></i><i style="left:400px;width:2px;background:linear-gradient(#005bff 0px,#0064ff 6px,#0083ff 16.5px,#00baff 23px,#0ff 28px,#00ffab 32.4px,#00ff63 34.1px,#70ff42 34.8px,#a5ff02 35.5px,#cbff00 36.2px,#a5ff02 37.3px,#94ff24 37.7px,#a5ff02 38.3px,#e1ff00 40.9px,#ff0 41.7px,#ffc900 44.4px,#ff9800 46.5px,#ff3800 47.9px,#ff8d00 49.6px,#ff7f00 52.8px,#ff5400 55.4px,#ff1500 58px,#f00 60.5px,#f00 63.8px,#f50000 64.7px,#f00 64.7px,#f00 64.8px,#fc0 65px,#fc0 74.9px,#f00 75.1px,#f00 75.1px,#960000 75.2px,#960000 84px)"></i><i style="left:402px;width:2px;background:linear-gradient(#005bff 0px,#0064ff 6px,#0083ff 16.5px,#00baff 23px,#0ff 28.1px,#0fa 32.6px,#00ff63 34.4px,#70ff42 35.1px,#a5ff02 35.8px,#c9ff00 36.5px,#a5ff02 37.6px,#98ff1e 37.9px,#a5ff02 38.4px,#e3ff00 40.9px,#ff0 41.7px,#ffc900 44.4px,#ff9700 46.5px,#ff3600 47.9px,#ff8d00 49.6px,#ff7e00 52.8px,#ff5400 55.4px,#ff1500 58px,#f00 60.6px,#f00 63.8px,#f50000 64.7px,#f00 64.7px,#f00 64.7px,#fc0 65px,#fc0 74.9px,#f00 75.1px,#f00 75.1px,#960000 75.2px,#960000 84px)"></i><i style="left:404px;width:2px;background:linear-gradient(#005bff 0px,#0064ff 6px,#0083ff 16.5px,#0bf 23.1px,#0ff 28.1px,#00ffab 32.7px,#00ff63 34.6px,#70ff42 35.3px,#a5ff02 36.1px,#c8ff00 36.7px,#a5ff02 37.8px,#98ff1e 38.2px,#a5ff02 38.6px,#e2ff00 41px,#ff0 41.7px,#ff9600 46.5px,#ff3500 47.9px,#ff8d00 49.7px,#ff7e00 52.8px,#ff5300 55.4px,#ff1500 58.1px,#f00 60.6px,#f00 63.8px,#f50000 64.7px,#f00 64.7px,#f00 64.7px,#ffcd00 65px,#ffcd00 74.9px,#f00 75.1px,#f00 75.1px,#960000 75.2px,#960000 84px)"></i><i style="left:406px;width:2px;background:linear-gradient(#005bff 0px,#0064ff 6px,#0083ff 16.5px,#0bf 23.1px,#0ff 28.2px,#00ffac 32.8px,#00ff63 34.8px,#70ff42 35.5px,#a5ff02 36.3px,#c6ff00 37px,#a5ff02 38px,#98ff1e 38.4px,#a5ff02 38.8px,#e2ff00 41px,#ff0 41.8px,#ff9500 46.5px,#f30 47.9px,#ff8d00 49.7px,#ff7d00 52.9px,#ff5300 55.5px,#ff1400 58.1px,#f00 60.6px,#f00 63.8px,#f50000 64.7px,#f00 64.7px,#f00 64.7px,#ffcd00 65px,#ffcd00 74.9px,#f00 75.1px,#f00 75.1px,#960000 75.2px,#960000 84px)"></i><i style="left:408px;width:2px;background:linear-gradient(#005bff 0px,#0064ff 6px,#0083ff 16.5px,#0bf 23.2px,#0ff 28.2px,#00ffad 33px,#00ff63 35px,#70ff42 35.8px,#a5ff02 36.6px,#c4ff00 37.2px,#a5ff02 38.2px,#98ff1e 38.6px,#a5ff02 39px,#e2ff00 41.1px,#ff0 41.8px,#ff9400 46.5px,#ff3200 47.9px,#ff8d00 49.7px,#ff7d00 52.9px,#ff5200 55.5px,#ff1400 58.1px,#f00 60.6px,#f00 63.8px,#f50000 64.7px,#f00 64.7px,#f00 64.7px,#ffcd00 65px,#ffcd00 74.9px,#f00 75.1px,#f00 75.1px,#960000 75.2px,#960000 84px)"></i><i style="left:410px;width:2px;background:linear-gradient(#005bff 0px,#0064ff 6px,#0083ff 16.5px,#0bf 23.2px,#0ff 28.2px,#00ffae 33.1px,#00ff63 35.2px,#70ff42 36px,#a5ff02 36.9px,#c3ff00 37.5px,#a5ff02 38.4px,#98ff1e 38.8px,#a5ff02 39.3px,#e2ff00 41.1px,#ff0 41.8px,#ff9300 46.5px,#ff3000 47.9px,#ff8d00 49.8px,#ff7c00 52.9px,#ff5200 55.5px,#ff1400 58.2px,#f00 60.6px,#f00 63.8px,#f50000 64.7px,#f00 64.7px,#f00 64.7px,#ffcd00 65px,#ffcd00 74.9px,#f00 75px,#f00 75.1px,#960000 75.2px,#960000 84px)"></i><i style="left:412px;width:2px;background:linear-gradient(#005bff 0px,#0064ff 6px,#0083ff 16.5px,#00bcff 23.2px,#0ff 28.3px,#00ffaf 33.2px,#00ff63 35.4px,#70ff42 36.2px,#a5ff02 37.1px,#c1ff00 37.7px,#a5ff02 38.6px,#98ff1e 39px,#a5ff02 39.5px,#e1ff00 41.2px,#ff0 41.8px,#fff000 42.3px,#ff9200 46.5px,#ff2f00 47.9px,#ff8d00 49.8px,#ff7c00 52.9px,#ff5100 55.5px,#ff1400 58.2px,#f00 60.6px,#f00 63.8px,#f50000 64.7px,#f00 64.7px,#f00 64.7px,#ffcd00 65px,#ffcd00 74.9px,#f00 75px,#f00 75.1px,#960000 75.2px,#960000 84px)"></i><i style="left:414px;width:2px;background:linear-gradient(#005bff 0px,#0064ff 6px,#0083ff 16.5px,#00bcff 23.3px,#0ff 28.3px,#00ffaf 33.3px,#00ff63 35.6px,#70ff42 36.5px,#a5ff02 37.4px,#bfff00 37.9px,#a5ff02 38.8px,#98ff1e 39.2px,#a5ff02 39.7px,#a9ff00 39.8px,#ff0 41.9px,#fff000 42.3px,#ff9200 46.5px,#ff2d00 47.9px,#ff8d00 49.8px,#ff7b00 53px,#ff5100 55.6px,#ff1400 58.2px,#f00 60.6px,#f00 63.8px,#f50000 64.6px,#f00 64.7px,#f00 64.7px,#ffcd00 64.9px,#ffcd00 74.8px,#f00 75px,#f00 75.1px,#960000 75.1px,#960000 84px)"></i><i style="left:416px;width:2px;background:linear-gradient(#005bff 0px,#0064ff 6px,#0083ff 16.5px,#00bcff 23.3px,#0ff 28.4px,#00ffb0 33.5px,#00ff63 35.9px,#70ff42 36.7px,#a5ff02 37.7px,#bdff00 38.2px,#a5ff02 39px,#98ff1e 39.4px,#a7ff00 40px,#ff0 41.9px,#fff000 42.3px,#ff9100 46.5px,#ff2c00 47.9px,#ff8d00 49.9px,#ff7b00 53px,#ff5000 55.6px,#ff1300 58.3px,#f00 60.6px,#f00 63.8px,#f50000 64.6px,#f00 64.6px,#f00 64.7px,#ffce00 64.9px,#ffce00 74.8px,#f00 75px,#f00 75.1px,#960000 75.1px,#960000 84px)"></i><i style="left:418px;width:2px;background:linear-gradient(#005bff 0px,#0064ff 6px,#0083ff 16.5px,#00bcff 23.4px,#0ff 28.4px,#00ffb1 33.6px,#00ff63 36.1px,#70ff42 37px,#a5ff02 37.9px,#bcff00 38.4px,#a5ff02 39.2px,#98ff1e 39.6px,#a6ff00 40.1px,#c3ff00 40.6px,#e1ff00 41.3px,#ff0 41.9px,#fff000 42.3px,#ff9000 46.5px,#ff2a00 47.9px,#ff8d00 49.9px,#ff7b00 53px,#ff5000 55.6px,#ff1300 58.3px,#f00 60.6px,#f00 63.8px,#f50000 64.6px,#f00 64.6px,#f00 64.7px,#ffce00 64.9px,#ffce00 74.8px,#f00 75px,#f00 75px,#960000 75.1px,#960000 84px)"></i><i style="left:420px;width:2px;background:linear-gradient(#005bff 0px,#0064ff 6px,#0083ff 16.5px,#00bdff 23.4px,#0ff 28.5px,#00ffb2 33.7px,#00ff63 36.3px,#70ff42 37.2px,#a5ff02 38.2px,#baff00 38.7px,#a5ff02 39.4px,#98ff1e 39.8px,#a5ff02 40.3px,#c2ff00 40.7px,#e0ff00 41.4px,#ff0 41.9px,#fff000 42.3px,#ff8f00 46.5px,#ff2900 47.9px,#ff8d00 49.9px,#ff7a00 53px,#ff4f00 55.6px,#ff1300 58.3px,#f00 60.6px,#f00 63.8px,#f50000 64.6px,#f00 64.6px,#f00 64.7px,#ffce00 64.9px,#ffce00 74.8px,#f00 75px,#f00 75px,#960000 75.1px,#960000 84px)"></i><i style="left:422px;width:2px;background:linear-gradient(#005bff 0px,#0064ff 6px,#0083ff 16.5px,#00bdff 23.5px,#0ff 28.5px,#00ffb3 33.9px,#00ff63 36.5px,#70ff42 37.5px,#a5ff02 38.5px,#b8ff00 38.9px,#a5ff02 39.6px,#98ff1e 40.1px,#a3ff08 40.4px,#a5ff02 40.4px,#c2ff00 40.8px,#e0ff00 41.4px,#ff0 42px,#fff000 42.3px,#ff8e00 46.5px,#ff2700 47.9px,#ff8d00 50px,#ff7a00 53.1px,#ff4f00 55.7px,#ff1300 58.4px,#f00 60.6px,#f00 63.8px,#f50000 64.6px,#f00 64.6px,#f00 64.7px,#ffce00 64.9px,#ffce00 74.8px,#f00 75px,#f00 75px,#960000 75.1px,#960000 84px)"></i><i style="left:424px;width:2px;background:linear-gradient(#005bff 0px,#0064ff 6px,#0083ff 16.5px,#00bdff 23.5px,#0ff 28.6px,#00ffb4 34px,#00ff63 36.8px,#70ff42 37.7px,#a5ff02 38.8px,#b6ff00 39.2px,#a5ff02 39.8px,#98ff1e 40.3px,#a1ff0c 40.6px,#a5ff02 40.6px,#c1ff00 40.9px,#ff0 42px,#fff000 42.3px,#ff8d00 46.5px,#ff2600 47.9px,#ff8d00 50px,#ff7900 53.1px,#ff4f00 55.7px,#ff1300 58.4px,#f00 60.6px,#f00 63.8px,#f50000 64.6px,#f00 64.6px,#f00 64.7px,#ffce00 64.9px,#ffce00 74.8px,#f00 75px,#f00 75px,#960000 75.1px,#960000 84px)"></i><i style="left:426px;width:2px;background:linear-gradient(#005bff 0px,#0064ff 6px,#0083ff 16.5px,#00baff 23px,#0ff 28.2px,#00ffb0 33.7px,#00ff70 37.5px,#00ff63 37.8px,#70ff42 38.6px,#a5ff02 39.4px,#b3ff00 39.6px,#ff0 40.3px,#ffdf00 40.7px,#ffc100 42.4px,#ff9700 46.1px,#ff1700 48px,#ff8700 49.9px,#ff8200 52.4px,#ff4d00 55.8px,#ff1700 58.5px,#f00 62.4px,#f00 63.8px,#ffe200 64.1px,#ffd300 74.6px,#f00 74.8px,#f00 74.8px,#960000 74.9px,#960000 84px)"></i><i style="left:428px;width:2px;background:linear-gradient(#005bff 0px,#0064ff 6px,#0083ff 16.5px,#00baff 23px,#0ff 28.2px,#00ffb0 33.7px,#00ff70 37.5px,#00ff63 37.8px,#70ff42 38.6px,#a5ff02 39.4px,#b3ff00 39.7px,#ff0 40.3px,#ffe000 40.7px,#ffc200 42.5px,#ff9700 46.3px,#ff1700 48.2px,#ff8700 50.1px,#ff8000 52.5px,#ff4c00 56px,#ff1600 58.7px,#f00 62.4px,#f00 63.8px,#ffe200 64.1px,#ffd300 74.6px,#f00 74.8px,#f00 74.8px,#960000 74.9px,#960000 84px)"></i><i style="left:430px;width:2px;background:linear-gradient(#005bff 0px,#0064ff 6px,#0083ff 16.5px,#00baff 23px,#0ff 28.2px,#00ffb0 33.7px,#00ff6f 37.5px,#00ff63 37.8px,#70ff42 38.6px,#a5ff02 39.4px,#b3ff00 39.7px,#ff0 40.4px,#ffe200 40.8px,#ffc400 42.7px,#ff9700 46.4px,#ff1600 48.4px,#ff8700 50.3px,#ff7f00 52.7px,#ff4b00 56.1px,#ff1500 58.8px,#f00 62.4px,#f00 63.8px,#ffe200 64.1px,#ffd300 74.6px,#f00 74.8px,#f00 74.8px,#960000 74.9px,#960000 84px)"></i><i style="left:432px;width:2px;background:linear-gradient(#005bff 0px,#0064ff 6px,#0083ff 16.5px,#00baff 23px,#0ff 28.2px,#00ffb0 33.7px,#00ff6f 37.5px,#00ff63 37.8px,#70ff42 38.6px,#a5ff02 39.5px,#b3ff00 39.7px,#ff0 40.5px,#ffe400 40.9px,#ffc600 42.8px,#ff9700 46.6px,#ff1600 48.5px,#ff8600 50.5px,#ff7e00 52.9px,#ff4900 56.3px,#ff1400 59px,#f00 62.5px,#f00 63.8px,#ffe200 64.1px,#ffd300 74.6px,#f00 74.8px,#f00 74.8px,#960000 74.9px,#960000 84px)"></i><i style="left:434px;width:2px;background:linear-gradient(#005bff 0px,#0064ff 6px,#0083ff 16.5px,#00baff 23px,#0ff 28.2px,#00ffb0 33.6px,#00ff6e 37.5px,#00ff63 37.8px,#70ff42 38.6px,#a5ff02 39.5px,#b3ff00 39.8px,#ff0 40.6px,#ffe600 40.9px,#ff9700 46.7px,#ff1500 48.7px,#ff8600 50.6px,#ff7c00 53.1px,#ff4800 56.4px,#ff1300 59.1px,#f00 62.5px,#f00 63.8px,#ffe200 64.1px,#ffd300 74.6px,#f00 74.8px,#f00 74.8px,#960000 74.9px,#960000 84px)"></i><i style="left:436px;width:2px;background:linear-gradient(#005bff 0px,#0064ff 6px,#0083ff 16.5px,#00baff 23px,#0ff 28.2px,#00ffb0 33.6px,#00ff6e 37.5px,#00ff63 37.8px,#70ff42 38.6px,#a5ff02 39.5px,#b3ff00 39.8px,#ff0 40.6px,#ffe700 41px,#ff9700 46.9px,#ff1500 48.8px,#ff8500 50.8px,#ff7b00 53.3px,#ff4700 56.6px,#ff1200 59.2px,#f00 62.5px,#f00 63.8px,#ffe200 64.1px,#ffd300 74.6px,#f00 74.8px,#f00 74.8px,#960000 74.9px,#960000 84px)"></i><i style="left:438px;width:2px;background:linear-gradient(#005bff 0px,#0064ff 6px,#0083ff 16.5px,#00baff 23px,#0ff 28.2px,#00ffb0 33.6px,#00ff6d 37.5px,#00ff63 37.8px,#70ff42 38.6px,#a5ff02 39.6px,#b3ff00 39.9px,#ff0 40.7px,#ffe900 41.1px,#ff9700 47px,#ff1400 49px,#ff8500 51px,#ff7a00 53.5px,#ff4500 56.7px,#f10 59.4px,#f00 62.5px,#f00 63.8px,#ffe200 64.1px,#ffd300 74.6px,#f00 74.8px,#f00 74.8px,#960000 74.9px,#960000 84px)"></i><i style="left:440px;width:2px;background:linear-gradient(#005bff 0px,#0064ff 6px,#0083ff 16.5px,#00baff 23px,#0ff 28.2px,#00ffb0 33.5px,#00ff6d 37.5px,#00ff63 37.8px,#70ff42 38.7px,#a5ff02 39.6px,#b3ff00 39.9px,#ff0 40.8px,#ffeb00 41.2px,#ff9700 47.2px,#ff1400 49.2px,#ff8500 51.1px,#ff7900 53.7px,#f40 56.9px,#ff1000 59.5px,#f00 62.5px,#f00 63.8px,#ffe200 64.1px,#ffd300 74.6px,#f00 74.8px,#f00 74.8px,#960000 74.9px,#960000 84px)"></i><i style="left:442px;width:2px;background:linear-gradient(#005bff 0px,#0064ff 6px,#0083ff 16.5px,#00baff 23px,#0ff 28.2px,#00ffb0 33.5px,#00ff6c 37.5px,#00ff63 37.8px,#70ff42 38.7px,#a5ff02 39.6px,#b3ff00 39.9px,#ff0 40.9px,#ffed00 41.2px,#ff9700 47.3px,#ff1300 49.3px,#ff8400 51.3px,#f70 53.8px,#ff4300 57px,#ff0f00 59.7px,#f00 62.5px,#f00 63.8px,#ffe200 64.1px,#ffd300 74.6px,#f00 74.8px,#f00 74.8px,#960000 74.9px,#960000 84px)"></i><i style="left:444px;width:2px;background:linear-gradient(#005bff 0px,#0064ff 6px,#0083ff 16.5px,#00baff 23px,#0ff 28.2px,#00ffe8 30px,#00ffb0 33.5px,#00ff63 37.8px,#70ff42 38.7px,#a5ff02 39.7px,#b3ff00 40px,#ff0 41px,#fe0 41.3px,#ff9700 47.5px,#ff1300 49.5px,#ff8400 51.5px,#ff7600 54px,#ff0e00 59.8px,#f00 62.5px,#f00 63.8px,#ffe200 64.1px,#ffd300 74.6px,#f00 74.8px,#f00 74.8px,#960000 74.9px,#960000 84px)"></i><i style="left:446px;width:2px;background:linear-gradient(#005bff 0px,#0064ff 6px,#0083ff 16.5px,#00baff 23px,#0ff 28.2px,#00ffdb 30.8px,#00ff89 35.8px,#00ff63 37.8px,#70ff42 38.7px,#a5ff02 39.7px,#b3ff00 40px,#ff0 41.1px,#fff000 41.4px,#ff9700 47.7px,#ff1200 49.6px,#ff8400 51.6px,#ff7500 54.2px,#ff0d00 60px,#f00 62.5px,#f00 63.8px,#ffe200 64.1px,#ffd300 74.6px,#f00 74.8px,#f00 74.8px,#960000 74.9px,#960000 84px)"></i><i style="left:448px;width:2px;background:linear-gradient(#005bff 0px,#0064ff 6px,#0083ff 16.5px,#00baff 23px,#0ff 28.2px,#00ffdb 30.8px,#00ff63 37.7px,#70ff42 38.7px,#a5ff02 39.7px,#b3ff00 40.1px,#ff0 41.2px,#fff200 41.5px,#ff9700 47.8px,#ff1200 49.8px,#ff8300 51.8px,#ff7300 54.4px,#ff0c00 60.1px,#f00 62.5px,#f00 63.8px,#ffe200 64.1px,#ffd300 74.6px,#f00 74.8px,#f00 74.8px,#960000 74.9px,#960000 84px)"></i><i style="left:450px;width:2px;background:linear-gradient(#005bff 0px,#0064ff 6px,#0083ff 16.5px,#00baff 23px,#0ff 28.2px,#00ffdb 30.8px,#00ff63 37.7px,#70ff42 38.7px,#a5ff02 39.8px,#b3ff00 40.1px,#ff0 41.3px,#fff300 41.5px,#ff9700 48px,#ff1200 50px,#ff8300 52px,#ff7200 54.6px,#ff0b00 60.2px,#f00 63.8px,#ffe200 64.1px,#ffd300 74.6px,#f00 74.8px,#f00 74.8px,#960000 74.9px,#960000 84px)"></i><i style="left:452px;width:2px;background:linear-gradient(#005bff 0px,#0064ff 6px,#0083ff 16.5px,#00baff 23px,#0ff 28.2px,#00ffdb 30.8px,#00ff63 37.7px,#70ff42 38.7px,#a5ff02 39.8px,#b3ff00 40.1px,#ff0 41.4px,#fff500 41.6px,#ffd600 44.1px,#ff9700 48.1px,#f10 50.1px,#ff8200 52.1px,#ff7100 54.8px,#ff0a00 60.4px,#f00 63.8px,#ffe200 64.1px,#ffd300 74.6px,#f00 74.8px,#f00 74.8px,#960000 74.9px,#960000 84px)"></i><i style="left:454px;width:2px;background:linear-gradient(#005bff 0px,#0064ff 6px,#0083ff 16.5px,#00baff 23px,#0ff 28.2px,#00ffe8 30px,#00ff63 37.7px,#70ff42 38.7px,#a5ff02 39.8px,#b3ff00 40.2px,#ff0 41.5px,#fff700 41.7px,#ffd800 44.2px,#ff9700 48.3px,#f10 50.3px,#ff8200 52.3px,#ff6f00 55px,#ff0900 60.5px,#f00 63.8px,#ffe200 64.1px,#ffd300 74.6px,#f00 74.8px,#f00 74.8px,#960000 74.9px,#960000 84px)"></i><i style="left:456px;width:2px;background:linear-gradient(#005bff 0px,#0064ff 6px,#0083ff 16.5px,#00baff 23px,#0ff 28.2px,#00ffe8 30px,#00ff63 37.7px,#70ff42 38.7px,#a5ff02 39.9px,#b3ff00 40.2px,#ff0 41.6px,#ff9700 48.4px,#ff1000 50.4px,#ff8200 52.5px,#ff6e00 55.1px,#ff0800 60.7px,#f00 63.8px,#ffe200 64.1px,#ffd300 74.6px,#f00 74.8px,#f00 74.8px,#960000 74.9px,#960000 84px)"></i><i style="left:458px;width:2px;background:linear-gradient(#005bff 0px,#0064ff 6px,#0083ff 16.5px,#00baff 23px,#0ff 28.2px,#00ffe8 30px,#00ff63 37.7px,#70ff42 38.7px,#a5ff02 39.9px,#b3ff00 40.2px,#ff0 41.7px,#ffdb00 44.4px,#ff9700 48.6px,#ff1000 50.6px,#ff8100 52.6px,#ff6d00 55.3px,#ff0700 60.8px,#f00 63.8px,#ffe200 64.1px,#ffd300 74.6px,#f00 74.8px,#f00 74.8px,#960000 74.9px,#960000 84px)"></i><i style="left:460px;width:2px;background:linear-gradient(#005bff 0px,#0064ff 6px,#0083ff 16.5px,#00baff 23px,#0ff 28.2px,#00ffe8 30px,#00ff63 37.7px,#70ff42 38.7px,#a5ff02 39.9px,#ff0 41.8px,#fd0 44.6px,#ff9700 48.7px,#ff0f00 50.8px,#ff8100 52.8px,#ff6c00 55.5px,#ff0600 61px,#f00 63.8px,#ffe200 64.1px,#ffd300 74.6px,#f00 74.8px,#f00 74.8px,#960000 74.9px,#960000 84px)"></i><i style="left:462px;width:2px;background:linear-gradient(#005bff 0px,#0064ff 6px,#0083ff 16.5px,#00baff 23px,#0ff 28.2px,#00ffe8 30px,#00ff63 37.6px,#70ff42 38.7px,#a5ff02 39.9px,#ff0 41.9px,#ffde00 44.7px,#ff9700 48.9px,#ff0f00 50.9px,#ff8000 53px,#ff6a00 55.7px,#ff0600 61.1px,#f00 63.8px,#ffe200 64.1px,#ffd300 74.6px,#f00 74.8px,#f00 74.8px,#960000 74.9px,#960000 84px)"></i><i style="left:464px;width:2px;background:linear-gradient(#005bff 0px,#0064ff 6px,#0083ff 16.5px,#00baff 23px,#0ff 28.2px,#00ffe8 30px,#00ff63 37.6px,#70ff42 38.8px,#a5ff02 40px,#ff0 42.1px,#ffe000 44.8px,#ff9700 49px,#ff0e00 51.1px,#ff8000 53.2px,#ff6900 55.9px,#ff0500 61.3px,#f00 63.8px,#ffe200 64.1px,#ffd300 74.6px,#f00 74.8px,#f00 74.8px,#960000 74.9px,#960000 84px)"></i><i style="left:466px;width:2px;background:linear-gradient(#005bff 0px,#0064ff 6px,#0083ff 16.5px,#00baff 23px,#0ff 28.2px,#00ffe8 30px,#00ff63 37.6px,#70ff42 38.8px,#a5ff02 40px,#fcff00 42.1px,#ff0 42.3px,#ffe200 44.9px,#ff9700 49.2px,#ff0e00 51.2px,#ff8000 53.3px,#ff6800 56.1px,#ff0400 61.4px,#f00 63.8px,#ffe200 64.1px,#ffd300 74.6px,#f00 74.8px,#f00 74.8px,#960000 74.9px,#960000 84px)"></i><i style="left:468px;width:2px;background:linear-gradient(#005bff 0px,#0064ff 6px,#0083ff 16.5px,#00baff 23px,#0ff 28.2px,#00ffe8 30px,#00ff63 37.6px,#70ff42 38.8px,#a5ff02 40px,#faff00 42.2px,#ff0 42.5px,#ffe300 45.1px,#ff9700 49.3px,#ff0d00 51.4px,#ff7f00 53.5px,#f60 56.3px,#ff0400 61.5px,#f00 63.8px,#ffe200 64.1px,#ffd300 74.6px,#f00 74.8px,#f00 74.8px,#960000 74.9px,#960000 84px)"></i><i style="left:470px;width:2px;background:linear-gradient(#005bff 0px,#0064ff 6px,#0083ff 16.5px,#00baff 23px,#0ff 28.2px,#00ffe8 30px,#00ff63 37.6px,#70ff42 38.8px,#a5ff02 40.1px,#f7ff00 42.2px,#ff0 42.8px,#ffe500 45.2px,#ff9700 49.5px,#ff0d00 51.6px,#ff7f00 53.7px,#ff6500 56.4px,#ff3000 59.1px,#ff0300 61.7px,#f00 63.8px,#ffe200 64.1px,#ffd300 74.6px,#f00 74.8px,#f00 74.8px,#960000 74.9px,#960000 84px)"></i><i style="left:472px;width:2px;background:linear-gradient(#005bff 0px,#0064ff 6px,#0083ff 16.5px,#00baff 23px,#0ff 28.2px,#00ffe8 30px,#00ff63 37.6px,#70ff42 38.8px,#a5ff02 40.1px,#f5ff00 42.3px,#ff0 43px,#ffe600 45.3px,#ff9700 49.6px,#ff0d00 51.7px,#ff7e00 53.8px,#ff6400 56.6px,#ff2e00 59.2px,#ff0300 61.8px,#f00 63.8px,#ffe200 64.1px,#ffd300 74.6px,#f00 74.8px,#f00 74.8px,#960000 74.9px,#960000 84px)"></i><i style="left:474px;width:2px;background:linear-gradient(#005bff 0px,#0064ff 6px,#0083ff 16.5px,#00baff 23px,#0ff 28.2px,#00ffe8 30px,#00ff63 37.6px,#70ff42 38.8px,#a5ff02 40.1px,#f5ff00 42.4px,#ff0 43.1px,#ffe600 45.4px,#ff9800 49.8px,#ff0f00 51.9px,#ff7e00 54px,#ff6400 56.7px,#ff2f00 59.3px,#ff0300 61.8px,#f00 63.8px,#ffe200 64.1px,#ffd300 74.6px,#f00 74.8px,#f00 74.8px,#960000 74.9px,#960000 84px)"></i><i style="left:476px;width:2px;background:linear-gradient(#005bff 0px,#0064ff 6px,#0083ff 16.5px,#00baff 23px,#0ff 28.2px,#00ffe8 30px,#00ff63 37.6px,#70ff42 38.8px,#a5ff02 40.1px,#f5ff00 42.4px,#ff0 43.1px,#ffe600 45.5px,#f90 50px,#f10 52.1px,#ff7e00 54.2px,#ff6300 56.8px,#ff0300 61.8px,#f00 63.8px,#ffe200 64.1px,#ffd300 74.6px,#f00 74.8px,#f00 74.8px,#960000 74.9px,#960000 84px)"></i><i style="left:478px;width:2px;background:linear-gradient(#005bff 0px,#0064ff 6px,#0083ff 16.5px,#00baff 23px,#0ff 28.2px,#00ffe8 30px,#00ff63 37.6px,#70ff42 38.8px,#a5ff02 40.1px,#f4ff00 42.5px,#ff0 43.2px,#ffe600 45.7px,#ff9a00 50.2px,#ff1300 52.3px,#ff7d00 54.4px,#ff6300 56.9px,#ff0400 61.8px,#f00 63.8px,#ffe200 64.1px,#ffd300 74.6px,#f00 74.8px,#f00 74.8px,#960000 74.9px,#960000 84px)"></i><i style="left:480px;width:2px;background:linear-gradient(#005bff 0px,#0064ff 6px,#0083ff 16.5px,#00baff 23px,#0ff 28.2px,#00ffe8 30px,#00ff63 37.6px,#70ff42 38.8px,#a5ff02 40.2px,#f4ff00 42.5px,#ff0 43.3px,#ffe600 45.8px,#ff9b00 50.5px,#ff1600 52.5px,#ff7d00 54.6px,#ff6200 57px,#ff0400 61.9px,#f00 63.8px,#ffe200 64.1px,#ffd300 74.6px,#f00 74.8px,#f00 74.8px,#960000 74.9px,#960000 84px)"></i><i style="left:482px;width:2px;background:linear-gradient(#005bff 0px,#0064ff 6px,#0083ff 16.5px,#00baff 23px,#0ff 28.2px,#00ffe8 30px,#00ff63 37.6px,#70ff42 38.8px,#a5ff02 40.2px,#f4ff00 42.6px,#ff0 43.4px,#ffe600 45.9px,#ff9b00 50.7px,#ff1800 52.7px,#ff7c00 54.7px,#ff6200 57.1px,#ff0400 61.9px,#f00 63.8px,#ffe200 64.1px,#ffd300 74.6px,#f00 74.8px,#f00 74.8px,#960000 74.9px,#960000 84px)"></i><i style="left:484px;width:2px;background:linear-gradient(#005bff 0px,#0064ff 6px,#0083ff 16.5px,#00baff 23px,#0ff 28.2px,#00ffe8 30px,#00ff63 37.6px,#70ff42 38.8px,#a5ff02 40.2px,#f3ff00 42.6px,#ff0 43.5px,#ffe600 46px,#ff9c00 50.9px,#ff1a00 52.9px,#ff7c00 54.9px,#ff6200 57.3px,#ff0400 61.9px,#f00 63.8px,#ffe200 64.1px,#ffd300 74.6px,#f00 74.8px,#f00 74.8px,#960000 74.9px,#960000 84px)"></i><i style="left:486px;width:2px;background:linear-gradient(#005bff 0px,#0064ff 6px,#0083ff 16.5px,#00baff 23px,#0ff 28.2px,#00ffe8 30px,#00ff63 37.6px,#70ff42 38.8px,#a5ff02 40.2px,#f3ff00 42.7px,#ff0 43.6px,#ffe600 46.1px,#ff9d00 51.1px,#ff1c00 53.1px,#ff7c00 55.1px,#ff6100 57.4px,#ff0500 61.9px,#f00 63.8px,#ffe200 64.1px,#ffd300 74.6px,#f00 74.8px,#f00 74.8px,#960000 74.9px,#960000 84px)"></i><i style="left:488px;width:2px;background:linear-gradient(#005bff 0px,#0064ff 6px,#0083ff 16.5px,#00baff 23px,#0ff 28.2px,#00ffe8 30px,#00ff63 37.6px,#70ff42 38.8px,#a5ff02 40.2px,#f3ff00 42.7px,#ff0 43.6px,#ffe600 46.2px,#ff9e00 51.3px,#ff1e00 53.3px,#ff7b00 55.3px,#ff6100 57.5px,#ff0500 61.9px,#f00 63.8px,#ffe200 64.1px,#ffd300 74.6px,#f00 74.8px,#f00 74.8px,#960000 74.9px,#960000 84px)"></i><i style="left:490px;width:2px;background:linear-gradient(#005bff 0px,#0064ff 6px,#0083ff 16.5px,#00baff 23px,#0ff 28.2px,#00ffe8 30px,#00ff63 37.6px,#70ff42 38.9px,#a5ff02 40.3px,#f2ff00 42.8px,#ff0 43.7px,#ffe600 46.3px,#ff9e00 51.5px,#ff2000 53.5px,#ff7b00 55.5px,#ff6000 57.6px,#ff0500 61.9px,#f00 63.8px,#ffe200 64.1px,#ffd300 74.6px,#f00 74.8px,#f00 74.8px,#960000 74.9px,#960000 84px)"></i><i style="left:492px;width:2px;background:linear-gradient(#005bff 0px,#0064ff 6px,#0083ff 16.5px,#00baff 23px,#0ff 28.2px,#00ffe8 30px,#00ff63 37.6px,#70ff42 38.9px,#a5ff02 40.3px,#f2ff00 42.8px,#ff0 43.8px,#ffe600 46.5px,#ff9f00 51.7px,#f20 53.7px,#ff7a00 55.6px,#ff6000 57.7px,#ff0600 62px,#f00 63.8px,#ffe200 64.1px,#ffd300 74.6px,#f00 74.8px,#f00 74.8px,#960000 74.9px,#960000 84px)"></i><i style="left:494px;width:2px;background:linear-gradient(#005bff 0px,#0064ff 6px,#0083ff 16.5px,#00baff 23px,#0ff 28.2px,#00ffe8 30px,#00ff63 37.6px,#70ff42 38.9px,#a5ff02 40.3px,#f2ff00 42.9px,#ff0 43.9px,#ffe600 46.6px,#ffa000 51.9px,#ff2400 53.9px,#ff7a00 55.8px,#ff6000 57.8px,#ff0600 62px,#f00 63.8px,#ffe200 64.1px,#ffd300 74.6px,#f00 74.8px,#f00 74.8px,#960000 74.9px,#960000 84px)"></i><i style="left:496px;width:2px;background:linear-gradient(#005bff 0px,#0064ff 6px,#0083ff 16.5px,#00baff 23px,#0ff 28.2px,#00ffe8 30px,#00ff63 37.6px,#70ff42 38.9px,#a5ff02 40.3px,#f1ff00 42.9px,#ff0 44px,#ffe600 46.7px,#ffa100 52.1px,#ff2600 54.1px,#ff7a00 56px,#ff5f00 57.9px,#ff0600 62px,#f00 63.8px,#ffe200 64.1px,#ffd300 74.6px,#f00 74.8px,#f00 74.8px,#960000 74.9px,#960000 84px)"></i><i style="left:498px;width:2px;background:linear-gradient(#005bff 0px,#0064ff 6px,#0083ff 16.5px,#00baff 23px,#0ff 28.2px,#00ffe8 30px,#00ff63 37.6px,#70ff42 38.9px,#a5ff02 40.3px,#f1ff00 43px,#ff0 44.1px,#ffe600 46.8px,#ffa200 52.3px,#ff2900 54.3px,#ff7900 56.2px,#ff5f00 58px,#ff0700 62px,#f00 63.1px,#f00 63.8px,#ffe200 64.1px,#ffd300 74.6px,#f00 74.8px,#f00 74.8px,#960000 74.9px,#960000 84px)"></i><i style="left:500px;width:2px;background:linear-gradient(#005bff 0px,#0064ff 6px,#0083ff 16.5px,#00baff 23px,#0ff 28.2px,#00ffe8 30px,#00ff63 37.6px,#70ff42 38.9px,#a9ff00 40.5px,#f1ff00 43px,#ff0 44.1px,#ffe600 46.8px,#ffa500 52.2px,#ff3500 54.3px,#ff7b00 56.2px,#ff6100 58px,#ff0800 62px,#f00 63.1px,#f00 63.8px,#ffe200 64.1px,#ffd300 74.6px,#f00 74.8px,#f00 74.8px,#960000 74.9px,#960000 84px)"></i><i style="left:502px;width:2px;background:linear-gradient(#005bff 0px,#0064ff 6px,#0083ff 16.5px,#00baff 23px,#0ff 28.2px,#00ffe8 30px,#00ff63 37.6px,#70ff42 38.9px,#a8ff00 40.5px,#f1ff00 43.1px,#ff0 44.2px,#ffe600 46.9px,#ffa900 52.1px,#ff4200 54.2px,#ff7d00 56.3px,#ff6300 58px,#ff0a00 61.9px,#f00 63px,#f00 63.7px,#ffe200 64.1px,#ffd300 74.6px,#f00 74.8px,#f00 74.8px,#960000 74.9px,#960000 84px)"></i><i style="left:504px;width:2px;background:linear-gradient(#005bff 0px,#0064ff 6px,#0083ff 16.5px,#00baff 23px,#0ff 28.2px,#00ffe8 30px,#00ff63 37.6px,#70ff42 38.9px,#a8ff00 40.5px,#f0ff00 43.1px,#ff0 44.2px,#ffad00 52px,#ff4f00 54.2px,#ff7f00 56.3px,#ff6500 58px,#ff0b00 61.9px,#f00 63px,#f00 63.7px,#ffe200 64.1px,#ffd300 74.6px,#f00 74.8px,#f00 74.8px,#960000 74.9px,#960000 84px)"></i><i style="left:506px;width:2px;background:linear-gradient(#005bff 0px,#0064ff 6px,#0083ff 16.5px,#00baff 23px,#0ff 28.2px,#00ffe8 30px,#00ff63 37.6px,#70ff42 38.9px,#a7ff00 40.5px,#f0ff00 43.2px,#ff0 44.3px,#ffb100 52px,#ff5c00 54.2px,#ff8100 56.4px,#ff6700 58px,#ff0d00 61.8px,#f00 63px,#f00 63.6px,#ffe200 64.1px,#ffd300 74.6px,#f00 74.8px,#f00 74.8px,#960000 74.9px,#960000 84px)"></i><i style="left:508px;width:2px;background:linear-gradient(#005bff 0px,#0064ff 6px,#0083ff 16.5px,#00baff 23px,#0ff 28.2px,#00ffe8 30px,#00ff63 37.6px,#70ff42 39px,#a6ff00 40.5px,#f0ff00 43.2px,#ff0 44.4px,#ffb400 51.9px,#ff6800 54.2px,#ff8300 56.4px,#ff5600 58.9px,#ff0f00 61.8px,#f00 63px,#f00 63.5px,#ffe200 64.1px,#ffd300 74.6px,#f00 74.8px,#f00 74.8px,#960000 74.9px,#960000 84px)"></i><i style="left:510px;width:2px;background:linear-gradient(#005bff 0px,#0064ff 6px,#0083ff 16.5px,#00baff 23px,#0ff 28.2px,#00ffe8 30px,#00ff63 37.6px,#70ff42 39px,#a5ff01 40.5px,#efff00 43.2px,#ff0 44.4px,#ffb800 51.8px,#ff7500 54.1px,#ff8400 56.4px,#ff6b00 58px,#ff4900 59.5px,#ff1000 61.7px,#f00 62.9px,#f00 63.5px,#ffe200 64.1px,#ffd300 74.6px,#f00 74.8px,#f00 74.8px,#960000 74.9px,#960000 84px)"></i><i style="left:512px;width:2px;background:linear-gradient(#005bff 0px,#0064ff 6px,#0083ff 16.5px,#00baff 23px,#0ff 28.2px,#00ffe8 30px,#00ff63 37.6px,#70ff42 39px,#a5ff02 40.5px,#efff00 43.3px,#ff0 44.5px,#ffbc00 51.7px,#ff8100 54.1px,#ff8600 56.5px,#ff4d00 59.5px,#ff1200 61.7px,#f00 62.9px,#f00 63.4px,#ffe200 64.1px,#ffd300 74.6px,#f00 74.8px,#f00 74.8px,#960000 74.9px,#960000 84px)"></i><i style="left:514px;width:2px;background:linear-gradient(#005bff 0px,#0064ff 6px,#0083ff 16.5px,#00baff 23px,#0ff 28.2px,#00ffe8 30px,#00ff63 37.6px,#70ff42 39px,#a5ff02 40.5px,#efff00 43.3px,#ff0 44.5px,#ffc000 51.6px,#ff8e00 54.1px,#f80 56.5px,#ff5100 59.4px,#ff1300 61.6px,#f00 62.9px,#f00 63.4px,#ffe200 64.1px,#ffd300 74.6px,#f00 74.8px,#f00 74.8px,#960000 74.9px,#960000 84px)"></i><i style="left:516px;width:2px;background:linear-gradient(#005bff 0px,#0064ff 6px,#0083ff 16.5px,#00baff 23px,#0ff 28.2px,#00ffe8 30px,#00ff63 37.6px,#70ff42 39px,#a5ff02 40.6px,#efff00 43.3px,#ff0 44.6px,#ffc400 51.5px,#ff9a00 54px,#ff8a00 56.5px,#ff5600 59.2px,#ff1500 61.6px,#f00 62.8px,#f00 63.3px,#ffe200 64.1px,#ffd300 74.6px,#f00 74.8px,#f00 74.8px,#960000 74.9px,#960000 84px)"></i><i style="left:518px;width:2px;background:linear-gradient(#005bff 0px,#0064ff 6px,#0083ff 16.5px,#00baff 23px,#0ff 28.2px,#00ffe8 30px,#00ff63 37.6px,#70ff42 39px,#a2ff0c 40.5px,#a5ff02 40.6px,#ef0 43.4px,#ff0 44.6px,#ffc700 51.4px,#ff8c00 56.6px,#ff5800 59.2px,#ff1700 61.5px,#f00 62.8px,#f00 63.3px,#ffe200 64.1px,#ffd300 74.6px,#f00 74.8px,#f00 74.8px,#960000 74.9px,#960000 84px)"></i></div>
<div class="p" style="top:309px;height:103px"><i style="left:51px;width:2px;background:linear-gradient(#0054ff 0px,#0073ff 14.6px,#0092ff 21.8px,#00b9ff 27.3px,#0ff 31.7px,#00ffbe 36.3px,#00ff63 43.8px,#70ff42 45.8px,#a5ff02 48px,#ff0 50.9px,#ffdc00 55px,#fa0 59px,#ff5000 67.2px,#ff3100 71.6px,#f20 78.1px,#ff1d00 83.5px,#f00 84.4px,#f00 85.4px,#cd0000 88.7px,#c80000 91.5px,#d70000 94px,#d20000 97.8px,#b40000 100.5px,#960000 102.5px,#960000 103px)"></i><i style="left:53px;width:2px;background:linear-gradient(#0054ff 0px,#0073ff 14.7px,#0092ff 21.9px,#00baff 27.4px,#0ff 31.8px,#00ffbf 36.3px,#00ff63 43.8px,#70ff42 45.9px,#a5ff02 48px,#ff0 51px,#ffdc00 55.1px,#ff4f00 67.1px,#ff3000 71.5px,#ff2100 78px,#ff1d00 83.5px,#f00 84.4px,#f00 85.4px,#cd0000 88.7px,#c80000 91.5px,#d70000 94px,#d20000 97.8px,#b40000 100.5px,#960000 102.5px,#960000 103px)"></i><i style="left:55px;width:2px;background:linear-gradient(#0054ff 0px,#0074ff 14.9px,#0093ff 22.1px,#0bf 27.5px,#0ff 31.8px,#00ffbf 36.3px,#00ff63 43.9px,#70ff42 45.9px,#a5ff02 48.1px,#ff0 51.1px,#ffdc00 55.2px,#ff4f00 67.1px,#ff2f00 71.4px,#ff2000 77.9px,#ff1c00 83.5px,#f00 84.4px,#f00 85.4px,#cd0000 88.7px,#c80000 91.5px,#d70000 94px,#d20000 97.8px,#b40000 100.5px,#960000 102.5px,#960000 103px)"></i><i style="left:57px;width:2px;background:linear-gradient(#0054ff 0px,#0074ff 15px,#0094ff 22.2px,#00bcff 27.6px,#0ff 31.8px,#00ffbf 36.3px,#00ff63 44px,#70ff42 46px,#a5ff02 48.2px,#ff0 51.2px,#ffdc00 55.3px,#ff4f00 67.1px,#ff2e00 71.3px,#ff1f00 77.8px,#ff1c00 83.5px,#f00 84.4px,#f00 85.4px,#cd0000 88.7px,#c80000 91.5px,#d70000 94px,#d20000 97.8px,#b40000 100.5px,#960000 102.5px,#960000 103px)"></i><i style="left:59px;width:2px;background:linear-gradient(#0054ff 0px,#0075ff 15.2px,#0095ff 22.4px,#00bdff 27.7px,#0ff 31.9px,#00ffc0 36.3px,#00ff63 44px,#70ff42 46.1px,#a5ff02 48.3px,#ff0 51.2px,#ffdc00 55.3px,#ff4e00 67px,#ff2d00 71.2px,#ff1e00 77.8px,#ff1b00 83.5px,#f00 84.4px,#f00 85.4px,#cd0000 88.7px,#c80000 91.5px,#d70000 94px,#d20000 97.8px,#b40000 100.5px,#960000 102.5px,#960000 103px)"></i><i style="left:61px;width:2px;background:linear-gradient(#0054ff 0px,#0075ff 15.3px,#0096ff 22.5px,#00beff 27.8px,#0ff 31.9px,#00ffc0 36.3px,#00ff63 44.1px,#70ff42 46.1px,#a5ff02 48.3px,#ff0 51.3px,#ffdc00 55.4px,#ff4e00 67px,#ff2c00 71.1px,#ff1d00 77.7px,#ff1a00 83.5px,#f00 84.4px,#f00 85.4px,#cd0000 88.7px,#c80000 91.5px,#d70000 94px,#d20000 97.8px,#b40000 100.5px,#960000 102.5px,#960000 103px)"></i><i style="left:63px;width:2px;background:linear-gradient(#0054ff 0px,#0076ff 15.4px,#0097ff 22.7px,#00bfff 27.9px,#0ff 31.9px,#00ffc1 36.3px,#00ff63 44.2px,#70ff42 46.2px,#a5ff02 48.4px,#ff0 51.4px,#ffdc00 55.5px,#ff4d00 67px,#ff2b00 71px,#ff1c00 77.6px,#ff1a00 83.5px,#f00 84.4px,#f00 85.4px,#cd0000 88.7px,#c80000 91.5px,#d70000 94px,#d20000 97.8px,#b40000 100.5px,#960000 102.5px,#960000 103px)"></i><i style="left:65px;width:2px;background:linear-gradient(#0054ff 0px,#0076ff 15.6px,#0097ff 22.8px,#00bfff 28px,#0ff 32px,#00ffc1 36.3px,#00ff63 44.2px,#70ff42 46.3px,#a5ff02 48.5px,#ff0 51.5px,#ffdc00 55.6px,#ff4d00 66.9px,#ff2a00 70.9px,#ff1b00 77.5px,#ff1900 83.5px,#f00 84.4px,#f00 85.4px,#cd0000 88.7px,#c80000 91.5px,#d70000 94px,#d20000 97.8px,#b40000 100.5px,#960000 102.5px,#960000 103px)"></i><i style="left:67px;width:2px;background:linear-gradient(#0054ff 0px,#0076ff 15.7px,#0098ff 23px,#00c0ff 28.2px,#0ff 32px,#00ffc1 36.3px,#00ff63 44.3px,#70ff42 46.4px,#a5ff02 48.6px,#ff0 51.5px,#ffdc00 55.6px,#ff4c00 66.9px,#ff2900 70.7px,#ff1a00 77.5px,#ff1900 83.5px,#f00 84.4px,#f00 85.4px,#cd0000 88.7px,#c80000 91.5px,#d70000 94px,#d20000 97.8px,#b40000 100.5px,#960000 102.5px,#960000 103px)"></i><i style="left:69px;width:2px;background:linear-gradient(#0054ff 0px,#07f 15.9px,#09f 23.2px,#00c1ff 28.3px,#0ff 32.1px,#00ffc2 36.3px,#00ff63 44.4px,#70ff42 46.4px,#a5ff02 48.6px,#ff0 51.6px,#ffdc00 55.7px,#ff4c00 66.8px,#ff2800 70.6px,#ff1900 77.4px,#ff1800 83.5px,#f00 84.4px,#f00 85.4px,#cd0000 88.7px,#c80000 91.5px,#d70000 94px,#d20000 97.8px,#b40000 100.5px,#960000 102.5px,#960000 103px)"></i><i style="left:71px;width:2px;background:linear-gradient(#0054ff 0px,#07f 16px,#009aff 23.3px,#00c2ff 28.4px,#0ff 32.1px,#00ffc2 36.3px,#00ff63 44.5px,#70ff42 46.5px,#a5ff02 48.7px,#ff0 51.7px,#ffdc00 55.8px,#ff4c00 66.8px,#ff2700 70.5px,#ff1800 77.3px,#ff1700 83.5px,#f00 84.3px,#f00 85.4px,#cd0000 88.7px,#c80000 91.5px,#d70000 94px,#d20000 97.8px,#b40000 100.5px,#960000 102.5px,#960000 103px)"></i><i style="left:73px;width:2px;background:linear-gradient(#0054ff 0px,#0078ff 16.2px,#009bff 23.5px,#00c3ff 28.5px,#0ff 32.1px,#00ffc3 36.3px,#00ff63 44.5px,#70ff42 46.6px,#a5ff02 48.8px,#ff0 51.8px,#ffdc00 55.9px,#ff4b00 66.8px,#ff2600 70.4px,#ff1700 77.2px,#ff1700 83.5px,#f00 84.3px,#f00 85.4px,#cd0000 88.7px,#c80000 91.5px,#d70000 94px,#d20000 97.8px,#b40000 100.5px,#960000 102.5px,#960000 103px)"></i><i style="left:75px;width:2px;background:linear-gradient(#0054ff 0px,#0078ff 16.3px,#009cff 23.6px,#00c4ff 28.6px,#0ff 32.2px,#00ffc3 36.3px,#00ff63 44.6px,#70ff42 46.7px,#a5ff02 48.9px,#ff0 51.8px,#ffdc00 55.9px,#ff4b00 66.7px,#ff2500 70.3px,#ff1600 77.2px,#ff1600 83.5px,#f00 84.3px,#f00 85.4px,#cd0000 88.7px,#c80000 91.5px,#d70000 94px,#d20000 97.8px,#b40000 100.5px,#960000 102.5px,#960000 103px)"></i><i style="left:77px;width:2px;background:linear-gradient(#0054ff 0px,#0078ff 16.5px,#009cff 23.8px,#00c4ff 28.7px,#0ff 32.2px,#00ffc4 36.3px,#00ff63 44.7px,#70ff42 46.7px,#a5ff02 48.9px,#ff0 51.9px,#ffdc00 56px,#ff4a00 66.7px,#ff2400 70.2px,#ff1500 77.1px,#ff1600 83.5px,#f00 84.3px,#f00 85.4px,#cd0000 88.7px,#c80000 91.5px,#d70000 94px,#d20000 97.8px,#b40000 100.5px,#960000 102.5px,#960000 103px)"></i><i style="left:79px;width:2px;background:linear-gradient(#0054ff 0px,#0079ff 16.6px,#009dff 23.9px,#00c5ff 28.8px,#0ff 32.2px,#00ffc4 36.3px,#00ff63 44.7px,#70ff42 46.8px,#a5ff02 49px,#ff0 52px,#ffdc00 56.1px,#ff4a00 66.7px,#ff2300 70.1px,#ff1400 77px,#ff1500 83.5px,#f00 84.3px,#f00 85.4px,#cd0000 88.7px,#c80000 91.5px,#d70000 94px,#d20000 97.8px,#b40000 100.5px,#960000 102.5px,#960000 103px)"></i><i style="left:81px;width:2px;background:linear-gradient(#0054ff 0px,#0079ff 16.7px,#009eff 24.1px,#00c6ff 28.9px,#0ff 32.3px,#00ffc4 36.3px,#00ff63 44.8px,#70ff42 46.9px,#a5ff02 49.1px,#ff0 52.1px,#ffdc00 56.2px,#ff4900 66.6px,#f20 70px,#ff1300 76.9px,#ff1400 83.5px,#f00 84.3px,#f00 85.4px,#cd0000 88.7px,#c80000 91.5px,#d70000 94px,#d20000 97.8px,#b40000 100.5px,#960000 102.5px,#960000 103px)"></i><i style="left:83px;width:2px;background:linear-gradient(#0054ff 0px,#007aff 16.9px,#009fff 24.2px,#00c7ff 29px,#0ff 32.3px,#00ffc5 36.3px,#00ff63 44.9px,#70ff42 46.9px,#a5ff02 49.2px,#ff0 52.1px,#ffdc00 56.2px,#ff4900 66.6px,#ff2100 69.9px,#ff1200 76.9px,#ff1400 83.5px,#f00 84.3px,#f00 85.4px,#cd0000 88.7px,#c80000 91.5px,#d70000 94px,#d20000 97.8px,#b40000 100.5px,#960000 102.5px,#960000 103px)"></i><i style="left:85px;width:2px;background:linear-gradient(#0054ff 0px,#007aff 17px,#00a0ff 24.4px,#00c8ff 29.2px,#0ff 32.4px,#00ffc5 36.3px,#00ff63 45px,#70ff42 47px,#a5ff02 49.2px,#ff0 52.2px,#ffdc00 56.3px,#ff4900 66.5px,#ff2000 69.7px,#f10 76.8px,#ff1300 83.5px,#f00 84.3px,#f00 85.4px,#cd0000 88.7px,#c80000 91.5px,#d70000 94px,#d20000 97.8px,#b40000 100.5px,#960000 102.5px,#960000 103px)"></i><i style="left:87px;width:2px;background:linear-gradient(#0054ff 0px,#007bff 17.2px,#00a1ff 24.5px,#00c9ff 29.3px,#0ff 32.4px,#00ffc6 36.3px,#00ff63 45px,#70ff42 47.1px,#a5ff02 49.3px,#ff0 52.3px,#ffdc00 56.4px,#ff1f00 69.6px,#ff1000 76.7px,#ff1300 83.5px,#f00 84.3px,#f00 85.4px,#cd0000 88.7px,#c80000 91.5px,#d70000 94px,#d20000 97.8px,#b40000 100.5px,#960000 102.5px,#960000 103px)"></i><i style="left:89px;width:2px;background:linear-gradient(#0054ff 0px,#007bff 17.3px,#00a1ff 24.7px,#00c9ff 29.4px,#0ff 32.4px,#00ffc6 36.3px,#00ff63 45.1px,#70ff42 47.2px,#a5ff02 49.4px,#ff0 52.4px,#ffdc00 56.5px,#ff1e00 69.5px,#ff0f00 76.6px,#ff1200 83.5px,#f00 84.3px,#f00 85.4px,#cd0000 88.7px,#c80000 91.5px,#d70000 94px,#d20000 97.8px,#b40000 100.5px,#960000 102.5px,#960000 103px)"></i><i style="left:91px;width:2px;background:linear-gradient(#0054ff 0px,#007bff 17.5px,#00a2ff 24.8px,#00caff 29.5px,#0ff 32.5px,#00ffc7 36.3px,#00ff63 45.2px,#70ff42 47.2px,#a5ff02 49.5px,#ff0 52.4px,#ffdc00 56.5px,#ff1d00 69.4px,#ff0e00 76.6px,#f10 83.5px,#f00 84.3px,#f00 85.4px,#cd0000 88.7px,#c80000 91.5px,#d70000 94px,#d20000 97.8px,#b40000 100.5px,#960000 102.5px,#960000 103px)"></i><i style="left:93px;width:2px;background:linear-gradient(#0054ff 0px,#007cff 17.6px,#00a3ff 25px,#00cbff 29.6px,#0ff 32.5px,#00ffc7 36.3px,#00ff63 45.2px,#70ff42 47.3px,#a5ff02 49.5px,#ff0 52.5px,#ffdc00 56.6px,#ff7800 63.5px,#ff1c00 69.3px,#ff0d00 76.5px,#f10 83.5px,#f00 84.2px,#f00 85.4px,#cd0000 88.7px,#c80000 91.5px,#d70000 94px,#d20000 97.8px,#b40000 100.5px,#960000 102.5px,#960000 103px)"></i><i style="left:95px;width:2px;background:linear-gradient(#0054ff 0px,#007cff 17.8px,#00a4ff 25.1px,#0cf 29.7px,#0ff 32.5px,#00ffc7 36.3px,#00ff63 45.3px,#70ff42 47.4px,#a5ff02 49.6px,#ff0 52.6px,#ffdc00 56.7px,#ff7800 63.5px,#ff1b00 69.2px,#ff0c00 76.4px,#ff1000 83.5px,#f00 84.2px,#f00 85.3px,#cd0000 88.7px,#c80000 91.5px,#d70000 94px,#d20000 97.8px,#b40000 100.5px,#960000 102.5px,#960000 103px)"></i><i style="left:97px;width:2px;background:linear-gradient(#0054ff 0px,#007dff 17.9px,#00a5ff 25.3px,#00cdff 29.8px,#0ff 32.6px,#00ffc8 36.3px,#00ff63 45.4px,#70ff42 47.4px,#a5ff02 49.7px,#ff0 52.7px,#ffdc00 56.8px,#ff7800 63.5px,#ff1a00 69.1px,#ff0b00 76.3px,#ff0f00 83.5px,#f00 84.2px,#f00 85.3px,#cd0000 88.7px,#c80000 91.5px,#d70000 94px,#d20000 97.8px,#b40000 100.5px,#960000 102.5px,#960000 103px)"></i><i style="left:99px;width:2px;background:linear-gradient(#0054ff 0px,#007dff 18px,#00a5ff 25.4px,#00cdff 29.9px,#0ff 32.6px,#00ffc8 36.3px,#00ff63 45.4px,#70ff42 47.4px,#a5ff02 49.7px,#ff0 52.7px,#ffdc00 56.8px,#ff7800 63.5px,#ff1900 69px,#ff0a00 76.2px,#ff0f00 83.5px,#f00 84.2px,#f00 85.3px,#cd0000 88.7px,#c80000 91.5px,#d70000 94px,#d20000 97.8px,#b40000 100.5px,#960000 102.5px,#960000 103px)"></i><i style="left:101px;width:2px;background:linear-gradient(#0054ff 0px,#007dff 18.1px,#00a5ff 25.5px,#00ceff 30px,#0ff 32.7px,#00ffc9 36.3px,#00ff63 45.3px,#70ff42 47.3px,#a5ff02 49.5px,#ff0 52.8px,#ffdb00 56.9px,#f70 63.5px,#ff1800 69px,#ff0a00 76.1px,#ff0f00 83.5px,#f00 84.2px,#f00 85.3px,#cd0000 88.7px,#c80000 91.5px,#d70000 94px,#d20000 97.8px,#b40000 100.5px,#960000 102.5px,#960000 103px)"></i><i style="left:103px;width:2px;background:linear-gradient(#0054ff 0px,#007dff 18.2px,#00a6ff 25.6px,#00ceff 30px,#0ff 32.7px,#00ffc9 36.3px,#00ff63 45.2px,#70ff42 47.2px,#a5ff02 49.3px,#ff0 52.8px,#ffdb00 56.9px,#ff7600 63.5px,#ff4200 66.2px,#ff1800 69px,#ff0a00 75.9px,#ff0f00 83.5px,#f00 84.2px,#f00 85.3px,#cd0000 88.7px,#c80000 91.5px,#d70000 94px,#d20000 97.8px,#b40000 100.5px,#960000 102.5px,#960000 103px)"></i><i style="left:105px;width:2px;background:linear-gradient(#0054ff 0px,#007dff 18.3px,#00a6ff 25.6px,#00ceff 30px,#0ff 32.7px,#00ffc9 36.3px,#00ff63 45.1px,#70ff42 47px,#a5ff02 49.1px,#ff0 52.8px,#ffdb00 56.9px,#ff7500 63.5px,#ff4000 66.2px,#ff1700 69px,#ff0900 75.8px,#ff0e00 83.5px,#f00 84.2px,#f00 85.3px,#cd0000 88.7px,#c80000 91.5px,#d70000 94px,#d20000 97.8px,#b40000 100.5px,#960000 102.5px,#960000 103px)"></i><i style="left:107px;width:2px;background:linear-gradient(#0054ff 0px,#007dff 18.4px,#00a6ff 25.7px,#00ceff 30.1px,#0ff 32.8px,#00ffca 36.3px,#00ff63 45px,#70ff42 46.9px,#a5ff02 49px,#ff0 52.9px,#ffdb00 57px,#ff7500 63.4px,#ff3f00 66.1px,#ff1700 69px,#ff0900 75.6px,#ff0e00 83.5px,#f00 84.2px,#f00 85.3px,#cd0000 88.7px,#c80000 91.5px,#d70000 94px,#d20000 97.8px,#b40000 100.5px,#960000 102.5px,#960000 103px)"></i><i style="left:109px;width:2px;background:linear-gradient(#0054ff 0px,#007dff 18.4px,#00a6ff 25.8px,#00ceff 30.1px,#0ff 32.8px,#00ffca 36.3px,#00ff63 44.9px,#70ff42 46.8px,#a5ff02 48.8px,#ff0 52.9px,#ffdb00 57px,#ff7400 63.4px,#ff3d00 66.1px,#ff1600 69px,#ff0900 75.5px,#ff0e00 83.5px,#f00 84.2px,#f00 85.3px,#cd0000 88.7px,#c80000 91.5px,#d70000 94px,#d20000 97.8px,#b40000 100.5px,#960000 102.5px,#960000 103px)"></i><i style="left:111px;width:2px;background:linear-gradient(#0054ff 0px,#007dff 18.5px,#00a6ff 25.9px,#00ceff 30.1px,#0ff 32.8px,#00ffcb 36.3px,#00ff63 44.7px,#70ff42 46.6px,#a5ff02 48.6px,#ff0 52.9px,#ffda00 57px,#ff7300 63.4px,#ff3b00 66.1px,#ff1600 69px,#ff0900 75.3px,#ff0e00 83.5px,#f00 84.2px,#f00 85.3px,#cd0000 88.7px,#c80000 91.5px,#d70000 94px,#d20000 97.8px,#b40000 100.5px,#960000 102.5px,#960000 103px)"></i><i style="left:113px;width:2px;background:linear-gradient(#0054ff 0px,#007dff 18.6px,#00a7ff 25.9px,#00cfff 30.2px,#0ff 32.9px,#00ffcb 36.3px,#00ff63 44.6px,#70ff42 46.5px,#a5ff02 48.5px,#ff0 53px,#ffda00 57.1px,#ff7200 63.4px,#ff3a00 66px,#ff1500 69px,#ff0800 75.2px,#ff0e00 83.5px,#f00 84.2px,#f00 85.3px,#cd0000 88.7px,#c80000 91.5px,#d70000 94px,#d20000 97.8px,#b40000 100.5px,#960000 102.5px,#960000 103px)"></i><i style="left:115px;width:2px;background:linear-gradient(#0054ff 0px,#007dff 18.7px,#00a7ff 26px,#00cfff 30.2px,#0ff 32.9px,#0fc 36.3px,#00ff63 44.5px,#70ff42 46.3px,#a5ff02 48.3px,#ff0 53px,#ffda00 57.1px,#ff7100 63.4px,#ff3800 66px,#ff1500 69px,#ff0800 75px,#ff0d00 83.5px,#f00 84.2px,#f00 85.3px,#cd0000 88.7px,#c80000 91.5px,#d70000 94px,#d20000 97.8px,#b40000 100.5px,#960000 102.5px,#960000 103px)"></i><i style="left:117px;width:2px;background:linear-gradient(#0054ff 0px,#007dff 18.8px,#00a7ff 26.1px,#00cfff 30.2px,#0ff 32.9px,#0fc 36.3px,#00ff63 44.4px,#70ff42 46.2px,#a5ff02 48.1px,#ff0 53px,#ffda00 57.1px,#ff7000 63.4px,#ff3700 66px,#ff1400 69px,#ff0800 74.9px,#ff0d00 83.5px,#f00 84.2px,#f00 85.3px,#cd0000 88.7px,#c80000 91.5px,#d70000 94px,#d20000 97.8px,#b40000 100.5px,#960000 102.5px,#960000 103px)"></i><i style="left:119px;width:2px;background:linear-gradient(#0054ff 0px,#007dff 18.9px,#00a7ff 26.2px,#00cfff 30.3px,#0ff 33px,#0fc 36.3px,#00ff63 44.3px,#70ff42 46.1px,#a5ff02 47.9px,#ff0 53.1px,#ffda00 57.2px,#ff7000 63.4px,#ff3500 65.9px,#ff1400 69px,#ff0800 74.7px,#ff0d00 83.5px,#f00 84.2px,#f00 85.3px,#cd0000 88.7px,#c80000 91.5px,#d70000 94px,#d20000 97.8px,#b40000 100.5px,#960000 102.5px,#960000 103px)"></i><i style="left:121px;width:2px;background:linear-gradient(#0054ff 0px,#007dff 18.9px,#00a7ff 26.2px,#00cfff 30.3px,#0ff 33px,#00ffcd 36.3px,#00ff63 44.2px,#70ff42 45.9px,#a4ff05 47.7px,#ff0 53.1px,#ffd900 57.2px,#ff6f00 63.4px,#f30 65.9px,#ff1300 69px,#ff0700 74.6px,#ff0d00 83.5px,#f00 84.2px,#f00 85.3px,#cd0000 88.7px,#c80000 91.5px,#d70000 94px,#d20000 97.8px,#b40000 100.5px,#960000 102.5px,#960000 103px)"></i><i style="left:123px;width:2px;background:linear-gradient(#0054ff 0px,#007dff 19px,#00a8ff 26.3px,#00d0ff 30.4px,#0ff 33.1px,#00ffcd 36.3px,#00ff63 44.1px,#70ff42 45.8px,#a4ff05 47.6px,#ff0 53.2px,#ffd900 57.3px,#ff6e00 63.3px,#ff3200 65.8px,#ff1200 69px,#ff0700 74.4px,#ff0d00 83.5px,#f00 84.2px,#f00 85.3px,#cd0000 88.7px,#c80000 91.5px,#d70000 94px,#d20000 97.8px,#b40000 100.5px,#960000 102.5px,#960000 103px)"></i><i style="left:125px;width:2px;background:linear-gradient(#0054ff 0px,#007dff 19.1px,#00a8ff 26.4px,#00d0ff 30.4px,#0ff 33.1px,#00ff63 44px,#70ff42 45.6px,#a4ff05 47.4px,#ff0 53.2px,#ffd900 57.3px,#ff6d00 63.3px,#ff3000 65.8px,#ff1200 69px,#ff0700 74.3px,#ff0c00 83.5px,#f00 84.2px,#f00 85.3px,#cd0000 88.7px,#c80000 91.5px,#d70000 94px,#d20000 97.8px,#b40000 100.5px,#960000 102.5px,#960000 103px)"></i><i style="left:127px;width:2px;background:linear-gradient(#0054ff 0px,#007dff 19.2px,#00a8ff 26.5px,#00d0ff 30.4px,#0ff 33.1px,#00ff63 43.9px,#70ff42 45.5px,#a4ff05 47.2px,#ff0 53.2px,#ffd900 57.3px,#ff6c00 63.3px,#ff2e00 65.8px,#f10 69px,#ff0700 74.1px,#ff0c00 83.5px,#f00 84.2px,#f00 85.3px,#cd0000 88.7px,#c80000 91.5px,#d70000 94px,#d20000 97.8px,#b40000 100.5px,#960000 102.5px,#960000 103px)"></i><i style="left:129px;width:2px;background:linear-gradient(#0054ff 0px,#007dff 19.3px,#00a8ff 26.5px,#00d0ff 30.5px,#0ff 33.2px,#00ff63 43.8px,#70ff42 45.4px,#a4ff05 47px,#ff0 53.3px,#ffd900 57.4px,#ffa400 60.5px,#ff6b00 63.3px,#ff2d00 65.7px,#f10 69px,#ff0700 73.9px,#ff0c00 83.5px,#f00 84.2px,#f00 85.3px,#cd0000 88.7px,#c80000 91.5px,#d70000 94px,#d20000 97.8px,#b40000 100.5px,#960000 102.5px,#960000 103px)"></i><i style="left:131px;width:2px;background:linear-gradient(#0054ff 0px,#007dff 19.4px,#00a8ff 26.6px,#00d0ff 30.5px,#0ff 33.2px,#00ff63 43.7px,#70ff42 45.2px,#a4ff05 46.9px,#ff0 53.3px,#ffd800 57.4px,#ffa300 60.5px,#ff6b00 63.3px,#ff2b00 65.7px,#ff1000 69px,#ff0600 73.8px,#ff0c00 83.5px,#f00 84.2px,#f00 85.3px,#cd0000 88.7px,#c80000 91.5px,#d70000 94px,#d20000 97.8px,#b40000 100.5px,#960000 102.5px,#960000 103px)"></i><i style="left:133px;width:2px;background:linear-gradient(#0054ff 0px,#007dff 19.4px,#00a9ff 26.7px,#00d0ff 30.5px,#0ff 33.2px,#00ff63 43.6px,#70ff42 45.1px,#a4ff05 46.7px,#ff0 53.3px,#ffd800 57.4px,#fa0 60.1px,#ff6a00 63.3px,#ff2900 65.7px,#ff1000 69px,#ff0600 73.6px,#ff0b00 83.5px,#f00 84.2px,#f00 85.3px,#cd0000 88.7px,#c80000 91.5px,#d70000 94px,#d20000 97.8px,#b40000 100.5px,#960000 102.5px,#960000 103px)"></i><i style="left:135px;width:2px;background:linear-gradient(#0054ff 0px,#007dff 19.5px,#00a9ff 26.8px,#00d1ff 30.6px,#0ff 33.3px,#00ff63 43.5px,#70ff42 45px,#a4ff05 46.5px,#ff0 53.4px,#ffd800 57.5px,#ffa200 60.6px,#ff6900 63.3px,#ff2800 65.6px,#ff0f00 69px,#ff0600 73.5px,#ff0b00 83.5px,#f00 84.1px,#f00 85.3px,#cd0000 88.7px,#c80000 91.5px,#d70000 94px,#d20000 97.8px,#b40000 100.5px,#960000 102.5px,#960000 103px)"></i><i style="left:137px;width:2px;background:linear-gradient(#0054ff 0px,#007dff 19.6px,#00a9ff 26.8px,#00d1ff 30.6px,#0ff 33.3px,#00ff63 43.4px,#70ff42 44.8px,#a4ff05 46.3px,#ff0 53.4px,#ffd800 57.5px,#ffa200 60.6px,#ff6800 63.3px,#ff2600 65.6px,#ff0f00 69px,#ff0600 73.3px,#ff0b00 83.5px,#f00 84.1px,#f00 85.3px,#cd0000 88.7px,#c80000 91.5px,#d70000 94px,#d20000 97.8px,#b40000 100.5px,#960000 102.5px,#960000 103px)"></i><i style="left:139px;width:2px;background:linear-gradient(#0054ff 0px,#007dff 19.7px,#00a9ff 26.9px,#00d1ff 30.7px,#0ff 33.4px,#00ff63 43.3px,#70ff42 44.7px,#a4ff05 46.2px,#ff0 53.5px,#ffd800 57.6px,#ffa200 60.7px,#ff6700 63.2px,#ff2400 65.5px,#ff0e00 69px,#ff0600 73.2px,#ff0b00 83.5px,#f00 84.1px,#f00 85.3px,#cd0000 88.7px,#c80000 91.5px,#d70000 94px,#d20000 97.8px,#b40000 100.5px,#960000 102.5px,#960000 103px)"></i><i style="left:141px;width:2px;background:linear-gradient(#0054ff 0px,#007dff 19.8px,#00a9ff 27px,#00d1ff 30.7px,#0ff 33.4px,#00ff63 43.2px,#70ff42 44.6px,#a4ff05 46px,#ff0 53.5px,#ffd700 57.6px,#ffa100 60.7px,#f60 63.2px,#ff2300 65.5px,#ff0e00 69px,#ff0500 73px,#ff0b00 83.5px,#f00 84.1px,#f00 85.3px,#cd0000 88.7px,#c80000 91.5px,#d70000 94px,#d20000 97.8px,#b40000 100.5px,#960000 102.5px,#960000 103px)"></i><i style="left:143px;width:2px;background:linear-gradient(#0054ff 0px,#007dff 19.9px,#00a9ff 27.1px,#00d1ff 30.7px,#0ff 33.4px,#00ff89 41px,#00ff63 43.1px,#70ff42 44.4px,#a4ff05 45.8px,#ff0 53.5px,#ffd700 57.6px,#ffa100 60.7px,#f60 63.2px,#ff2100 65.5px,#ff0d00 69px,#ff0500 72.9px,#ff0a00 83.5px,#f00 84.1px,#f00 85.3px,#cd0000 88.7px,#c80000 91.5px,#d70000 94px,#d20000 97.8px,#b40000 100.5px,#960000 102.5px,#960000 103px)"></i><i style="left:145px;width:2px;background:linear-gradient(#0054ff 0px,#007dff 19.9px,#0af 27.1px,#00d2ff 30.8px,#0ff 33.5px,#00ff89 41px,#00ff63 43px,#70ff42 44.3px,#a4ff05 45.6px,#ff0 53.6px,#ffd700 57.7px,#ffa000 60.8px,#ff6500 63.2px,#ff1f00 65.4px,#ff0c00 69px,#ff0500 72.7px,#ff0a00 83.5px,#f00 84.1px,#f00 85.3px,#cd0000 88.7px,#c80000 91.5px,#d70000 94px,#d20000 97.8px,#b40000 100.5px,#960000 102.5px,#960000 103px)"></i><i style="left:147px;width:2px;background:linear-gradient(#0054ff 0px,#008cff 20px,#00beff 27.2px,#0ff 31.7px,#00ffb4 36.3px,#00ff78 41.2px,#00ff63 42px,#70ff42 43.1px,#a4ff05 44.2px,#ff0 50.9px,#ffdc00 55px,#ff6e00 62.6px,#ff3200 65.4px,#ff0a00 69px,#ff3200 79.2px,#ff1e00 83.7px,#f00 84.8px,#f00 85.9px,#eb0000 86.5px,#c30000 89.2px,#d70000 94.6px,#cd0000 97.4px,#960000 101.9px,#960000 103px)"></i><i style="left:149px;width:2px;background:linear-gradient(#0054ff 0px,#008cff 20px,#00beff 27.2px,#0ff 31.7px,#00ffb5 36.3px,#00ff78 41.3px,#00ff63 42.1px,#70ff42 43.2px,#a4ff04 44.4px,#ff0 50.9px,#ffdc00 55px,#ff6e00 62.6px,#ff3200 65.4px,#ff0a00 69px,#f30 79.2px,#ff1f00 83.7px,#f00 84.8px,#f00 85.9px,#eb0000 86.5px,#c30000 89.2px,#d70000 94.6px,#cd0000 97.4px,#960000 101.9px,#960000 103px)"></i><i style="left:151px;width:2px;background:linear-gradient(#0054ff 0px,#008cff 20px,#00beff 27.1px,#0ff 31.6px,#00ffb5 36.2px,#00ff78 41.4px,#00ff63 42.2px,#70ff42 43.4px,#a4ff03 44.6px,#ff0 51px,#ffdc00 55.1px,#ff6e00 62.7px,#ff3200 65.5px,#ff0a00 69px,#ff3500 79.2px,#ff2000 83.7px,#f00 84.8px,#f00 86px,#eb0000 86.5px,#c30000 89.2px,#d70000 94.6px,#cd0000 97.4px,#960000 101.9px,#960000 103px)"></i><i style="left:153px;width:2px;background:linear-gradient(#0054ff 0px,#008cff 20px,#00beff 27.1px,#0ff 31.6px,#00ffb5 36.2px,#0f7 41.5px,#00ff63 42.3px,#70ff42 43.5px,#a5ff02 44.8px,#ff0 51px,#ffdc00 55.1px,#ff6e00 62.7px,#ff3200 65.5px,#ff0a00 69.1px,#ff3600 79.2px,#ff2000 83.7px,#f00 84.9px,#f00 86px,#ec0000 86.5px,#c40000 89.2px,#d70000 94.6px,#cd0000 97.4px,#960000 101.9px,#960000 103px)"></i><i style="left:155px;width:2px;background:linear-gradient(#0054ff 0px,#008cff 20px,#00beff 27px,#0ff 31.5px,#00ffb6 36.1px,#0f7 41.6px,#00ff63 42.4px,#70ff42 43.6px,#a5ff01 45px,#ff0 51.1px,#fd0 55.2px,#ff6e00 62.8px,#ff3200 65.6px,#ff0a00 69.1px,#ff3700 79.2px,#ff2100 83.7px,#f00 84.9px,#f00 86px,#ec0000 86.5px,#c40000 89.2px,#d70000 94.6px,#cd0000 97.4px,#960000 101.9px,#960000 103px)"></i><i style="left:157px;width:2px;background:linear-gradient(#0054ff 0px,#008cff 20px,#00beff 27px,#0ff 31.5px,#00ffb6 36.1px,#0f7 41.7px,#00ff63 42.5px,#70ff42 43.8px,#a5ff01 45.2px,#ff0 51.1px,#fd0 55.2px,#ff6e00 62.8px,#ff3200 65.6px,#ff0b00 69.1px,#ff3800 79.2px,#f20 83.7px,#f00 84.9px,#f00 86px,#ec0000 86.5px,#c40000 89.2px,#d70000 94.6px,#cd0000 97.4px,#960000 101.9px,#960000 103px)"></i><i style="left:159px;width:2px;background:linear-gradient(#0054ff 0px,#008cff 20px,#00beff 27px,#0ff 31.5px,#00ffb7 36.1px,#0f7 41.7px,#00ff63 42.6px,#70ff42 43.9px,#a6ff00 45.4px,#ff0 51.1px,#fd0 55.2px,#ff6e00 62.8px,#ff3200 65.6px,#ff0b00 69.1px,#ff3a00 79.2px,#ff2300 83.7px,#f00 84.9px,#f00 86px,#ec0000 86.5px,#c40000 89.2px,#d70000 94.6px,#cd0000 97.4px,#960000 101.9px,#960000 103px)"></i><i style="left:161px;width:2px;background:linear-gradient(#0054ff 0px,#008cff 20px,#00beff 26.9px,#0ff 31.4px,#00ffb7 36px,#0f7 41.8px,#00ff63 42.7px,#70ff42 44.1px,#a6ff00 45.6px,#ff0 51.2px,#fd0 55.3px,#ff6e00 62.9px,#ff3200 65.7px,#ff0b00 69.1px,#ff3b00 79.2px,#ff2400 83.7px,#f00 84.9px,#f00 86px,#ec0000 86.5px,#c40000 89.2px,#d70000 94.6px,#cd0000 97.4px,#960000 101.9px,#960000 103px)"></i><i style="left:163px;width:2px;background:linear-gradient(#0054ff 0px,#008cff 20px,#00beff 26.9px,#0ff 31.4px,#00ffb7 36px,#00ff76 41.9px,#00ff63 42.8px,#70ff42 44.2px,#a5ff02 45.7px,#ff0 51.2px,#fd0 55.3px,#ff6e00 62.9px,#ff3200 65.7px,#ff0b00 69.2px,#ff3c00 79.2px,#ff2500 83.7px,#f00 84.9px,#f00 86px,#ed0000 86.5px,#c50000 89.2px,#d70000 94.6px,#cd0000 97.4px,#960000 101.9px,#960000 103px)"></i><i style="left:165px;width:2px;background:linear-gradient(#0054ff 0px,#008cff 20px,#00beff 26.9px,#0ff 31.4px,#00ffb8 36px,#00ff76 42px,#00ff63 42.9px,#70ff42 44.4px,#a5ff02 45.9px,#ff0 51.2px,#ffde00 55.3px,#ff6e00 62.9px,#ff3200 65.7px,#ff0b00 69.2px,#ff3d00 79.2px,#ff2500 83.7px,#f00 84.9px,#f00 86px,#ed0000 86.5px,#c50000 89.2px,#d70000 94.6px,#cd0000 97.4px,#960000 101.9px,#960000 103px)"></i><i style="left:167px;width:2px;background:linear-gradient(#0054ff 0px,#008cff 20px,#00beff 26.8px,#0ff 31.3px,#00ffb8 35.9px,#00ff76 42.1px,#00ff63 43px,#70ff42 44.5px,#a5ff02 46.1px,#ff0 51.3px,#ffde00 55.4px,#ff6e00 63px,#ff3200 65.8px,#ff0b00 69.2px,#ff3f00 79.2px,#ff2600 83.7px,#f00 85px,#f00 86px,#ed0000 86.5px,#c50000 89.2px,#d70000 94.6px,#cd0000 97.4px,#960000 101.9px,#960000 103px)"></i><i style="left:169px;width:2px;background:linear-gradient(#0054ff 0px,#008cff 20px,#00beff 26.8px,#0ff 31.3px,#00ffb9 35.9px,#00ff76 42.2px,#00ff63 43.1px,#70ff42 44.6px,#a5ff02 46.3px,#ff0 51.3px,#ffde00 55.4px,#ff6e00 63px,#ff3200 65.8px,#ff0b00 69.2px,#ff4000 79.2px,#ff2700 83.7px,#f00 85px,#f00 86px,#ed0000 86.5px,#c50000 89.2px,#d70000 94.6px,#cd0000 97.4px,#960000 101.9px,#960000 103px)"></i><i style="left:171px;width:2px;background:linear-gradient(#0054ff 0px,#008cff 20px,#00beff 26.7px,#0ff 31.2px,#00ffb9 35.8px,#00ff76 42.3px,#00ff63 43.2px,#70ff42 44.8px,#a5ff02 46.4px,#ff0 51.4px,#ffde00 55.5px,#ff6e00 63.1px,#ff3200 65.9px,#ff0b00 69.3px,#ff4100 79.2px,#ff2800 83.7px,#f00 85px,#f00 86px,#e00 86.5px,#c60000 89.2px,#d70000 94.6px,#cd0000 97.4px,#960000 101.9px,#960000 103px)"></i><i style="left:173px;width:2px;background:linear-gradient(#0054ff 0px,#008cff 20px,#00beff 26.7px,#0ff 31.2px,#00ffb9 35.8px,#00ff75 42.3px,#00ff63 43.3px,#70ff42 44.9px,#a7ff00 46.7px,#ff0 51.4px,#ffdf00 55.5px,#ff6e00 63.1px,#ff3200 65.9px,#ff0b00 69.3px,#ff4300 79.2px,#ff2900 83.7px,#f00 85px,#f00 86px,#e00 86.5px,#c60000 89.2px,#d70000 94.6px,#cd0000 97.4px,#960000 101.9px,#960000 103px)"></i><i style="left:175px;width:2px;background:linear-gradient(#0054ff 0px,#008cff 20px,#00beff 26.7px,#0ff 31.2px,#00ffba 35.8px,#00ff75 42.4px,#00ff63 43.4px,#70ff42 45px,#a8ff00 46.9px,#ff0 51.4px,#ffdf00 55.5px,#ff6e00 63.1px,#ff3200 65.9px,#ff0b00 69.3px,#f40 79.2px,#ff2a00 83.7px,#f00 85px,#f00 86.1px,#e00 86.5px,#c60000 89.2px,#d70000 94.6px,#cd0000 97.4px,#960000 101.9px,#960000 103px)"></i><i style="left:177px;width:2px;background:linear-gradient(#0054ff 0px,#008cff 20px,#00beff 26.6px,#0ff 31.1px,#00ffba 35.7px,#00ff75 42.5px,#00ff63 43.5px,#70ff42 45.2px,#a8ff00 47.1px,#ff0 51.5px,#ffdf00 55.6px,#ff6e00 63.2px,#ff3200 66px,#ff0b00 69.3px,#ff4500 79.2px,#ff2a00 83.7px,#f00 85px,#f00 86.1px,#e00 86.5px,#c60000 89.2px,#d70000 94.6px,#cd0000 97.4px,#960000 101.9px,#960000 103px)"></i><i style="left:179px;width:2px;background:linear-gradient(#0054ff 0px,#008cff 20px,#00beff 26.6px,#0ff 31.1px,#0fb 35.7px,#00ff75 42.6px,#00ff63 43.6px,#70ff42 45.3px,#a8ff00 47.3px,#ff0 51.5px,#ffdf00 55.6px,#ff6e00 63.2px,#ff3200 66px,#ff0b00 69.3px,#ff4600 79.2px,#ff2b00 83.7px,#f00 85px,#f00 86.1px,#e00 86.5px,#c60000 89.2px,#d70000 94.6px,#cd0000 97.4px,#960000 101.9px,#960000 103px)"></i><i style="left:181px;width:2px;background:linear-gradient(#0054ff 0px,#008cff 20px,#00beff 26.6px,#0ff 31.1px,#0fb 35.7px,#00ff75 42.7px,#00ff63 43.7px,#70ff42 45.5px,#a8ff00 47.5px,#ff0 51.5px,#ffdf00 55.6px,#ff6e00 63.2px,#ff3200 66px,#ff0b00 69.4px,#ff4800 79.2px,#ff2c00 83.7px,#f00 85.1px,#f00 86.1px,#ef0000 86.5px,#c70000 89.2px,#d70000 94.6px,#cd0000 97.4px,#960000 101.9px,#960000 103px)"></i><i style="left:183px;width:2px;background:linear-gradient(#0054ff 0px,#008cff 20px,#00beff 26.5px,#0ff 31px,#00ffbc 35.6px,#00ff74 42.8px,#00ff63 43.8px,#70ff42 45.6px,#a9ff00 47.7px,#ff0 51.6px,#ffe000 55.7px,#ff6e00 63.3px,#ff3200 66.1px,#ff0b00 69.4px,#ff4900 79.2px,#ff2d00 83.7px,#f00 85.1px,#f00 86.1px,#ef0000 86.5px,#c70000 89.2px,#d70000 94.6px,#cd0000 97.4px,#960000 101.9px,#960000 103px)"></i><i style="left:185px;width:2px;background:linear-gradient(#0054ff 0px,#008cff 20px,#00beff 26.5px,#0ff 31px,#00ffbc 35.6px,#00ff74 42.9px,#00ff63 43.9px,#70ff42 45.7px,#a9ff00 47.9px,#ff0 51.6px,#ffe000 55.7px,#ff6e00 63.3px,#ff3200 66.1px,#ff0c00 69.4px,#ff4a00 79.2px,#ff2e00 83.7px,#f00 85.1px,#f00 86.1px,#ef0000 86.5px,#c70000 89.2px,#d70000 94.6px,#cd0000 97.4px,#960000 101.9px,#960000 103px)"></i><i style="left:187px;width:2px;background:linear-gradient(#0054ff 0px,#008cff 20px,#00beff 26.4px,#0ff 30.9px,#00ffbc 35.5px,#00ff74 43px,#00ff63 44px,#70ff42 45.9px,#a5ff02 47.9px,#ff0 51.7px,#ffe000 55.8px,#ffa800 59.8px,#ff6e00 63.4px,#ff3200 66.2px,#ff0c00 69.4px,#ff4b00 79.2px,#ff2f00 83.7px,#f00 85.1px,#f00 86.1px,#ef0000 86.5px,#c70000 89.2px,#d70000 94.6px,#cd0000 97.4px,#960000 101.9px,#960000 103px)"></i><i style="left:189px;width:2px;background:linear-gradient(#0054ff 0px,#008cff 20px,#00beff 26.4px,#0ff 30.9px,#00ffbd 35.5px,#00ff74 43px,#00ff63 44.1px,#70ff42 46px,#a5ff02 48px,#ff0 51.7px,#ffe000 55.8px,#ffa900 59.8px,#ff6e00 63.4px,#ff3200 66.2px,#ff0c00 69.4px,#ff4c00 79.2px,#ff2f00 83.7px,#f00 85.1px,#f00 86.1px,#ef0000 86.5px,#c70000 89.2px,#d70000 94.6px,#cd0000 97.4px,#960000 101.9px,#960000 103px)"></i><i style="left:191px;width:2px;background:linear-gradient(#0054ff 0px,#008cff 20px,#00beff 26.4px,#0ff 30.9px,#00ffbd 35.5px,#00ff74 43.1px,#00ff63 44.2px,#70ff42 46.1px,#a5ff02 48.2px,#ff0 51.7px,#ffe000 55.8px,#ffa900 59.8px,#ff6e00 63.4px,#ff3200 66.2px,#ff0c00 69.5px,#ff4e00 79.2px,#ff3000 83.7px,#f00 85.1px,#f00 86.1px,#f00000 86.5px,#c80000 89.2px,#d70000 94.6px,#cd0000 97.4px,#960000 101.9px,#960000 103px)"></i><i style="left:193px;width:2px;background:linear-gradient(#0054ff 0px,#008cff 20px,#00beff 26.3px,#0ff 30.8px,#00ffbe 35.4px,#00ff73 43.2px,#00ff63 44.3px,#70ff42 46.3px,#a5ff02 48.4px,#ff0 51.8px,#ffe100 55.9px,#ffa900 59.9px,#ff6e00 63.5px,#ff3200 66.3px,#ff0c00 69.5px,#ff4f00 79.2px,#ff3100 83.7px,#f00 85.1px,#f00 86.1px,#f00000 86.5px,#c80000 89.2px,#d70000 94.6px,#cd0000 97.4px,#960000 101.9px,#960000 103px)"></i><i style="left:195px;width:2px;background:linear-gradient(#0054ff 0px,#008cff 20px,#00beff 26.3px,#0ff 30.8px,#00ffbe 35.4px,#00ff73 43.3px,#00ff63 44.4px,#70ff42 46.4px,#a5ff02 48.6px,#ff0 51.8px,#ffe100 55.9px,#fa0 59.9px,#ff6e00 63.5px,#ff3200 66.3px,#ff0c00 69.5px,#ff5000 79.2px,#ff3200 83.7px,#f00 85.1px,#f00 86.1px,#f00000 86.5px,#c80000 89.2px,#d70000 94.6px,#cd0000 97.4px,#960000 101.9px,#960000 103px)"></i><i style="left:197px;width:2px;background:linear-gradient(#0054ff 0px,#008cff 19.9px,#00beff 26.3px,#0ff 30.8px,#00ffbe 35.4px,#00ff73 43.3px,#00ff63 44.4px,#70ff42 46.4px,#a5ff02 48.6px,#ff0 51.8px,#ffe100 55.9px,#fa0 59.9px,#ff6f00 63.5px,#ff3200 66.3px,#ff0c00 69.5px,#ff5300 79.2px,#ff3400 83.6px,#f00 85.1px,#f00 86.1px,#f00000 86.4px,#c80000 89.2px,#d70000 94.6px,#cd0000 97.4px,#960000 101.9px,#960000 103px)"></i><i style="left:199px;width:2px;background:linear-gradient(#0054ff 0px,#008bff 19.8px,#00beff 26.2px,#0ff 30.7px,#00ffbe 35.3px,#00ff73 43.3px,#00ff63 44.4px,#70ff42 46.4px,#a5ff02 48.6px,#ff0 51.9px,#ffe100 55.9px,#fa0 59.9px,#ff6f00 63.5px,#f30 66.4px,#ff0d00 69.6px,#f50 79.2px,#ff3500 83.6px,#f00 85.1px,#f00 86px,#f10000 86.4px,#c80000 89.2px,#d70000 94.6px,#cd0000 97.4px,#960000 101.9px,#960000 103px)"></i><i style="left:201px;width:2px;background:linear-gradient(#0054ff 0px,#008bff 19.7px,#00beff 26.2px,#0ff 30.7px,#00ffbe 35.3px,#00ff73 43.3px,#00ff63 44.4px,#70ff42 46.4px,#a5ff02 48.6px,#ff0 51.9px,#ffe100 55.9px,#fa0 59.9px,#ff6f00 63.5px,#f30 66.4px,#ff0d00 69.6px,#ff5800 79.2px,#ff3700 83.5px,#f00 85.1px,#f00 86px,#f10000 86.3px,#c70000 89.3px,#d70000 94.6px,#cd0000 97.4px,#960000 101.9px,#960000 103px)"></i><i style="left:203px;width:2px;background:linear-gradient(#0054ff 0px,#008aff 19.7px,#00beff 26.1px,#0ff 30.6px,#00ffbe 35.2px,#00ff73 43.3px,#00ff63 44.4px,#70ff42 46.4px,#a5ff02 48.6px,#ff0 52px,#ffe100 55.9px,#ffab00 59.9px,#ff7000 63.5px,#f30 66.5px,#ff0e00 69.7px,#ff5a00 79.2px,#ff3900 83.5px,#f00 85px,#f00 86px,#f20000 86.3px,#c70000 89.3px,#d70000 94.6px,#cd0000 97.4px,#960000 101.9px,#960000 103px)"></i><i style="left:205px;width:2px;background:linear-gradient(#0054ff 0px,#008aff 19.6px,#00beff 26.1px,#0ff 30.6px,#00ffbe 35.2px,#00ff73 43.3px,#00ff63 44.4px,#70ff42 46.4px,#a5ff02 48.6px,#ff0 52px,#ffe100 55.9px,#ffab00 59.9px,#ff7000 63.5px,#ff3400 66.5px,#ff0e00 69.7px,#ff5d00 79.2px,#ff3a00 83.4px,#f00 85px,#f00 85.9px,#f20000 86.2px,#c70000 89.3px,#d70000 94.6px,#cd0000 97.4px,#960000 101.9px,#960000 103px)"></i><i style="left:207px;width:2px;background:linear-gradient(#0054ff 0px,#008aff 19.5px,#00beff 26.1px,#0ff 30.6px,#00ffbe 35.2px,#00ff73 43.3px,#00ff63 44.4px,#70ff42 46.4px,#a5ff02 48.6px,#ff0 52px,#ffe100 55.9px,#ffab00 59.9px,#ff7100 63.5px,#ff3400 66.5px,#ff0f00 69.8px,#ff5f00 79.2px,#ff3c00 83.4px,#f00 85px,#f00 85.9px,#f30000 86.2px,#c70000 89.3px,#d70000 94.6px,#cd0000 97.4px,#960000 101.9px,#960000 103px)"></i><i style="left:209px;width:2px;background:linear-gradient(#0054ff 0px,#0089ff 19.4px,#00beff 26px,#0ff 30.5px,#00ffbe 35.1px,#00ff73 43.3px,#00ff63 44.4px,#70ff42 46.4px,#a8ff00 48.8px,#ff0 52.1px,#ffe100 55.9px,#ffab00 59.9px,#ff7100 63.5px,#ff3500 66.6px,#ff0f00 69.8px,#ff6200 79.2px,#ff3e00 83.3px,#f00 84.9px,#f00 85.8px,#f30000 86.1px,#c70000 89.3px,#d70000 94.6px,#cd0000 97.4px,#960000 101.9px,#960000 103px)"></i><i style="left:211px;width:2px;background:linear-gradient(#0054ff 0px,#0089ff 19.3px,#00beff 26px,#0ff 30.5px,#00ffbe 35.1px,#00ff73 43.3px,#00ff63 44.4px,#70ff42 46.4px,#a8ff00 48.8px,#ff0 52.1px,#ffe100 55.9px,#ffac00 59.9px,#ff7100 63.5px,#ff3500 66.6px,#ff0f00 69.8px,#ff6400 79.2px,#ff3f00 83.3px,#f00 84.9px,#f00 85.8px,#f30000 86.1px,#c60000 89.4px,#d70000 94.6px,#cd0000 97.4px,#960000 101.9px,#960000 103px)"></i><i style="left:213px;width:2px;background:linear-gradient(#0054ff 0px,#08f 19.3px,#00beff 26px,#0ff 30.5px,#00ffbe 35.1px,#00ff73 43.3px,#00ff63 44.4px,#70ff42 46.4px,#a8ff00 48.8px,#ff0 52.1px,#ffe100 55.9px,#ffac00 59.9px,#ff7200 63.5px,#ff3600 66.6px,#ff1000 69.9px,#ff6700 79.2px,#ff4100 83.3px,#f00 84.9px,#f00 85.8px,#f40000 86px,#c60000 89.4px,#d70000 94.6px,#cd0000 97.4px,#960000 101.9px,#960000 103px)"></i><i style="left:215px;width:2px;background:linear-gradient(#0054ff 0px,#08f 19.2px,#00beff 25.9px,#0ff 30.4px,#00ffbe 35px,#00ff73 43.3px,#00ff63 44.4px,#70ff42 46.5px,#a8ff00 48.8px,#ff0 52.2px,#ffe100 55.9px,#ffac00 59.9px,#ff7200 63.5px,#ff3600 66.7px,#ff1000 69.9px,#ff6900 79.2px,#ff4300 83.2px,#f00 84.9px,#f00 85.7px,#f40000 86px,#c60000 89.4px,#d70000 94.6px,#cd0000 97.4px,#960000 101.9px,#960000 103px)"></i><i style="left:217px;width:2px;background:linear-gradient(#0054ff 0px,#0087ff 19.1px,#00beff 25.9px,#0ff 30.4px,#00ffbe 35px,#00ff73 43.3px,#00ff63 44.4px,#70ff42 46.5px,#a7ff00 48.8px,#ff0 52.2px,#ffe100 55.9px,#ffac00 59.9px,#ff7300 63.5px,#ff3600 66.7px,#f10 70px,#ff6c00 79.2px,#f40 83.2px,#f00 84.8px,#f00 85.7px,#f50000 85.9px,#c60000 89.4px,#d70000 94.6px,#cd0000 97.4px,#960000 101.9px,#960000 103px)"></i><i style="left:219px;width:2px;background:linear-gradient(#0054ff 0px,#0087ff 19px,#00beff 25.9px,#0ff 30.4px,#00ffbe 35px,#00ff73 43.3px,#00ff63 44.4px,#70ff42 46.5px,#a7ff00 48.8px,#ff0 52.2px,#ffe100 55.9px,#ffac00 59.9px,#ff7300 63.5px,#ff3700 66.7px,#f10 70px,#ff6e00 79.2px,#ff4600 83.1px,#f00 84.8px,#f00 85.6px,#f50000 85.9px,#c60000 89.4px,#d70000 94.6px,#cd0000 97.4px,#960000 101.9px,#960000 103px)"></i><i style="left:221px;width:2px;background:linear-gradient(#0054ff 0px,#0087ff 18.9px,#00beff 25.8px,#0ff 30.3px,#00ffbe 34.9px,#00ff73 43.3px,#00ff63 44.4px,#70ff42 46.5px,#a7ff00 48.8px,#ff0 52.3px,#ffe100 55.9px,#ffad00 59.9px,#ff7400 63.5px,#ff3700 66.8px,#ff1200 70px,#ff7100 79.2px,#ff4800 83.1px,#f00 84.8px,#f00 85.6px,#f50000 85.8px,#c50000 89.5px,#d70000 94.6px,#cd0000 97.4px,#960000 101.9px,#960000 103px)"></i><i style="left:223px;width:2px;background:linear-gradient(#0054ff 0px,#0086ff 18.8px,#00beff 25.8px,#0ff 30.3px,#00ffbe 34.9px,#00ff73 43.3px,#00ff63 44.4px,#70ff42 46.5px,#a7ff00 48.8px,#ff0 52.3px,#ffe100 55.9px,#ffad00 59.9px,#ff7400 63.5px,#ff3800 66.8px,#ff1200 70.1px,#ff7300 79.2px,#ff4900 83px,#f00 84.7px,#f00 85.5px,#f60000 85.7px,#c50000 89.5px,#d70000 94.6px,#cd0000 97.4px,#960000 101.9px,#960000 103px)"></i><i style="left:225px;width:2px;background:linear-gradient(#0054ff 0px,#0086ff 18.8px,#00beff 25.7px,#0ff 30.2px,#00ffbe 34.8px,#00ff73 43.3px,#00ff63 44.4px,#70ff42 46.5px,#a6ff00 48.8px,#ff0 52.4px,#ffe100 55.9px,#ffad00 59.9px,#ff3800 66.9px,#ff1200 70.1px,#ff7600 79.2px,#ff4b00 83px,#f00 84.7px,#f00 85.5px,#f60000 85.7px,#c50000 89.5px,#d70000 94.6px,#cd0000 97.4px,#960000 101.9px,#960000 103px)"></i><i style="left:227px;width:2px;background:linear-gradient(#0054ff 0px,#0085ff 18.7px,#00beff 25.7px,#0ff 30.2px,#00ffbe 34.8px,#00ff73 43.3px,#00ff63 44.4px,#70ff42 46.5px,#a6ff00 48.8px,#ff0 52.4px,#ffe100 55.9px,#ffad00 59.9px,#ff3800 66.9px,#ff1300 70.2px,#ff7800 79.2px,#ff4d00 82.9px,#f00 84.7px,#f00 85.5px,#f70000 85.6px,#c50000 89.5px,#d70000 94.6px,#cd0000 97.4px,#960000 101.9px,#960000 103px)"></i><i style="left:229px;width:2px;background:linear-gradient(#0054ff 0px,#0085ff 18.6px,#00beff 25.7px,#0ff 30.2px,#00ffbe 34.8px,#00ff73 43.3px,#00ff63 44.4px,#70ff42 46.5px,#a6ff00 48.8px,#ff0 52.4px,#ffe100 55.9px,#ffad00 59.9px,#ff3900 66.9px,#ff1300 70.2px,#ff7b00 79.2px,#ff4e00 82.9px,#f00 84.6px,#f00 85.4px,#f70000 85.6px,#c40000 89.6px,#d70000 94.6px,#cd0000 97.4px,#960000 101.9px,#960000 103px)"></i><i style="left:231px;width:2px;background:linear-gradient(#0054ff 0px,#0085ff 18.5px,#00beff 25.6px,#0ff 30.1px,#00ffbe 34.7px,#00ff73 43.3px,#00ff63 44.4px,#70ff42 46.5px,#a5ff00 48.8px,#ff0 52.5px,#ffe100 55.9px,#ffae00 59.9px,#ff3900 67px,#ff1400 70.2px,#ff7d00 79.2px,#ff5000 82.8px,#f00 84.6px,#f00 85.4px,#f70000 85.5px,#c40000 89.6px,#d70000 94.6px,#cd0000 97.4px,#960000 101.9px,#960000 103px)"></i><i style="left:233px;width:2px;background:linear-gradient(#0054ff 0px,#0084ff 18.4px,#00beff 25.6px,#0ff 30.1px,#00ffbe 34.7px,#00ff73 43.3px,#00ff63 44.4px,#70ff42 46.5px,#a5ff01 48.8px,#ff0 52.5px,#ffe100 55.9px,#ffae00 59.9px,#ff3a00 67px,#ff1400 70.3px,#ff8000 79.2px,#ff5200 82.8px,#f00 84.6px,#f00 85.3px,#f80000 85.5px,#c40000 89.6px,#d70000 94.6px,#cd0000 97.4px,#960000 101.9px,#960000 103px)"></i><i style="left:235px;width:2px;background:linear-gradient(#0054ff 0px,#0084ff 18.3px,#00beff 25.6px,#0ff 30.1px,#00ffbe 34.7px,#00ff73 43.3px,#00ff63 44.4px,#70ff42 46.5px,#a5ff02 48.8px,#ff0 52.5px,#ffe100 55.9px,#ffae00 59.9px,#ff3a00 67px,#ff1400 70.3px,#ff8200 79.2px,#ff5300 82.7px,#f00 84.5px,#f00 85.3px,#f80000 85.4px,#c40000 89.6px,#d70000 94.6px,#cd0000 97.4px,#960000 101.9px,#960000 103px)"></i><i style="left:237px;width:2px;background:linear-gradient(#0054ff 0px,#0083ff 18.3px,#00beff 25.5px,#0ff 30px,#00ffbe 34.6px,#00ff73 43.3px,#00ff63 44.4px,#70ff42 46.5px,#a5ff02 48.8px,#ff0 52.6px,#ffe100 55.9px,#ffae00 59.9px,#ff3b00 67.1px,#ff1500 70.4px,#ff8400 79.2px,#f50 82.7px,#f00 84.5px,#f00 85.2px,#f90000 85.4px,#c40000 89.6px,#d70000 94.6px,#cd0000 97.4px,#960000 101.9px,#960000 103px)"></i><i style="left:239px;width:2px;background:linear-gradient(#0054ff 0px,#0083ff 18.2px,#00beff 25.5px,#0ff 30px,#00ffbe 34.6px,#00ff73 43.3px,#00ff63 44.4px,#70ff42 46.5px,#a5ff02 48.8px,#ff0 52.6px,#ffe100 55.9px,#ffae00 59.9px,#ff3b00 67.1px,#ff1500 70.4px,#ff8700 79.2px,#ff5600 82.6px,#f00 84.4px,#f00 85.2px,#f90000 85.3px,#c30000 89.7px,#d70000 94.6px,#cd0000 97.4px,#960000 101.9px,#960000 103px)"></i><i style="left:241px;width:2px;background:linear-gradient(#0054ff 0px,#0083ff 18.1px,#00beff 25.4px,#0ff 29.9px,#00ffbe 34.5px,#00ff73 43.3px,#00ff63 44.4px,#70ff42 46.5px,#a5ff02 48.8px,#ff0 52.7px,#ffe100 55.9px,#ffaf00 59.9px,#ff3b00 67.2px,#ff1600 70.5px,#ff8900 79.2px,#ff5800 82.6px,#f00 84.4px,#f00 85.2px,#fa0000 85.3px,#c30000 89.7px,#d70000 94.6px,#cd0000 97.4px,#960000 101.9px,#960000 103px)"></i><i style="left:243px;width:2px;background:linear-gradient(#0054ff 0px,#0082ff 18px,#00beff 25.4px,#0ff 29.9px,#00ffbe 34.5px,#00ff73 43.3px,#00ff63 44.4px,#70ff42 46.6px,#a5ff02 48.8px,#ff0 52.7px,#ffe100 55.9px,#ffaf00 59.9px,#ff3c00 67.2px,#ff1600 70.5px,#ff8c00 79.2px,#ff5a00 82.5px,#f00 84.4px,#f00 85.1px,#c30000 89.7px,#d70000 94.6px,#cd0000 97.4px,#960000 101.9px,#960000 103px)"></i><i style="left:245px;width:2px;background:linear-gradient(#0054ff 0px,#006eff 7.5px,#0096ff 16.3px,#00bfff 21.6px,#00d6ff 27.1px,#0ff 30.8px,#00ffbe 34.5px,#00ff78 39.4px,#00ff63 40.4px,#70ff42 41.8px,#a4ff05 43.3px,#ff0 49.1px,#ffdc00 53.1px,#ff6e00 61.7px,#ff3200 64.5px,#ff0a00 67.4px,#ff1400 71px,#ff5000 73.7px,#ff8c00 77.4px,#ff8c00 80.1px,#ff5000 82.8px,#f00 84px,#f00 84.5px,#d70000 86.8px,#b60000 89.2px,#cd0000 91.9px,#d70000 94.6px,#c30000 98.3px,#a50000 100.6px,#960000 103px)"></i><i style="left:247px;width:2px;background:linear-gradient(#0054ff 0px,#006eff 7.5px,#0096ff 16.2px,#00bfff 21.6px,#00d5ff 27.1px,#0ff 30.9px,#00ffbd 34.6px,#0f7 39.5px,#00ff63 40.4px,#70ff42 41.9px,#a4ff05 43.4px,#ff0 49.1px,#ffdb00 53.1px,#ff6e00 61.6px,#ff3200 64.4px,#ff0a00 67.3px,#ff1400 71px,#ff5000 73.7px,#ff8c00 77.4px,#ff8c00 80.1px,#ff4f00 82.8px,#f00 84px,#f00 84.5px,#d70000 86.8px,#b60000 89.2px,#cd0000 91.9px,#d70000 94.6px,#c30000 98.3px,#a50000 100.6px,#960000 103px)"></i><i style="left:249px;width:2px;background:linear-gradient(#0054ff 0px,#006eff 7.5px,#0096ff 16.2px,#00bfff 21.5px,#00d4ff 27px,#0ff 30.9px,#00ffbd 34.6px,#0f7 39.5px,#00ff63 40.5px,#70ff42 41.9px,#a4ff04 43.4px,#ff0 49.1px,#ffdb00 53.1px,#ff6e00 61.6px,#ff3200 64.4px,#ff0900 67.3px,#ff1400 71px,#ff5000 73.7px,#ff8b00 77.4px,#ff8b00 80.1px,#ff4f00 82.8px,#f00 84px,#f00 84.5px,#d70000 86.8px,#b60000 89.2px,#cd0000 91.9px,#d70000 94.6px,#c30000 98.3px,#a50000 100.6px,#960000 103px)"></i><i style="left:251px;width:2px;background:linear-gradient(#0054ff 0px,#006eff 7.5px,#0096ff 16.2px,#00c0ff 21.4px,#00d3ff 26.9px,#0ff 30.9px,#00ffbc 34.6px,#00ff76 39.5px,#00ff63 40.5px,#70ff42 41.9px,#a4ff04 43.4px,#ff0 49.1px,#ffdb00 53.1px,#ff6e00 61.6px,#ff3200 64.3px,#ff0900 67.3px,#ff1500 71px,#ff5000 73.7px,#ff8b00 77.4px,#ff8b00 80.1px,#ff4e00 82.8px,#f00 84px,#f00 84.5px,#d70000 86.8px,#b60000 89.2px,#cd0000 91.9px,#d70000 94.6px,#c30000 98.3px,#a50000 100.6px,#960000 103px)"></i><i style="left:253px;width:2px;background:linear-gradient(#0054ff 0px,#006eff 7.5px,#0096ff 16.1px,#00c0ff 21.3px,#00d2ff 26.8px,#0ff 31px,#00ffbc 34.7px,#00ff76 39.6px,#00ff63 40.5px,#70ff42 41.9px,#a4ff04 43.5px,#ff0 49.1px,#ffdb00 53.1px,#ffa900 57.2px,#ff6e00 61.5px,#ff3200 64.3px,#ff0900 67.2px,#ff1500 71px,#ff5000 73.7px,#ff8b00 77.4px,#ff8b00 80.1px,#ff4e00 82.8px,#f00 84px,#f00 84.5px,#d70000 86.8px,#b60000 89.2px,#cd0000 91.9px,#d70000 94.6px,#c30000 98.3px,#a50000 100.6px,#960000 103px)"></i><i style="left:255px;width:2px;background:linear-gradient(#0054ff 0px,#006eff 7.5px,#0096ff 16.1px,#00c1ff 21.3px,#00d1ff 26.8px,#0ff 31px,#00ffbc 34.7px,#00ff76 39.6px,#00ff63 40.5px,#70ff42 42px,#a4ff04 43.5px,#ff0 49.1px,#ffdb00 53.1px,#ffa900 57.2px,#ff6e00 61.5px,#ff3200 64.3px,#ff0900 67.2px,#ff1500 71px,#ff5000 73.7px,#ff8b00 77.4px,#ff8b00 80.1px,#ff4e00 82.8px,#f00 84px,#f00 84.5px,#d70000 86.8px,#b60000 89.2px,#cd0000 91.9px,#d70000 94.6px,#c30000 98.3px,#a50000 100.6px,#960000 103px)"></i><i style="left:257px;width:2px;background:linear-gradient(#0054ff 0px,#006eff 7.5px,#0096ff 16px,#00c1ff 21.2px,#00d0ff 26.7px,#0ff 31.1px,#0fb 34.8px,#00ff75 39.7px,#00ff63 40.5px,#70ff42 42px,#a4ff04 43.6px,#ff0 49.1px,#ffda00 53.1px,#ffa800 57.2px,#ff6e00 61.4px,#ff3200 64.2px,#ff0800 67.1px,#ff1500 71px,#ff5000 73.7px,#ff8a00 77.4px,#ff8a00 80.1px,#ff4d00 82.8px,#f00 84px,#f00 84.5px,#d70000 86.8px,#b60000 89.2px,#cd0000 91.9px,#d70000 94.6px,#c30000 98.3px,#a50000 100.6px,#960000 103px)"></i><i style="left:259px;width:2px;background:linear-gradient(#0054ff 0px,#006eff 7.5px,#0096ff 16px,#00c1ff 21.1px,#00cfff 26.6px,#0ff 31.1px,#0fb 34.8px,#00ff75 39.7px,#00ff63 40.6px,#70ff42 42px,#a4ff04 43.6px,#ff0 49.1px,#ffda00 53.1px,#ffa800 57.2px,#ff6e00 61.4px,#ff3200 64.2px,#ff0800 67.1px,#ff1600 71px,#ff5000 73.7px,#ff8a00 77.4px,#ff8a00 80.1px,#ff4d00 82.8px,#f00 84px,#f00 84.5px,#d70000 86.8px,#b60000 89.2px,#cd0000 91.9px,#d70000 94.6px,#c30000 98.3px,#a50000 100.6px,#960000 103px)"></i><i style="left:261px;width:2px;background:linear-gradient(#0054ff 0px,#006eff 7.5px,#0096ff 16px,#00c2ff 21px,#00ceff 26.5px,#0ff 31.1px,#00ffba 34.8px,#00ff74 39.7px,#00ff63 40.6px,#70ff42 42.1px,#a4ff04 43.6px,#ff0 49.1px,#ffda00 53.1px,#ffa800 57.2px,#ff6e00 61.4px,#ff3200 64.1px,#ff0800 67.1px,#ff1600 71px,#ff5000 73.7px,#ff8a00 77.4px,#ff8a00 80.1px,#ff4c00 82.8px,#f00 84px,#f00 84.5px,#d70000 86.8px,#b60000 89.2px,#cd0000 91.9px,#d70000 94.6px,#c30000 98.3px,#a50000 100.6px,#960000 103px)"></i><i style="left:263px;width:2px;background:linear-gradient(#0054ff 0px,#006eff 7.5px,#0096ff 15.9px,#00c2ff 21px,#00cdff 26.5px,#0ff 31.2px,#00ffba 34.9px,#00ff74 39.8px,#00ff63 40.6px,#70ff42 42.1px,#a4ff04 43.7px,#ff0 49.1px,#ffda00 53.1px,#ffa800 57.2px,#ff6e00 61.3px,#ff3200 64.1px,#ff0800 67px,#ff1600 71px,#ff5000 73.7px,#ff8a00 77.4px,#ff8a00 80.1px,#ff4c00 82.8px,#f00 84px,#f00 84.5px,#d70000 86.8px,#b60000 89.2px,#cd0000 91.9px,#d70000 94.6px,#c30000 98.3px,#a50000 100.6px,#960000 103px)"></i><i style="left:265px;width:2px;background:linear-gradient(#0054ff 0px,#006eff 7.5px,#0096ff 15.9px,#00c3ff 20.9px,#0cf 26.4px,#0ff 31.2px,#00ffba 34.9px,#00ff73 39.8px,#00ff63 40.6px,#70ff42 42.1px,#a4ff04 43.7px,#ff0 49.1px,#ffda00 53.1px,#ffa800 57.2px,#ff6e00 61.3px,#ff3200 64px,#ff0800 67px,#ff1600 71px,#ff5000 73.7px,#ff8a00 77.4px,#ff8a00 80.1px,#ff4b00 82.8px,#f00 84px,#f00 84.5px,#d70000 86.8px,#b60000 89.2px,#cd0000 91.9px,#d70000 94.6px,#c30000 98.3px,#a50000 100.6px,#960000 103px)"></i><i style="left:267px;width:2px;background:linear-gradient(#0054ff 0px,#006eff 7.5px,#0096ff 15.9px,#00c3ff 20.8px,#00cbff 26.3px,#0ff 31.2px,#00ffb9 34.9px,#00ff63 40.6px,#70ff42 42.1px,#a4ff03 43.7px,#ff0 49.1px,#ffd900 53.1px,#ffa800 57.2px,#ff6e00 61.3px,#ff3200 64px,#ff0700 67px,#ff1600 71px,#ff5000 73.7px,#ff8900 77.4px,#ff8900 80.1px,#ff4b00 82.8px,#f00 84px,#f00 84.5px,#d70000 86.8px,#b60000 89.2px,#cd0000 91.9px,#d70000 94.6px,#c30000 98.3px,#a50000 100.6px,#960000 103px)"></i><i style="left:269px;width:2px;background:linear-gradient(#0054ff 0px,#006eff 7.5px,#0096ff 15.8px,#00c4ff 20.7px,#00caff 26.2px,#0ff 31.3px,#00ffb9 35px,#00ff63 40.7px,#70ff42 42.2px,#a4ff03 43.8px,#ff0 49.1px,#ffd900 53.1px,#ffa700 57.2px,#ff6e00 61.2px,#ff3200 64px,#ff0700 66.9px,#ff1700 71px,#ff5000 73.7px,#ff8900 77.4px,#ff8900 80.1px,#ff4b00 82.8px,#f00 84px,#f00 84.5px,#d70000 86.8px,#b60000 89.2px,#cd0000 91.9px,#d70000 94.6px,#c30000 98.3px,#a50000 100.6px,#960000 103px)"></i><i style="left:271px;width:2px;background:linear-gradient(#0054ff 0px,#006eff 7.5px,#0096ff 15.8px,#00c4ff 20.7px,#00c9ff 26.2px,#0ff 31.3px,#00ffb8 35px,#00ff63 40.7px,#70ff42 42.2px,#a4ff03 43.8px,#ff0 49.1px,#ffd900 53.1px,#ffa700 57.2px,#ff6e00 61.2px,#ff3200 63.9px,#ff0700 66.9px,#ff1700 71px,#ff5000 73.7px,#ff8900 77.4px,#ff8900 80.1px,#ff4a00 82.8px,#f00 84px,#f00 84.5px,#d70000 86.8px,#b60000 89.2px,#cd0000 91.9px,#d70000 94.6px,#c30000 98.3px,#a50000 100.6px,#960000 103px)"></i><i style="left:273px;width:2px;background:linear-gradient(#0054ff 0px,#006eff 7.5px,#0096ff 15.7px,#00c4ff 20.6px,#00c8ff 26.1px,#0ff 31.4px,#00ffb8 35.1px,#00ff63 40.7px,#70ff42 42.2px,#a4ff03 43.9px,#ff0 49.1px,#ffd900 53.1px,#ffa700 57.2px,#ff6e00 61.1px,#ff3200 63.9px,#ff0700 66.8px,#ff1700 71px,#ff5000 73.7px,#ff8900 77.4px,#ff8900 80.1px,#ff4a00 82.8px,#f00 84px,#f00 84.5px,#d70000 86.8px,#b60000 89.2px,#cd0000 91.9px,#d70000 94.6px,#c30000 98.3px,#a50000 100.6px,#960000 103px)"></i><i style="left:275px;width:2px;background:linear-gradient(#0054ff 0px,#006eff 7.5px,#0096ff 15.7px,#00c5ff 20.5px,#00c7ff 26px,#0ff 31.4px,#00ffb7 35.1px,#00ff63 40.7px,#70ff42 42.2px,#a5ff03 43.9px,#ff0 49.1px,#ffd800 53.1px,#ffa700 57.2px,#ff6e00 61.1px,#ff3200 63.8px,#ff0600 66.8px,#ff1700 71px,#ff5000 73.7px,#ff8900 77.4px,#ff8900 80.1px,#ff4900 82.8px,#f00 84px,#f00 84.5px,#d70000 86.8px,#b60000 89.2px,#cd0000 91.9px,#d70000 94.6px,#c30000 98.3px,#a50000 100.6px,#960000 103px)"></i><i style="left:277px;width:2px;background:linear-gradient(#0054ff 0px,#006eff 7.5px,#0096ff 15.7px,#00c5ff 20.4px,#00c6ff 25.9px,#0ff 31.4px,#00ffb7 35.1px,#00ff63 40.7px,#70ff42 42.3px,#a5ff03 43.9px,#ff0 49.1px,#ffd800 53.1px,#ffa700 57.2px,#ff6e00 61.1px,#ff3200 63.8px,#ff0600 66.8px,#ff1800 71px,#ff5000 73.7px,#f80 77.4px,#f80 80.1px,#ff4900 82.8px,#f00 84px,#f00 84.5px,#d70000 86.8px,#b60000 89.2px,#cd0000 91.9px,#d70000 94.6px,#c30000 98.3px,#a50000 100.6px,#960000 103px)"></i><i style="left:279px;width:2px;background:linear-gradient(#0054ff 0px,#006eff 7.5px,#0096ff 15.6px,#00c6ff 20.4px,#00c5ff 25.9px,#0ff 31.5px,#00ffb7 35.2px,#00ff63 40.8px,#70ff42 42.3px,#a5ff03 44px,#ff0 49.1px,#ffd800 53.1px,#ffa600 57.2px,#ff6e00 61px,#ff3200 63.8px,#ff0600 66.7px,#ff1800 71px,#ff5000 73.7px,#f80 77.4px,#f80 80.1px,#ff4800 82.8px,#f00 84px,#f00 84.5px,#d70000 86.8px,#b60000 89.2px,#cd0000 91.9px,#d70000 94.6px,#c30000 98.3px,#a50000 100.6px,#960000 103px)"></i><i style="left:281px;width:2px;background:linear-gradient(#0054ff 0px,#006eff 7.5px,#0096ff 15.6px,#00c6ff 20.3px,#00c4ff 25.8px,#0ff 31.5px,#00ffb6 35.2px,#00ff63 40.8px,#70ff42 42.3px,#a5ff03 44px,#ff0 49.1px,#ffd800 53.1px,#ffa600 57.2px,#ff6e00 61px,#ff3200 63.7px,#ff0600 66.7px,#ff1800 71px,#ff5000 73.7px,#f80 77.4px,#f80 80.1px,#ff4800 82.8px,#f00 84px,#f00 84.5px,#d70000 86.8px,#b60000 89.2px,#cd0000 91.9px,#d70000 94.6px,#c30000 98.3px,#a50000 100.6px,#960000 103px)"></i><i style="left:283px;width:2px;background:linear-gradient(#0054ff 0px,#006eff 7.5px,#0096ff 15.6px,#00c6ff 20.2px,#00c2ff 25.7px,#0ff 31.5px,#00ffb6 35.2px,#00ff63 40.8px,#70ff42 42.4px,#a5ff03 44px,#ff0 49.1px,#ffd800 53.1px,#ffa600 57.2px,#ff6e00 61px,#ff3200 63.7px,#ff0600 66.7px,#ff1800 71px,#ff5000 73.7px,#f80 77.4px,#f80 80.1px,#ff4800 82.8px,#f00 84px,#f00 84.5px,#d70000 86.8px,#b60000 89.2px,#cd0000 91.9px,#d70000 94.6px,#c30000 98.3px,#a50000 100.6px,#960000 103px)"></i><i style="left:285px;width:2px;background:linear-gradient(#0054ff 0px,#006eff 7.5px,#0096ff 15.5px,#00c7ff 20.1px,#00c1ff 25.6px,#0ff 31.6px,#00ffb5 35.3px,#00ff63 40.8px,#70ff42 42.4px,#a5ff02 44.1px,#ff0 49.1px,#ffd700 53.1px,#ffa600 57.2px,#ff6e00 60.9px,#ff3200 63.6px,#ff0600 66.6px,#ff1800 71px,#ff5000 73.7px,#ff8700 77.4px,#ff8700 80.1px,#ff4700 82.8px,#f00 84px,#f00 84.5px,#d70000 86.8px,#b60000 89.2px,#cd0000 91.9px,#d70000 94.6px,#c30000 98.3px,#a50000 100.6px,#960000 103px)"></i><i style="left:287px;width:2px;background:linear-gradient(#0054ff 0px,#006eff 7.5px,#0096ff 15.5px,#00c7ff 20.1px,#00c0ff 25.6px,#0ff 31.6px,#00ffb5 35.3px,#00ff63 40.8px,#70ff42 42.4px,#a5ff02 44.1px,#ff0 49.1px,#ffd700 53.1px,#ffa600 57.2px,#ff6e00 60.9px,#ff3200 63.6px,#ff0500 66.6px,#ff1900 71px,#ff5000 73.7px,#ff8700 77.4px,#ff8700 80.1px,#ff4700 82.8px,#f00 84px,#f00 84.5px,#d70000 86.8px,#b60000 89.2px,#cd0000 91.9px,#d70000 94.6px,#c30000 98.3px,#a50000 100.6px,#960000 103px)"></i><i style="left:289px;width:2px;background:linear-gradient(#0054ff 0px,#006eff 7.5px,#0096ff 15.4px,#00c8ff 20px,#00bfff 25.5px,#0ff 31.7px,#00ffb5 35.4px,#00ff63 40.8px,#70ff42 42.4px,#a5ff02 44.2px,#ff0 49.1px,#ffd700 53.1px,#ffa500 57.2px,#ff6e00 60.8px,#ff3200 63.6px,#ff0500 66.5px,#ff1900 71px,#ff5000 73.7px,#ff8700 77.4px,#ff8700 80.1px,#ff4600 82.8px,#f00 84px,#f00 84.5px,#d70000 86.8px,#b60000 89.2px,#cd0000 91.9px,#d70000 94.6px,#c30000 98.3px,#a50000 100.6px,#960000 103px)"></i><i style="left:291px;width:2px;background:linear-gradient(#0054ff 0px,#006eff 7.5px,#0096ff 15.4px,#00c8ff 19.9px,#00beff 25.4px,#0ff 31.7px,#00ffb4 35.4px,#00ff63 40.9px,#70ff42 42.5px,#a5ff02 44.2px,#ff0 49.1px,#ffd700 53.1px,#ffa500 57.2px,#ff6e00 60.8px,#ff3200 63.5px,#ff0500 66.5px,#ff1900 71px,#ff5000 73.7px,#ff8700 77.4px,#ff8700 80.1px,#ff4600 82.8px,#f00 83.9px,#f00 84.5px,#d70000 86.8px,#b60000 89.2px,#cd0000 91.9px,#d70000 94.6px,#c30000 98.3px,#a50000 100.6px,#960000 103px)"></i><i style="left:293px;width:2px;background:linear-gradient(#0054ff 0px,#006eff 7.5px,#0096ff 15.4px,#00c8ff 19.9px,#00bfff 25.3px,#0ff 31.6px,#00ffb4 35.4px,#00ff63 40.9px,#70ff42 42.5px,#a5ff02 44.2px,#ff0 49.1px,#ffd700 53.1px,#ffa500 57.2px,#ff6e00 60.8px,#ff3200 63.5px,#ff0500 66.5px,#ff1900 71px,#ff5000 73.7px,#ff8700 77.4px,#ff8700 80.1px,#ff4600 82.8px,#f00 84px,#f00 84.5px,#d70000 86.8px,#b60000 89.2px,#cd0000 91.9px,#d70000 94.6px,#c30000 98.3px,#a50000 100.6px,#960000 103px)"></i><i style="left:295px;width:2px;background:linear-gradient(#0054ff 0px,#006eff 7.5px,#0096ff 15.5px,#00c7ff 19.9px,#00c1ff 25.3px,#0ff 31.4px,#00ffb4 35.4px,#00ff63 40.9px,#70ff42 42.5px,#a5ff02 44.2px,#ff0 49.2px,#ffd700 53.1px,#ffa500 57.1px,#ff6e00 60.7px,#ff3200 63.5px,#ff0500 66.4px,#ff1900 71px,#ff5100 73.7px,#ff8700 77.3px,#f80 80.1px,#ff4700 82.8px,#f00 84px,#f00 84.5px,#d70000 86.8px,#b60000 89.2px,#cd0000 91.9px,#d70000 94.6px,#c30000 98.3px,#a50000 100.6px,#960000 103px)"></i><i style="left:297px;width:2px;background:linear-gradient(#0054ff 0px,#006eff 7.5px,#0096ff 15.5px,#00c7ff 19.9px,#00c3ff 25.2px,#0ff 31.2px,#00ffb4 35.4px,#00ff63 40.9px,#70ff42 42.5px,#a5ff02 44.2px,#ff0 49.2px,#ffd700 53.1px,#ffa500 57.1px,#ff6e00 60.7px,#ff3200 63.5px,#ff0500 66.4px,#ff1900 71px,#ff5100 73.7px,#ff8700 77.3px,#f80 80.1px,#ff4700 82.8px,#f00 84px,#f00 84.5px,#d70000 86.8px,#b60000 89.2px,#cd0000 91.9px,#d70000 94.6px,#c30000 98.3px,#a50000 100.6px,#960000 103px)"></i><i style="left:299px;width:2px;background:linear-gradient(#0054ff 0px,#006eff 7.5px,#0096ff 15.5px,#00c7ff 19.9px,#00c4ff 25.1px,#0ff 31px,#00ffb4 35.4px,#00ff63 40.9px,#70ff42 42.5px,#a5ff02 44.2px,#ff0 49.2px,#ffd700 53.1px,#ffa500 57.1px,#ff6e00 60.7px,#ff3200 63.5px,#ff0500 66.3px,#ff1900 71px,#ff5200 73.7px,#f80 77.3px,#f80 80.1px,#ff4700 82.8px,#f00 84px,#f00 84.5px,#d70000 86.8px,#b60000 89.2px,#cd0000 91.9px,#d70000 94.6px,#c30000 98.3px,#a50000 100.6px,#960000 103px)"></i><i style="left:301px;width:2px;background:linear-gradient(#0054ff 0px,#006eff 7.5px,#0096ff 15.6px,#00c6ff 19.9px,#00c6ff 25px,#0ff 30.8px,#00ff63 40.9px,#70ff42 42.5px,#a5ff03 44.2px,#ff0 49.3px,#ffd700 53.1px,#ffa500 57px,#ff6e00 60.6px,#ff3200 63.4px,#ff0500 66.3px,#ff1900 71px,#ff5200 73.7px,#f80 77.2px,#ff8900 80.1px,#ff4800 82.8px,#f00 84px,#f00 84.5px,#d70000 86.8px,#b60000 89.2px,#cd0000 91.9px,#d70000 94.6px,#c30000 98.3px,#a50000 100.6px,#960000 103px)"></i><i style="left:303px;width:2px;background:linear-gradient(#0054ff 0px,#006eff 7.5px,#0096ff 15.6px,#00c6ff 19.9px,#00c8ff 24.9px,#0ff 30.6px,#00ff63 40.9px,#70ff42 42.5px,#a5ff03 44.2px,#ff0 49.3px,#ffd700 53.1px,#ffa500 57px,#ff6e00 60.6px,#ff3200 63.4px,#ff0500 66.3px,#ff1900 71px,#ff5200 73.7px,#f80 77.2px,#ff8900 80.1px,#ff4800 82.8px,#f00 84px,#f00 84.5px,#d70000 86.8px,#b60000 89.2px,#cd0000 91.9px,#d70000 94.6px,#c30000 98.3px,#a50000 100.6px,#960000 103px)"></i><i style="left:305px;width:2px;background:linear-gradient(#0054ff 0px,#006eff 7.5px,#0096ff 15.7px,#00c5ff 19.9px,#00c9ff 24.9px,#0ff 30.4px,#00ff63 40.9px,#70ff42 42.5px,#a5ff03 44.2px,#ff0 49.4px,#ffd700 53.1px,#ffa500 56.9px,#ff6e00 60.5px,#ff3200 63.4px,#ff0500 66.2px,#ff1900 71px,#ff5300 73.7px,#f80 77.1px,#ff8a00 80.1px,#ff4900 82.8px,#f00 84px,#f00 84.5px,#d70000 86.8px,#b60000 89.2px,#cd0000 91.9px,#d70000 94.6px,#c30000 98.3px,#a50000 100.6px,#960000 103px)"></i><i style="left:307px;width:2px;background:linear-gradient(#0054ff 0px,#006eff 7.5px,#0096ff 15.7px,#00c5ff 19.9px,#00cbff 24.8px,#0ff 30.3px,#00ff63 40.9px,#70ff42 42.5px,#a5ff03 44.2px,#ff0 49.4px,#ffd700 53.1px,#ffa500 56.9px,#ff6e00 60.5px,#ff3200 63.4px,#ff0500 66.2px,#ff1900 71px,#ff5300 73.7px,#f80 77.1px,#ff8a00 80.1px,#ff4900 82.8px,#f00 84px,#f00 84.5px,#d70000 86.8px,#b60000 89.2px,#cd0000 91.9px,#d70000 94.6px,#c30000 98.3px,#a50000 100.6px,#960000 103px)"></i><i style="left:309px;width:2px;background:linear-gradient(#0054ff 0px,#006eff 7.5px,#0096ff 15.7px,#00c5ff 19.9px,#00cdff 24.7px,#0ff 30.1px,#00ff63 40.9px,#70ff42 42.5px,#a4ff03 44.2px,#ff0 49.4px,#ffd700 53.1px,#ffa500 56.9px,#ff6e00 60.5px,#ff3200 63.4px,#ff0500 66.1px,#ff1900 71px,#ff5400 73.7px,#ff8900 77.1px,#ff8b00 80.1px,#ff4a00 82.8px,#f00 84px,#f00 84.5px,#d70000 86.8px,#b60000 89.2px,#cd0000 91.9px,#d70000 94.6px,#c30000 98.3px,#a50000 100.6px,#960000 103px)"></i><i style="left:311px;width:2px;background:linear-gradient(#0054ff 0px,#006eff 7.5px,#0096ff 15.8px,#00c4ff 19.9px,#00ceff 24.6px,#0ff 29.9px,#00ff63 40.9px,#70ff42 42.5px,#a4ff03 44.2px,#ff0 49.5px,#ffd700 53.1px,#ffa500 56.8px,#ff6e00 60.4px,#ff3200 63.4px,#ff0500 66.1px,#ff1900 71px,#ff5400 73.7px,#ff8900 77px,#ff8b00 80.1px,#ff4a00 82.8px,#f00 84px,#f00 84.5px,#d70000 86.8px,#b60000 89.2px,#cd0000 91.9px,#d70000 94.6px,#c30000 98.3px,#a50000 100.6px,#960000 103px)"></i><i style="left:313px;width:2px;background:linear-gradient(#0054ff 0px,#006eff 7.5px,#0096ff 15.8px,#00c4ff 19.9px,#00d0ff 24.6px,#0ff 29.7px,#00ffb0 35.7px,#00ff63 40.9px,#70ff42 42.5px,#a4ff03 44.2px,#ff0 49.5px,#ffd700 53.1px,#ffa500 56.8px,#ff6e00 60.4px,#ff3200 63.4px,#ff0500 66.1px,#ff1900 71px,#ff5400 73.7px,#ff8900 77px,#ff8b00 80.1px,#ff4a00 82.8px,#f00 84px,#f00 84.5px,#d70000 86.8px,#b60000 89.2px,#cd0000 91.9px,#d70000 94.6px,#c30000 98.3px,#a50000 100.6px,#960000 103px)"></i><i style="left:315px;width:2px;background:linear-gradient(#0054ff 0px,#006eff 7.5px,#0096ff 15.8px,#00c3ff 19.9px,#00d2ff 24.5px,#0ff 29.5px,#00ffb0 35.7px,#00ff63 40.9px,#70ff42 42.5px,#a4ff03 44.2px,#ff0 49.5px,#ffd700 53.1px,#ffa500 56.8px,#ff6e00 60.4px,#ff3200 63.4px,#ff0500 66px,#ff1900 71px,#f50 73.7px,#ff8900 77px,#ff8c00 80.1px,#ff4b00 82.8px,#f00 84px,#f00 84.5px,#d70000 86.8px,#b60000 89.2px,#cd0000 91.9px,#d70000 94.6px,#c30000 98.3px,#a50000 100.6px,#960000 103px)"></i><i style="left:317px;width:2px;background:linear-gradient(#0054ff 0px,#006eff 7.5px,#0096ff 15.9px,#00c3ff 19.9px,#00d3ff 24.4px,#0ff 29.3px,#00ffb4 35.4px,#00ff63 40.9px,#70ff42 42.5px,#a4ff03 44.2px,#ff0 49.6px,#ffd700 53.1px,#ffa500 56.7px,#ff6e00 60.3px,#ff3200 63.3px,#ff0500 66px,#ff1900 71px,#f50 73.7px,#ff8a00 76.9px,#ff8c00 80.1px,#ff4b00 82.8px,#f00 84px,#f00 84.5px,#d70000 86.8px,#b60000 89.2px,#cd0000 91.9px,#d70000 94.6px,#c30000 98.3px,#a50000 100.6px,#960000 103px)"></i><i style="left:319px;width:2px;background:linear-gradient(#0054ff 0px,#006eff 7.5px,#0096ff 15.9px,#00c2ff 19.9px,#00d5ff 24.3px,#0ff 29.1px,#00ffb4 35.4px,#00ff63 40.9px,#70ff42 42.5px,#a4ff04 44.2px,#ff0 49.6px,#ffd700 53.1px,#ff6e00 60.3px,#ff0500 65.9px,#ff1900 71px,#ff5600 73.7px,#ff8a00 76.9px,#ff8d00 80.1px,#ff4c00 82.8px,#f00 84px,#f00 84.5px,#d70000 86.8px,#b60000 89.2px,#cd0000 91.9px,#d70000 94.6px,#c30000 98.3px,#a50000 100.6px,#960000 103px)"></i><i style="left:321px;width:2px;background:linear-gradient(#0054ff 0px,#006eff 7.5px,#0096ff 15.9px,#00c2ff 19.9px,#00d7ff 24.2px,#0ff 29px,#00ffb4 35.4px,#00ff63 40.9px,#70ff42 42.5px,#a4ff04 44.2px,#ff0 49.6px,#ffd700 53.1px,#ff6e00 60.3px,#ff0500 65.9px,#ff1900 71px,#ff5600 73.7px,#ff8a00 76.9px,#ff8d00 80.1px,#ff4c00 82.8px,#f00 84px,#f00 84.5px,#d70000 86.8px,#b60000 89.2px,#cd0000 91.9px,#d70000 94.6px,#c30000 98.3px,#a50000 100.6px,#960000 103px)"></i><i style="left:323px;width:2px;background:linear-gradient(#0054ff 0px,#006eff 7.5px,#0096ff 16px,#00c2ff 19.9px,#00d8ff 24.2px,#0ff 28.8px,#00ffb4 35.4px,#00ff63 40.9px,#70ff42 42.5px,#a4ff04 44.2px,#ff0 49.7px,#ffd700 53.1px,#ff6e00 60.2px,#ff0500 65.8px,#ff1900 71px,#ff5600 73.7px,#ff8a00 76.8px,#ff8e00 80.1px,#ff4d00 82.8px,#f00 84px,#f00 84.5px,#d70000 86.8px,#b60000 89.2px,#cd0000 91.9px,#d70000 94.6px,#c30000 98.3px,#a50000 100.6px,#960000 103px)"></i><i style="left:325px;width:2px;background:linear-gradient(#0054ff 0px,#006eff 7.5px,#0096ff 16px,#00c1ff 19.9px,#00daff 24.1px,#0ff 28.6px,#00ffb4 35.4px,#00ff63 40.9px,#70ff42 42.5px,#a4ff04 44.2px,#ff0 49.7px,#ffd700 53.1px,#ff6e00 60.2px,#ff0500 65.8px,#ff1900 71px,#ff5700 73.7px,#ff8a00 76.8px,#ff8e00 80.1px,#ff4d00 82.8px,#f00 84px,#f00 84.5px,#d70000 86.8px,#b60000 89.2px,#cd0000 91.9px,#d70000 94.6px,#c30000 98.3px,#a50000 100.6px,#960000 103px)"></i><i style="left:327px;width:2px;background:linear-gradient(#0054ff 0px,#006eff 7.5px,#0096ff 16.1px,#00c1ff 19.9px,#0ff 28.4px,#00ffb4 35.4px,#00ff63 40.9px,#70ff42 42.5px,#a4ff04 44.2px,#ff0 49.8px,#ffd700 53.1px,#ff6e00 60.1px,#ff0500 65.8px,#ff1900 71px,#ff5700 73.7px,#ff8b00 76.7px,#ff8e00 80.1px,#ff4d00 82.8px,#f00 84px,#f00 84.5px,#d70000 86.8px,#b60000 89.2px,#cd0000 91.9px,#d70000 94.6px,#c30000 98.3px,#a50000 100.6px,#960000 103px)"></i><i style="left:329px;width:2px;background:linear-gradient(#0054ff 0px,#006eff 7.5px,#0096ff 16.1px,#00c0ff 19.9px,#0ff 28.2px,#00ffb4 35.4px,#00ff63 40.9px,#70ff42 42.5px,#a4ff04 44.2px,#ff0 49.8px,#ffd700 53.1px,#ff6e00 60.1px,#ff0500 65.7px,#ff1900 71px,#ff5800 73.7px,#ff8b00 76.7px,#ff8f00 80.1px,#ff4e00 82.8px,#f00 84px,#f00 84.5px,#d70000 86.8px,#b60000 89.2px,#cd0000 91.9px,#d70000 94.6px,#c30000 98.3px,#a50000 100.6px,#960000 103px)"></i><i style="left:331px;width:2px;background:linear-gradient(#0054ff 0px,#006eff 7.5px,#0096ff 16.1px,#00c0ff 19.9px,#0ff 28px,#00ffb4 35.4px,#00ff63 40.9px,#70ff42 42.5px,#a4ff04 44.2px,#ff0 49.8px,#ffd700 53.1px,#ff6e00 60.1px,#ff0500 65.7px,#ff1900 71px,#ff5800 73.7px,#ff8b00 76.7px,#ff8f00 80.1px,#ff4e00 82.8px,#f00 84px,#f00 84.5px,#d70000 86.8px,#b60000 89.2px,#cd0000 91.9px,#d70000 94.6px,#c30000 98.3px,#a50000 100.6px,#960000 103px)"></i><i style="left:333px;width:2px;background:linear-gradient(#0054ff 0px,#006eff 7.5px,#0096ff 16.2px,#00c0ff 19.9px,#0ff 27.8px,#00ffb4 35.4px,#00ff63 40.9px,#70ff42 42.5px,#a4ff04 44.2px,#ff0 49.9px,#ffd700 53.1px,#ff6e00 60px,#ff0500 65.6px,#ff1900 71px,#ff5800 73.7px,#ff8b00 76.6px,#ff9000 80.1px,#ff4f00 82.8px,#f00 84px,#f00 84.5px,#d70000 86.8px,#b60000 89.2px,#cd0000 91.9px,#d70000 94.6px,#c30000 98.3px,#a50000 100.6px,#960000 103px)"></i><i style="left:335px;width:2px;background:linear-gradient(#0054ff 0px,#006eff 7.5px,#0096ff 16.2px,#00e2ff 23.7px,#0ff 27.6px,#00ffb4 35.4px,#00ff63 40.9px,#70ff42 42.5px,#a4ff04 44.2px,#ff0 49.9px,#ffd700 53.1px,#ff6e00 60px,#ff0500 65.6px,#ff1900 71px,#ff5900 73.7px,#ff8b00 76.6px,#ff9000 80.1px,#ff4f00 82.8px,#f00 84px,#f00 84.5px,#d70000 86.8px,#b60000 89.2px,#cd0000 91.9px,#d70000 94.6px,#c30000 98.3px,#a50000 100.6px,#960000 103px)"></i><i style="left:337px;width:2px;background:linear-gradient(#0054ff 0px,#006eff 7.5px,#0096ff 16.2px,#00e4ff 23.6px,#0ff 27.5px,#00ffb4 35.4px,#00ff63 40.9px,#70ff42 42.5px,#a4ff05 44.2px,#ff0 49.9px,#ffd700 53.1px,#ff6e00 60px,#ff0500 65.6px,#ff1900 71px,#ff5900 73.7px,#ff8c00 76.6px,#ff9100 80.1px,#ff5000 82.8px,#f00 84px,#f00 84.5px,#d70000 86.8px,#b60000 89.2px,#cd0000 91.9px,#d70000 94.6px,#c30000 98.3px,#a50000 100.6px,#960000 103px)"></i><i style="left:339px;width:2px;background:linear-gradient(#0054ff 0px,#006eff 7.5px,#0096ff 16.3px,#00e6ff 23.5px,#0ff 27.3px,#00ffb4 35.4px,#00ff63 40.9px,#70ff42 42.5px,#a4ff05 44.2px,#ff0 50px,#ffd700 53.1px,#ff6e00 59.9px,#ff0500 65.5px,#ff1900 71px,#ff5a00 73.7px,#ff8c00 76.5px,#ff9100 80.1px,#ff5000 82.8px,#f00 84px,#f00 84.5px,#d70000 86.8px,#b60000 89.2px,#cd0000 91.9px,#d70000 94.6px,#c30000 98.3px,#a50000 100.6px,#960000 103px)"></i><i style="left:341px;width:2px;background:linear-gradient(#0054ff 0px,#008cff 16.4px,#0af 20.1px,#00e6ff 22.8px,#0ff 25.1px,#00ffba 30px,#00ff73 39.4px,#00ff63 42.7px,#70ff42 43.7px,#a5ff02 44.9px,#faff00 46.4px,#ff0 46.7px,#ffb400 51.7px,#ff9600 55.4px,#ff6e00 59px,#ff3c00 61.7px,#ff1400 64.5px,#ff0c00 69px,#ff8c00 73.7px,#ffab00 77.4px,#ff9700 80.1px,#ff4600 82.5px,#f00 83.6px,#f00 84.2px,#d20000 86.5px,#b60000 89.2px,#cb0000 91.9px,#d70000 94.6px,#c30000 98.3px,#a50000 100.6px,#960000 103px)"></i><i style="left:343px;width:2px;background:linear-gradient(#0054ff 0px,#008bff 16.5px,#0af 20.3px,#00e6ff 23.1px,#0ff 25.4px,#00ffbc 30.2px,#00ff74 39.4px,#00ff63 42.6px,#70ff42 43.6px,#a5ff02 44.8px,#faff00 46.5px,#ff0 46.7px,#ffb400 51.8px,#ff9500 55.5px,#ff6d00 59.1px,#ff3b00 61.8px,#ff1400 64.6px,#ff0c00 69.1px,#ff8d00 73.7px,#ffac00 77.3px,#ff9800 80px,#ff4700 82.5px,#f00 83.6px,#f00 84.2px,#d20000 86.5px,#b60000 89.2px,#cb0000 91.9px,#d70000 94.6px,#c30000 98.3px,#a50000 100.6px,#960000 103px)"></i><i style="left:345px;width:2px;background:linear-gradient(#0054ff 0px,#008bff 16.7px,#0af 20.6px,#00e6ff 23.4px,#0ff 25.8px,#00ffbd 30.3px,#00ff74 39.4px,#00ff63 42.5px,#70ff42 43.5px,#a5ff02 44.6px,#fbff00 46.6px,#ff0 46.8px,#ffb300 51.9px,#ff9500 55.6px,#ff6d00 59.2px,#ff3b00 61.9px,#ff1400 64.7px,#ff0c00 69.1px,#ff8e00 73.7px,#ffad00 77.3px,#f90 80px,#ff4800 82.4px,#f00 83.6px,#f00 84.2px,#d20000 86.5px,#b60000 89.2px,#cb0000 91.9px,#d70000 94.6px,#c30000 98.3px,#a50000 100.6px,#960000 103px)"></i><i style="left:347px;width:2px;background:linear-gradient(#0054ff 0px,#008bff 16.9px,#0af 20.9px,#00e6ff 23.7px,#0ff 26.1px,#00ffbf 30.5px,#00ff74 39.4px,#00ff63 42.4px,#70ff42 43.4px,#a9ff00 44.6px,#ff0 46.9px,#ffb300 52px,#ff9400 55.7px,#ff6d00 59.3px,#ff3a00 62px,#ff1400 64.8px,#ff0c00 69.1px,#ff8f00 73.7px,#ffae00 77.3px,#ff9a00 80px,#ff4900 82.4px,#f00 83.6px,#f00 84.2px,#d20000 86.5px,#b60000 89.2px,#cb0000 91.9px,#d70000 94.6px,#c30000 98.3px,#a50000 100.6px,#960000 103px)"></i><i style="left:349px;width:2px;background:linear-gradient(#0054ff 0px,#008aff 17px,#0af 21.1px,#00e6ff 24px,#0ff 26.4px,#00ffc1 30.7px,#00ff74 39.4px,#00ff63 42.3px,#70ff42 43.3px,#a9ff00 44.5px,#ff0 46.9px,#ffb300 52px,#ff9400 55.7px,#ff6c00 59.3px,#ff3a00 62px,#ff1400 64.8px,#ff0d00 69.2px,#ff9000 73.7px,#ffb000 77.2px,#ff9c00 79.9px,#ff4a00 82.4px,#f00 83.6px,#f00 84.2px,#d20000 86.5px,#b60000 89.2px,#cb0000 91.9px,#d70000 94.6px,#c30000 98.3px,#a50000 100.6px,#960000 103px)"></i><i style="left:351px;width:2px;background:linear-gradient(#0054ff 0px,#008aff 17.2px,#0af 21.4px,#00e6ff 24.3px,#0ff 26.7px,#00ffc2 30.9px,#00ff74 39.4px,#00ff63 42.2px,#70ff42 43.2px,#a8ff00 44.4px,#ff0 47px,#ffb300 52.1px,#ff9400 55.8px,#ff6c00 59.4px,#ff3a00 62.1px,#ff1400 64.9px,#ff0d00 69.2px,#ff9100 73.7px,#ffb100 77.2px,#ff9d00 79.9px,#ff4a00 82.4px,#f00 83.6px,#f00 84.2px,#d20000 86.5px,#b60000 89.2px,#cb0000 91.9px,#d70000 94.6px,#c30000 98.3px,#a50000 100.6px,#960000 103px)"></i><i style="left:353px;width:2px;background:linear-gradient(#0054ff 0px,#008aff 17.3px,#0af 21.6px,#00e6ff 24.6px,#0ff 27px,#00ffc4 31px,#00ff75 39.4px,#00ff63 42.1px,#70ff42 43.1px,#a8ff00 44.2px,#ff0 47.1px,#ffb300 52.2px,#ff9300 55.9px,#ff6b00 59.5px,#ff3900 62.2px,#ff1400 65px,#ff0d00 69.2px,#ff9100 73.7px,#ffb200 77.2px,#ff9e00 79.9px,#ff4b00 82.3px,#f00 83.6px,#f00 84.2px,#d20000 86.5px,#b60000 89.2px,#cb0000 91.9px,#d70000 94.6px,#c30000 98.3px,#a50000 100.6px,#960000 103px)"></i><i style="left:355px;width:2px;background:linear-gradient(#0054ff 0px,#008aff 17.5px,#0af 21.9px,#00e6ff 24.9px,#0ff 27.3px,#00ffc6 31.2px,#00ff75 39.4px,#00ff63 42px,#70ff42 43px,#a5ff02 44px,#ff0 47.1px,#ffb200 52.3px,#ff9300 56px,#ff6b00 59.6px,#ff3900 62.3px,#ff1400 65.1px,#ff0d00 69.3px,#ff9200 73.7px,#ffb300 77.1px,#ff9f00 79.8px,#ff4c00 82.3px,#f00 83.6px,#f00 84.2px,#d20000 86.5px,#b60000 89.2px,#cb0000 91.9px,#d70000 94.6px,#c30000 98.3px,#a50000 100.6px,#960000 103px)"></i><i style="left:357px;width:2px;background:linear-gradient(#0054ff 0px,#0089ff 17.6px,#0af 22.2px,#00e6ff 25.2px,#0ff 27.6px,#00ffc7 31.4px,#00ff75 39.4px,#00ff63 41.9px,#70ff42 42.9px,#a5ff02 43.9px,#ff0 47.2px,#ffb200 52.3px,#ff9200 56px,#ff6b00 59.6px,#ff3800 62.3px,#ff1400 65.1px,#ff0d00 69.3px,#ff9300 73.7px,#ffb500 77.1px,#ffa100 79.8px,#ff4d00 82.3px,#f00 83.6px,#f00 84.2px,#d20000 86.5px,#b60000 89.2px,#cb0000 91.9px,#d70000 94.6px,#c30000 98.3px,#a50000 100.6px,#960000 103px)"></i><i style="left:359px;width:2px;background:linear-gradient(#0054ff 0px,#0089ff 17.8px,#0af 22.4px,#00e6ff 25.5px,#0ff 28px,#00ffc9 31.5px,#00ff75 39.4px,#00ff63 41.8px,#70ff42 42.8px,#a5ff02 43.8px,#ff0 47.3px,#ffb200 52.4px,#ff9200 56.1px,#ff6a00 59.7px,#ff3800 62.4px,#ff1400 65.2px,#ff0d00 69.4px,#ff9400 73.7px,#ffb600 77px,#ffa200 79.7px,#ff4e00 82.3px,#f00 83.6px,#f00 84.1px,#d20000 86.5px,#b60000 89.2px,#cb0000 91.9px,#d70000 94.6px,#c30000 98.3px,#a50000 100.6px,#960000 103px)"></i><i style="left:361px;width:2px;background:linear-gradient(#0054ff 0px,#0089ff 17.9px,#0af 22.7px,#00e6ff 25.8px,#0ff 28.3px,#00ffcb 31.7px,#00ff75 39.4px,#00ff63 41.8px,#70ff42 42.7px,#a7ff00 43.7px,#ff0 47.3px,#ffb200 52.5px,#ff9100 56.2px,#ff6a00 59.8px,#ff3700 62.5px,#ff1400 65.3px,#ff0d00 69.4px,#ff9500 73.7px,#ffb700 77px,#ffa300 79.7px,#ff4f00 82.2px,#f00 83.5px,#f00 84.1px,#d20000 86.5px,#b60000 89.2px,#cb0000 91.9px,#d70000 94.6px,#c30000 98.3px,#a50000 100.6px,#960000 103px)"></i><i style="left:363px;width:2px;background:linear-gradient(#0054ff 0px,#006eff 7.5px,#08f 18.1px,#0af 23px,#00e6ff 26.1px,#0ff 28.6px,#0fc 31.9px,#00ff76 39.4px,#00ff63 41.7px,#70ff42 42.6px,#a7ff00 43.6px,#ff0 47.4px,#ffb200 52.6px,#ff9100 56.3px,#ff6900 59.9px,#ff3700 62.6px,#ff1400 65.4px,#ff0d00 69.4px,#ff9600 73.7px,#ffb800 77px,#ffa400 79.7px,#ff4f00 82.2px,#f00 83.5px,#f00 84.1px,#d20000 86.5px,#b60000 89.2px,#cb0000 91.9px,#d70000 94.6px,#c30000 98.3px,#a50000 100.6px,#960000 103px)"></i><i style="left:365px;width:2px;background:linear-gradient(#0054ff 0px,#006eff 7.5px,#08f 18.2px,#0af 23.2px,#00e6ff 26.4px,#0ff 28.9px,#00ffce 32px,#00ff76 39.4px,#00ff63 41.6px,#70ff42 42.4px,#a6ff00 43.4px,#ff0 47.5px,#ffb100 52.6px,#ff9100 56.3px,#ff6900 59.9px,#ff3700 62.6px,#ff1400 65.4px,#ff0e00 69.5px,#ff9600 73.7px,#ffba00 76.9px,#ffa600 79.6px,#ff5000 82.2px,#f00 83.5px,#f00 84.1px,#d20000 86.5px,#b60000 89.2px,#cb0000 91.9px,#d70000 94.6px,#c30000 98.3px,#a50000 100.6px,#960000 103px)"></i><i style="left:367px;width:2px;background:linear-gradient(#0054ff 0px,#006eff 7.5px,#08f 18.4px,#0af 23.5px,#00e6ff 26.7px,#0ff 29.2px,#00ffd0 32.2px,#00ff76 39.4px,#00ff63 41.5px,#70ff42 42.3px,#a6ff00 43.3px,#ff0 47.5px,#ffb100 52.7px,#ff6800 60px,#ff3600 62.7px,#ff1400 65.5px,#ff0e00 69.5px,#ff9700 73.7px,#fb0 76.9px,#ffa700 79.6px,#ff5100 82.2px,#f00 83.5px,#f00 84.1px,#d20000 86.5px,#b60000 89.2px,#cb0000 91.9px,#d70000 94.6px,#c30000 98.3px,#a50000 100.6px,#960000 103px)"></i><i style="left:369px;width:2px;background:linear-gradient(#0054ff 0px,#006eff 7.5px,#0087ff 18.5px,#0af 23.8px,#00e6ff 27px,#0ff 29.6px,#00ffd1 32.4px,#00ff76 39.4px,#00ff63 41.4px,#70ff42 42.2px,#a6ff00 43.2px,#ff0 47.6px,#ffb100 52.8px,#ff6800 60.1px,#ff3600 62.8px,#ff1400 65.6px,#ff0e00 69.5px,#ff9800 73.7px,#ffbc00 76.9px,#ffa800 79.6px,#ff5200 82.1px,#f00 83.5px,#f00 84.1px,#d20000 86.5px,#b60000 89.2px,#cb0000 91.9px,#d70000 94.6px,#c30000 98.3px,#a50000 100.6px,#960000 103px)"></i><i style="left:371px;width:2px;background:linear-gradient(#0054ff 0px,#006eff 7.5px,#0087ff 18.7px,#0af 24px,#00e6ff 27.3px,#0ff 29.9px,#00ffb0 35.1px,#00ff76 39.4px,#00ff63 41.3px,#70ff42 42.1px,#a6ff00 43px,#ff0 47.6px,#ffb100 52.9px,#ff6800 60.2px,#ff3500 62.9px,#ff1400 65.7px,#ff0e00 69.6px,#f90 73.7px,#ffbe00 76.8px,#ffa900 79.5px,#ff5300 82.1px,#f00 83.5px,#f00 84.1px,#d20000 86.5px,#b60000 89.2px,#cb0000 91.9px,#d70000 94.6px,#c30000 98.3px,#a50000 100.6px,#960000 103px)"></i><i style="left:373px;width:2px;background:linear-gradient(#0054ff 0px,#006eff 7.5px,#0087ff 18.8px,#0af 24.3px,#00e6ff 27.6px,#0ff 30.2px,#00ffb2 35.1px,#00ff63 41.2px,#70ff42 42px,#a5ff01 42.9px,#ff0 47.7px,#ffb100 52.9px,#ff6700 60.2px,#ff3500 62.9px,#ff1400 65.7px,#ff0e00 69.6px,#ff9a00 73.7px,#ffbf00 76.8px,#ffab00 79.5px,#ff5400 82.1px,#f00 83.5px,#f00 84.1px,#d20000 86.5px,#b60000 89.2px,#cb0000 91.9px,#d70000 94.6px,#c30000 98.3px,#a50000 100.6px,#960000 103px)"></i><i style="left:375px;width:2px;background:linear-gradient(#0054ff 0px,#006eff 7.5px,#0086ff 19px,#0af 24.6px,#00e6ff 27.9px,#0ff 30.5px,#00ffb3 35.2px,#00ff63 41.1px,#70ff42 41.9px,#a5ff02 42.8px,#ff0 47.8px,#ffb000 53px,#ff6700 60.3px,#ff3500 63px,#ff1400 65.8px,#ff0e00 69.7px,#ff9b00 73.7px,#ffc000 76.7px,#ffac00 79.4px,#ff5400 82.1px,#f00 83.5px,#f00 84.1px,#d20000 86.5px,#b60000 89.2px,#cb0000 91.9px,#d70000 94.6px,#c30000 98.3px,#a50000 100.6px,#960000 103px)"></i><i style="left:377px;width:2px;background:linear-gradient(#0054ff 0px,#006eff 7.5px,#0086ff 19.1px,#0af 24.8px,#00e6ff 28.2px,#0ff 30.8px,#00ffb5 35.2px,#00ff63 41px,#70ff42 41.8px,#a5ff03 42.6px,#ff0 47.8px,#ffb000 53.1px,#f60 60.4px,#ff3400 63.1px,#ff1400 65.9px,#ff0e00 69.7px,#ff9b00 73.7px,#ffc100 76.7px,#ffad00 79.4px,#f50 82px,#f00 83.5px,#f00 84.1px,#d20000 86.5px,#b60000 89.2px,#cb0000 91.9px,#d70000 94.6px,#c30000 98.3px,#a50000 100.6px,#960000 103px)"></i><i style="left:379px;width:2px;background:linear-gradient(#0054ff 0px,#006eff 7.5px,#0086ff 19.3px,#0af 25.1px,#00e6ff 28.5px,#0ff 31.1px,#00ffb7 35.2px,#00ff63 40.9px,#70ff42 41.7px,#a4ff03 42.5px,#ff0 47.9px,#ffb000 53.2px,#f60 60.5px,#ff3400 63.2px,#ff1400 66px,#ff0e00 69.7px,#ff9c00 73.7px,#ffc300 76.7px,#ffae00 79.4px,#ff5600 82px,#f00 83.5px,#f00 84.1px,#d20000 86.5px,#b60000 89.2px,#cb0000 91.9px,#d70000 94.6px,#c30000 98.3px,#a50000 100.6px,#960000 103px)"></i><i style="left:381px;width:2px;background:linear-gradient(#0054ff 0px,#006eff 7.5px,#0085ff 19.5px,#0af 25.4px,#00e6ff 28.8px,#0ff 31.5px,#00ffb8 35.3px,#00ff63 40.8px,#70ff42 41.6px,#a4ff04 42.4px,#ff0 48px,#ffb000 53.2px,#f60 60.5px,#f30 63.2px,#ff1400 66px,#ff0f00 69.8px,#ff9d00 73.7px,#ffc400 76.6px,#ffb000 79.3px,#ff5700 82px,#f00 83.5px,#f00 84px,#d20000 86.5px,#b60000 89.2px,#cb0000 91.9px,#d70000 94.6px,#c30000 98.3px,#a50000 100.6px,#960000 103px)"></i><i style="left:383px;width:2px;background:linear-gradient(#0054ff 0px,#006eff 7.5px,#0085ff 19.6px,#0af 25.6px,#00e6ff 29.1px,#0ff 31.8px,#00ffba 35.3px,#00ff63 40.7px,#70ff42 41.5px,#a4ff05 42.2px,#ff0 48px,#ffaf00 53.3px,#ff6500 60.6px,#f30 63.3px,#ff1400 66.1px,#ff0f00 69.8px,#ff9e00 73.7px,#ffc500 76.6px,#ffb100 79.3px,#ff5800 82px,#f00 83.4px,#f00 84px,#d20000 86.5px,#b60000 89.2px,#cb0000 91.9px,#d70000 94.6px,#c30000 98.3px,#a50000 100.6px,#960000 103px)"></i><i style="left:385px;width:2px;background:linear-gradient(#0054ff 0px,#006eff 7.5px,#0085ff 19.8px,#0af 25.9px,#00e6ff 29.4px,#0ff 32.1px,#0fb 35.3px,#00ff63 40.7px,#70ff42 41.4px,#a3ff06 42.1px,#ff0 48.1px,#ffaf00 53.4px,#ff6500 60.7px,#ff3200 63.4px,#ff1400 66.2px,#ff0f00 69.8px,#ff9f00 73.7px,#ffc600 76.6px,#ffb200 79.3px,#ff5900 81.9px,#f00 83.4px,#f00 84px,#d20000 86.5px,#b60000 89.2px,#cb0000 91.9px,#d70000 94.6px,#c30000 98.3px,#a50000 100.6px,#960000 103px)"></i><i style="left:387px;width:2px;background:linear-gradient(#0054ff 0px,#006eff 7.5px,#0084ff 19.9px,#0af 26.2px,#00e6ff 29.7px,#0ff 32.4px,#00ffbd 35.4px,#00ff63 40.6px,#70ff42 41.3px,#a3ff07 42px,#a5ff02 42.1px,#ff0 48.2px,#ffaf00 53.5px,#ff6400 60.8px,#ff3200 63.5px,#ff1400 66.3px,#ff0f00 69.9px,#ffa000 73.7px,#ffc800 76.5px,#ffb300 79.2px,#ff5900 81.9px,#f00 83.4px,#f00 84px,#d20000 86.5px,#b60000 89.2px,#cb0000 91.9px,#d70000 94.6px,#c30000 98.3px,#a50000 100.6px,#960000 103px)"></i><i style="left:389px;width:2px;background:linear-gradient(#0054ff 0px,#006eff 7.5px,#0084ff 20px,#0af 26.4px,#00e6ff 30px,#0ff 32.7px,#00ffbe 35.5px,#00ff63 40.6px,#70ff42 41.3px,#a3ff07 42px,#a5ff02 42.1px,#ff0 48.2px,#ffaf00 53.5px,#ff6400 60.8px,#ff3200 63.5px,#ff1400 66.3px,#ff0f00 69.9px,#ff5000 71.5px,#ffa000 73.7px,#ffc800 76.5px,#ffb400 79.2px,#ff5a00 81.9px,#f00 83.4px,#f00 84px,#d20000 86.5px,#b60000 89.2px,#cb0000 91.9px,#d70000 94.6px,#c30000 98.3px,#a50000 100.6px,#960000 103px)"></i><i style="left:391px;width:2px;background:linear-gradient(#0054ff 0px,#006eff 7.5px,#0084ff 20px,#0af 26.5px,#00e7ff 30.1px,#0ff 32.8px,#00ffbe 35.6px,#00ff63 40.7px,#70ff42 41.4px,#a3ff06 42.1px,#a5ff02 42.2px,#ff0 48.3px,#ffaf00 53.6px,#ff6300 60.9px,#ff3200 63.6px,#ff1400 66.4px,#ff0f00 70px,#ffa100 73.7px,#ffc900 76.5px,#ffb500 79.2px,#ff5b00 81.9px,#f00 83.4px,#f00 84px,#d20000 86.5px,#b60000 89.2px,#cb0000 91.9px,#d70000 94.6px,#c30000 98.3px,#a50000 100.6px,#960000 103px)"></i><i style="left:393px;width:2px;background:linear-gradient(#0054ff 0px,#006eff 7.5px,#0084ff 20px,#0af 26.6px,#00e7ff 30.3px,#0ff 33px,#00ffbe 35.8px,#00ff63 40.8px,#70ff42 41.5px,#a4ff05 42.3px,#ff0 48.3px,#ffaf00 53.6px,#ff6300 60.9px,#ff3100 63.6px,#ff1400 66.4px,#ff0f00 70px,#ffa100 73.7px,#ffca00 76.6px,#ffb600 79.2px,#ff5c00 81.8px,#f00 83.4px,#f00 84px,#d20000 86.5px,#b60000 89.2px,#ca0000 91.9px,#d60000 94.6px,#c30000 98.3px,#a50000 100.6px,#960000 103px)"></i><i style="left:395px;width:2px;background:linear-gradient(#0054ff 0px,#006eff 7.5px,#0084ff 20px,#00abff 26.7px,#00e7ff 30.4px,#0ff 33.1px,#00ffbe 35.9px,#00ff63 40.9px,#70ff42 41.6px,#a4ff04 42.4px,#ff0 48.3px,#ffaf00 53.6px,#ff6300 60.9px,#ff3100 63.6px,#ff1400 66.4px,#ff1000 70px,#ffa100 73.7px,#ffca00 76.6px,#ffb700 79.2px,#ff5d00 81.8px,#f00 83.4px,#f00 84px,#d20000 86.4px,#b60000 89.2px,#d60000 94.6px,#c30000 98.3px,#a50000 100.6px,#960000 103px)"></i><i style="left:397px;width:2px;background:linear-gradient(#0054ff 0px,#006eff 7.5px,#0084ff 20px,#00abff 26.8px,#00e7ff 30.6px,#0ff 33.3px,#00ffbe 36.1px,#00ff63 41px,#70ff42 41.8px,#a4ff03 42.6px,#ff0 48.4px,#ffaf00 53.7px,#ff6200 61px,#ff3100 63.7px,#ff1400 66.5px,#ff1000 70.1px,#ffa200 73.6px,#ffcb00 76.6px,#ffb800 79.2px,#ff5e00 81.8px,#f00 83.4px,#f00 83.9px,#d20000 86.4px,#b70000 89.2px,#d60000 94.6px,#c30000 98.3px,#a50000 100.6px,#960000 103px)"></i><i style="left:399px;width:2px;background:linear-gradient(#0054ff 0px,#006eff 7.5px,#0084ff 20px,#00abff 26.9px,#00e7ff 30.7px,#0ff 33.4px,#00ffbe 36.2px,#00ff63 41.1px,#70ff42 41.9px,#a5ff03 42.7px,#ff0 48.4px,#ffaf00 53.7px,#ff6200 61px,#ff3100 63.7px,#ff1400 66.5px,#ff1000 70.1px,#ffa200 73.6px,#fc0 76.6px,#ffb900 79.2px,#ff5e00 81.8px,#f00 83.3px,#f00 83.9px,#d20000 86.4px,#b70000 89.2px,#d60000 94.6px,#c30000 98.3px,#a50000 100.6px,#960000 103px)"></i><i style="left:401px;width:2px;background:linear-gradient(#0054ff 0px,#006eff 7.5px,#0084ff 20px,#00abff 27px,#00e8ff 30.9px,#0ff 33.6px,#00ffbe 36.4px,#00ff63 41.3px,#70ff42 42px,#a5ff02 42.9px,#ff0 48.4px,#ffaf00 53.8px,#ff6100 61px,#ff3100 63.8px,#ff1400 66.5px,#ff1000 70.1px,#ffa300 73.6px,#fc0 76.6px,#ffb900 79.2px,#ff5f00 81.8px,#f00 83.3px,#f00 83.9px,#d20000 86.4px,#b70000 89.2px,#d60000 94.6px,#c30000 98.3px,#a50000 100.6px,#960000 103px)"></i><i style="left:403px;width:2px;background:linear-gradient(#0054ff 0px,#006eff 7.5px,#0084ff 20px,#00abff 27.1px,#00e8ff 31px,#0ff 33.7px,#00ffbe 36.5px,#00ff63 41.4px,#70ff42 42.2px,#a5ff01 43px,#ff0 48.5px,#ffaf00 53.8px,#ff6100 61.1px,#ff3000 63.8px,#ff1400 66.6px,#ff1000 70.2px,#ffa300 73.6px,#ffcd00 76.7px,#ffba00 79.2px,#ff6000 81.7px,#f00 83.3px,#f00 83.9px,#d20000 86.4px,#b70000 89.2px,#d50000 94.6px,#c30000 98.3px,#a50000 100.6px,#960000 103px)"></i><i style="left:405px;width:2px;background:linear-gradient(#0054ff 0px,#006eff 7.5px,#0083ff 20px,#00acff 27.2px,#00e8ff 31.2px,#0ff 33.9px,#00ffbe 36.7px,#00ff63 41.5px,#70ff42 42.3px,#a6ff00 43.2px,#ff0 48.5px,#ffaf00 53.8px,#ff6000 61.1px,#ff3000 63.8px,#ff1400 66.6px,#f10 70.2px,#ffa300 73.6px,#ffcd00 76.7px,#fb0 79.2px,#ff6100 81.7px,#f00 83.3px,#f00 83.9px,#d20000 86.4px,#b70000 89.2px,#d50000 94.6px,#c30000 98.3px,#a50000 100.6px,#960000 103px)"></i><i style="left:407px;width:2px;background:linear-gradient(#0054ff 0px,#006eff 7.5px,#0083ff 20px,#00acff 27.4px,#00e8ff 31.3px,#0ff 34px,#00ffbe 36.8px,#00ff80 39.8px,#00ff63 41.6px,#70ff42 42.4px,#a6ff00 43.3px,#ff0 48.6px,#ffaf00 53.9px,#ff6000 61.2px,#ff3000 63.9px,#ff1400 66.7px,#f10 70.3px,#ffa400 73.6px,#ffce00 76.7px,#ffbc00 79.2px,#ff6200 81.7px,#f00 83.3px,#f00 83.9px,#d20000 86.3px,#b70000 89.2px,#d50000 94.6px,#c30000 98.3px,#a50000 100.6px,#960000 103px)"></i><i style="left:409px;width:2px;background:linear-gradient(#0054ff 0px,#006eff 7.5px,#0083ff 20px,#00acff 27.5px,#00e8ff 31.5px,#0ff 34.2px,#00ff81 39.9px,#00ff63 41.7px,#70ff42 42.5px,#a6ff00 43.5px,#ff0 48.6px,#ffaf00 53.9px,#ff6000 61.2px,#ff3000 63.9px,#ff1400 66.7px,#f10 70.3px,#ffa400 73.6px,#ffcf00 76.7px,#ffbd00 79.2px,#ff6300 81.7px,#f00 83.3px,#f00 83.8px,#d20000 86.3px,#b70000 89.2px,#d50000 94.6px,#c30000 98.3px,#a50000 100.6px,#960000 103px)"></i><i style="left:411px;width:2px;background:linear-gradient(#0054ff 0px,#006eff 7.5px,#0083ff 20px,#00acff 27.6px,#00e9ff 31.6px,#0ff 34.4px,#00ff82 39.9px,#00ff63 41.8px,#70ff42 42.7px,#a6ff00 43.6px,#ff0 48.6px,#ffaf00 54px,#ff5f00 61.2px,#ff3000 64px,#ff1400 66.7px,#f10 70.3px,#ffa500 73.6px,#ffcf00 76.7px,#ffbe00 79.2px,#ff6400 81.7px,#f00 83.3px,#f00 83.8px,#d20000 86.3px,#b70000 89.2px,#d50000 94.6px,#c30000 98.3px,#a50000 100.6px,#960000 103px)"></i><i style="left:413px;width:2px;background:linear-gradient(#0054ff 0px,#006eff 7.5px,#0083ff 20px,#00acff 27.7px,#00e9ff 31.8px,#0ff 34.5px,#00ff82 40px,#00ff63 42px,#70ff42 42.8px,#a7ff00 43.8px,#ff0 48.7px,#ffaf00 54px,#ff5f00 61.3px,#ff2f00 64px,#ff1400 66.8px,#f10 70.4px,#ffa500 73.5px,#ffd000 76.8px,#ffbe00 79.2px,#ff6400 81.6px,#f00 83.2px,#f00 83.8px,#d20000 86.3px,#b80000 89.2px,#d40000 94.6px,#c30000 98.3px,#a50000 100.6px,#960000 103px)"></i><i style="left:415px;width:2px;background:linear-gradient(#0054ff 0px,#006eff 7.5px,#0083ff 20px,#00adff 27.8px,#00e9ff 31.9px,#0ff 34.7px,#00ff83 40px,#00ff63 42.1px,#70ff42 42.9px,#a7ff00 43.9px,#ff0 48.7px,#ffaf00 54.1px,#ff5e00 61.3px,#ff2f00 64.1px,#ff1400 66.8px,#ff1200 70.4px,#ffa600 73.5px,#ffd000 76.8px,#ffbf00 79.2px,#ff6500 81.6px,#f00 83.2px,#f00 83.8px,#d20000 86.3px,#b80000 89.2px,#d40000 94.6px,#c30000 98.3px,#a50000 100.6px,#960000 103px)"></i><i style="left:417px;width:2px;background:linear-gradient(#0054ff 0px,#006eff 7.5px,#0083ff 20px,#00adff 27.9px,#00e9ff 32.1px,#0ff 34.8px,#00ff84 40.1px,#00ff63 42.2px,#70ff42 43.1px,#a7ff00 44.1px,#ff0 48.7px,#ffaf00 54.1px,#ff5e00 61.3px,#ff2f00 64.1px,#ff1400 66.8px,#ff1200 70.4px,#ffa600 73.5px,#ffd100 76.8px,#ffc000 79.2px,#f60 81.6px,#f00 83.2px,#f00 83.8px,#d20000 86.3px,#b80000 89.2px,#d40000 94.6px,#c30000 98.3px,#a50000 100.6px,#960000 103px)"></i><i style="left:419px;width:2px;background:linear-gradient(#0054ff 0px,#006eff 7.5px,#0083ff 20px,#00adff 28px,#00e9ff 32.2px,#0ff 35px,#00ff85 40.1px,#00ff63 42.3px,#70ff42 43.2px,#a8ff00 44.2px,#ff0 48.8px,#ffaf00 54.1px,#ff5e00 61.4px,#ff2f00 64.1px,#ff1400 66.9px,#ff1200 70.5px,#ffa600 73.5px,#ffd200 76.8px,#ffc100 79.2px,#ff6700 81.6px,#f00 83.2px,#f00 83.8px,#d20000 86.2px,#b80000 89.2px,#d40000 94.6px,#c30000 98.3px,#a50000 100.6px,#960000 103px)"></i><i style="left:421px;width:2px;background:linear-gradient(#0054ff 0px,#006eff 7.5px,#0083ff 20px,#00adff 28.1px,#00eaff 32.4px,#0ff 35.1px,#00ff86 40.1px,#00ff6b 42.2px,#00ff63 42.4px,#70ff42 43.3px,#a8ff00 44.4px,#ff0 48.8px,#ffaf00 54.2px,#ff5d00 61.4px,#ff2f00 64.2px,#ff1400 66.9px,#ff1200 70.5px,#ffa700 73.5px,#ffd200 76.8px,#ffc200 79.2px,#ff6800 81.6px,#f00 83.2px,#f00 83.8px,#d20000 86.2px,#b80000 89.2px,#d40000 94.6px,#c30000 98.3px,#a50000 100.6px,#960000 103px)"></i><i style="left:423px;width:2px;background:linear-gradient(#0054ff 0px,#006eff 7.5px,#0083ff 20px,#00adff 28.3px,#00eaff 32.5px,#0ff 35.3px,#00ffe1 36.7px,#00ff87 40.2px,#00ff6b 42.3px,#00ff63 42.5px,#70ff42 43.4px,#a8ff00 44.5px,#ff0 48.9px,#ffaf00 54.2px,#ff5d00 61.5px,#ff2f00 64.2px,#ff1400 67px,#ff1200 70.6px,#ffa700 73.5px,#ffd300 76.9px,#ffc300 79.2px,#ff6900 81.5px,#f00 83.2px,#f00 83.7px,#d20000 86.2px,#b80000 89.2px,#d30000 94.6px,#c30000 98.3px,#a50000 100.6px,#960000 103px)"></i><i style="left:425px;width:2px;background:linear-gradient(#0054ff 0px,#006eff 7.5px,#0083ff 20px,#00aeff 28.4px,#00eaff 32.7px,#0ff 35.4px,#00ffe1 36.8px,#00ff87 40.2px,#00ff6b 42.4px,#00ff63 42.7px,#70ff42 43.6px,#a8ff00 44.7px,#ff0 48.9px,#ffaf00 54.3px,#ff5c00 61.5px,#ff2e00 64.3px,#ff1400 67px,#ff1300 70.6px,#ffa800 73.5px,#ffd300 76.9px,#ffc300 79.2px,#ff6900 81.5px,#f00 83.2px,#f00 83.7px,#d20000 86.2px,#b80000 89.2px,#d30000 94.6px,#c30000 98.3px,#a50000 100.6px,#960000 103px)"></i><i style="left:427px;width:2px;background:linear-gradient(#0054ff 0px,#006eff 7.5px,#0082ff 20px,#00aeff 28.5px,#00eaff 32.8px,#0ff 35.6px,#00ffe1 37px,#0f8 40.3px,#00ff6c 42.5px,#00ff63 42.8px,#70ff42 43.7px,#a9ff00 44.8px,#ff0 48.9px,#ffaf00 54.3px,#ff5c00 61.5px,#ff2e00 64.3px,#ff1400 67px,#ff1300 70.6px,#ffa800 73.5px,#ffd400 76.9px,#ffc400 79.2px,#ff6a00 81.5px,#f00 83.1px,#f00 83.7px,#d20000 86.2px,#b80000 89.2px,#d30000 94.6px,#c30000 98.3px,#a50000 100.6px,#960000 103px)"></i><i style="left:429px;width:2px;background:linear-gradient(#0054ff 0px,#006eff 7.5px,#0082ff 20px,#00aeff 28.6px,#00eaff 32.9px,#0ff 35.7px,#00ffe1 37.1px,#00ff89 40.3px,#00ff6c 42.6px,#00ff63 42.9px,#70ff42 43.8px,#a9ff00 44.9px,#ff0 49px,#ffaf00 54.3px,#ff5b00 61.6px,#ff2e00 64.3px,#ff1400 67.1px,#ff1300 70.7px,#ffa800 73.4px,#ffd500 76.9px,#ffc500 79.2px,#ff6b00 81.5px,#f00 83.1px,#f00 83.7px,#d20000 86.2px,#b90000 89.2px,#d30000 94.6px,#c30000 98.3px,#a50000 100.6px,#960000 103px)"></i><i style="left:431px;width:2px;background:linear-gradient(#0054ff 0px,#006eff 7.5px,#0082ff 20px,#00aeff 28.7px,#00ebff 33.1px,#0ff 35.9px,#00ffe1 37.3px,#00ff8a 40.4px,#00ff6d 42.7px,#00ff63 43px,#70ff42 44px,#a9ff00 45.1px,#ff0 49px,#ffaf00 54.4px,#ff5b00 61.6px,#ff2e00 64.4px,#ff1400 67.1px,#ff1300 70.7px,#ffa900 73.4px,#ffd500 76.9px,#ffc600 79.2px,#ff6c00 81.5px,#f00 83.1px,#f00 83.7px,#d20000 86.1px,#b90000 89.2px,#d30000 94.6px,#c30000 98.3px,#a50000 100.6px,#960000 103px)"></i><i style="left:433px;width:2px;background:linear-gradient(#0054ff 0px,#006eff 7.5px,#0082ff 20px,#00afff 28.8px,#00ebff 33.2px,#0ff 36px,#00ffdb 37.7px,#00ff8b 40.4px,#00ff6d 42.8px,#00ff63 43.1px,#70ff42 44.1px,#a5ff02 45.1px,#af0 45.2px,#ff0 49px,#ffaf00 54.4px,#ff5b00 61.6px,#ff2e00 64.4px,#ff1400 67.1px,#ff1300 70.7px,#ffa900 73.4px,#ffd600 77px,#ffc700 79.2px,#ff6d00 81.4px,#f00 83.1px,#f00 83.7px,#d20000 86.1px,#b90000 89.2px,#d20000 94.6px,#c30000 98.3px,#a50000 100.6px,#960000 103px)"></i><i style="left:435px;width:2px;background:linear-gradient(#0054ff 0px,#006eff 7.5px,#0082ff 20px,#00afff 28.9px,#00ebff 33.4px,#0ff 36.2px,#00ffbe 38.9px,#00ff8b 40.5px,#00ff6d 42.9px,#00ff63 43.3px,#70ff42 44.2px,#a5ff02 45.3px,#ff0 49.1px,#ffaf00 54.5px,#ff5a00 61.7px,#ff2d00 64.5px,#ff1400 67.2px,#ff1400 70.8px,#fa0 73.4px,#ffd600 77px,#ffc800 79.2px,#ff6e00 81.4px,#f00 83.1px,#f00 83.6px,#d20000 86.1px,#b90000 89.2px,#d20000 94.6px,#c30000 98.3px,#a50000 100.6px,#960000 103px)"></i><i style="left:437px;width:2px;background:linear-gradient(#0054ff 0px,#006eff 7.5px,#0087ff 18px,#00b4ff 25.4px,#0ff 32.6px,#00ff63 41.6px,#70ff42 42.8px,#a5ff02 44.1px,#f5ff00 45.5px,#ff0 45.9px,#ffaf00 50.8px,#ff5a00 59.9px,#ff2d00 63.5px,#ff1400 66.3px,#ff3200 69px,#ffc300 73.5px,#ffe100 76.5px,#ffd700 78.8px,#ff9600 80.6px,#ff3c00 82.5px,#f00 83.5px,#f00 84.1px,#f50000 84.3px,#c30000 86.1px,#ac0000 88.3px,#b20000 91px,#d70000 93.4px,#d70000 96.5px,#a00000 101px,#960000 103px)"></i><i style="left:439px;width:2px;background:linear-gradient(#0054ff 0px,#006eff 7.5px,#0087ff 18px,#00b4ff 25.4px,#0ff 32.6px,#00ff63 41.6px,#70ff42 42.8px,#a5ff02 44.1px,#f5ff00 45.6px,#ff0 46px,#ffb000 50.9px,#ff1400 66.3px,#ff3200 69px,#ffc300 73.5px,#ffe100 76.5px,#ffd700 78.8px,#ff9600 80.6px,#ff3c00 82.5px,#f00 83.5px,#f00 84.1px,#f50000 84.3px,#c30000 86.1px,#ac0000 88.3px,#b20000 91px,#d70000 93.4px,#d70000 96.5px,#a00000 101px,#960000 103px)"></i><i style="left:441px;width:2px;background:linear-gradient(#0054ff 0px,#006eff 7.5px,#0087ff 18px,#00b4ff 25.4px,#0ff 32.6px,#00ff63 41.6px,#70ff42 42.8px,#a5ff02 44.1px,#f5ff00 45.7px,#ff0 46.1px,#ffb000 51.1px,#ff1400 66.3px,#ff3200 69px,#ffc300 73.5px,#ffe100 76.5px,#ffd700 78.8px,#ff9600 80.6px,#ff3c00 82.5px,#f00 83.5px,#f00 84.1px,#f50000 84.3px,#c30000 86.1px,#ac0000 88.3px,#b20000 91px,#d70000 93.4px,#d70000 96.5px,#a00000 101px,#960000 103px)"></i><i style="left:443px;width:2px;background:linear-gradient(#0054ff 0px,#006eff 7.5px,#0087ff 18px,#00b4ff 25.4px,#0ff 32.6px,#00ff63 41.6px,#70ff42 42.8px,#a5ff02 44.1px,#f5ff00 45.7px,#ff0 46.2px,#ffb100 51.2px,#ff1500 66.3px,#ff3200 69px,#ffc300 73.5px,#ffe100 76.5px,#ffd700 78.8px,#ff9600 80.6px,#ff3c00 82.5px,#f00 83.5px,#f00 84.1px,#f50000 84.3px,#c30000 86.1px,#ac0000 88.3px,#b20000 91px,#d70000 93.4px,#d70000 96.5px,#a00000 101px,#960000 103px)"></i><i style="left:445px;width:2px;background:linear-gradient(#0054ff 0px,#006eff 7.5px,#0087ff 18px,#00b4ff 25.4px,#0ff 32.6px,#00ff63 41.6px,#70ff42 42.8px,#a5ff02 44.2px,#f5ff00 45.8px,#ff0 46.3px,#ffb200 51.3px,#ff1500 66.3px,#ff3200 69px,#ffc300 73.5px,#ffe100 76.5px,#ffd700 78.8px,#ff9600 80.6px,#ff3c00 82.5px,#f00 83.5px,#f00 84.1px,#f50000 84.3px,#c30000 86.1px,#ac0000 88.3px,#b20000 91px,#d70000 93.4px,#d70000 96.5px,#a00000 101px,#960000 103px)"></i><i style="left:447px;width:2px;background:linear-gradient(#0054ff 0px,#006eff 7.5px,#0087ff 18px,#00b4ff 25.4px,#0ff 32.6px,#00ff63 41.6px,#70ff42 42.9px,#a5ff02 44.2px,#f5ff00 45.9px,#ff0 46.4px,#ffb200 51.4px,#ff2e00 63.5px,#ff1500 66.3px,#ff3200 69px,#ffc300 73.5px,#ffe100 76.5px,#ffd700 78.8px,#ff9600 80.6px,#ff3c00 82.5px,#f00 83.5px,#f00 84.1px,#f50000 84.3px,#c30000 86.1px,#ac0000 88.3px,#b20000 91px,#d70000 93.4px,#d70000 96.5px,#a00000 101px,#960000 103px)"></i><i style="left:449px;width:2px;background:linear-gradient(#0054ff 0px,#006eff 7.5px,#0087ff 18px,#00b4ff 25.4px,#0ff 32.6px,#00ff63 41.6px,#70ff42 42.9px,#a5ff02 44.2px,#f5ff00 46px,#ff0 46.5px,#ffb300 51.5px,#ff8200 55.6px,#ff1500 66.3px,#ff3200 69px,#ffc300 73.5px,#ffe100 76.5px,#ffd700 78.8px,#ff9600 80.6px,#ff3c00 82.5px,#f00 83.5px,#f00 84.1px,#f50000 84.3px,#c30000 86.1px,#ac0000 88.3px,#b20000 91px,#d70000 93.4px,#d70000 96.5px,#a00000 101px,#960000 103px)"></i><i style="left:451px;width:2px;background:linear-gradient(#0054ff 0px,#006eff 7.5px,#0087ff 18px,#00b4ff 25.4px,#0ff 32.6px,#00ff63 41.6px,#70ff42 42.9px,#a5ff02 44.2px,#f5ff00 46px,#ff0 46.5px,#ffb400 51.6px,#ff8200 55.7px,#ff1500 66.3px,#ff3200 69px,#ffc300 73.5px,#ffe100 76.5px,#ffd700 78.8px,#ff9600 80.6px,#ff3c00 82.5px,#f00 83.5px,#f00 84.1px,#f50000 84.3px,#c30000 86.1px,#ac0000 88.3px,#b20000 91px,#d70000 93.4px,#d70000 96.5px,#a00000 101px,#960000 103px)"></i><i style="left:453px;width:2px;background:linear-gradient(#0054ff 0px,#006eff 7.5px,#0087ff 18px,#00b4ff 25.4px,#0ff 32.6px,#00ff63 41.6px,#70ff42 42.9px,#a5ff02 44.2px,#f5ff00 46.1px,#ff0 46.6px,#ffb400 51.7px,#ff8200 55.7px,#ff5300 59.9px,#ff1600 66.3px,#ff3200 69px,#ffc300 73.5px,#ffe100 76.5px,#ffd700 78.8px,#ff9600 80.6px,#ff3c00 82.5px,#f00 83.5px,#f00 84.1px,#f50000 84.3px,#c30000 86.1px,#ac0000 88.3px,#b20000 91px,#d70000 93.4px,#d70000 96.5px,#a00000 101px,#960000 103px)"></i><i style="left:455px;width:2px;background:linear-gradient(#0054ff 0px,#006eff 7.5px,#0087ff 18px,#00b4ff 25.4px,#0ff 32.6px,#00ff63 41.6px,#70ff42 42.9px,#a5ff02 44.3px,#f5ff00 46.2px,#ff0 46.7px,#ff8200 55.7px,#ff5200 59.9px,#ff1600 66.3px,#ff3200 69px,#ffc300 73.5px,#ffe100 76.5px,#ffd700 78.8px,#ff9600 80.6px,#ff3c00 82.5px,#f00 83.5px,#f00 84.1px,#f50000 84.3px,#c30000 86.1px,#ac0000 88.3px,#b20000 91px,#d70000 93.4px,#d70000 96.5px,#a00000 101px,#960000 103px)"></i><i style="left:457px;width:2px;background:linear-gradient(#0054ff 0px,#006eff 7.5px,#0087ff 18px,#00b4ff 25.4px,#0ff 32.6px,#00ff63 41.7px,#70ff42 42.9px,#a5ff02 44.3px,#f5ff00 46.3px,#ff0 46.8px,#ff8200 55.8px,#ff5100 59.9px,#ff1600 66.3px,#ff3200 69px,#ffc300 73.5px,#ffe100 76.5px,#ffd700 78.8px,#ff9600 80.6px,#ff3c00 82.5px,#f00 83.5px,#f00 84.1px,#f50000 84.3px,#c30000 86.1px,#ac0000 88.3px,#b20000 91px,#d70000 93.4px,#d70000 96.5px,#a00000 101px,#960000 103px)"></i><i style="left:459px;width:2px;background:linear-gradient(#0054ff 0px,#006eff 7.5px,#0087ff 18px,#00b4ff 25.4px,#0ff 32.6px,#00ff63 41.7px,#70ff42 42.9px,#a5ff02 44.3px,#f5ff00 46.3px,#ff0 46.9px,#ff8200 55.8px,#ff5100 59.9px,#ff1600 66.3px,#ff3200 69px,#ffc300 73.5px,#ffe100 76.5px,#ffd700 78.8px,#ff9600 80.6px,#ff3c00 82.5px,#f00 83.5px,#f00 84.1px,#f50000 84.3px,#c30000 86.1px,#ac0000 88.3px,#b20000 91px,#d70000 93.4px,#d70000 96.5px,#a00000 101px,#960000 103px)"></i><i style="left:461px;width:2px;background:linear-gradient(#0054ff 0px,#006eff 7.5px,#0087ff 18px,#00b4ff 25.4px,#0ff 32.6px,#00ff63 41.7px,#70ff42 42.9px,#a5ff02 44.3px,#f5ff00 46.4px,#ff0 47px,#ffe600 49.1px,#ff8200 55.9px,#ff5000 59.9px,#ff1700 66.3px,#ff3200 69px,#ffc300 73.5px,#ffe100 76.5px,#ffd700 78.8px,#ff9600 80.6px,#ff3c00 82.5px,#f00 83.5px,#f00 84.1px,#f50000 84.3px,#c30000 86.1px,#ac0000 88.3px,#b20000 91px,#d70000 93.4px,#d70000 96.5px,#a00000 101px,#960000 103px)"></i><i style="left:463px;width:2px;background:linear-gradient(#0054ff 0px,#006eff 7.5px,#0087ff 18px,#00b4ff 25.4px,#0ff 32.6px,#00ff63 41.7px,#70ff42 43px,#a5ff02 44.4px,#f5ff00 46.5px,#ff0 47.1px,#ffe700 49.2px,#ff8200 55.9px,#ff4f00 59.9px,#ff1700 66.3px,#ff3200 69px,#ffc300 73.5px,#ffe100 76.5px,#ffd700 78.8px,#ff9600 80.6px,#ff3c00 82.5px,#f00 83.5px,#f00 84.1px,#f50000 84.3px,#c30000 86.1px,#ac0000 88.3px,#b20000 91px,#d70000 93.4px,#d70000 96.5px,#a00000 101px,#960000 103px)"></i><i style="left:465px;width:2px;background:linear-gradient(#0054ff 0px,#006eff 7.5px,#0087ff 18px,#00b4ff 25.4px,#0ff 32.6px,#00ff63 41.7px,#70ff42 43px,#a5ff02 44.4px,#f5ff00 46.6px,#ff0 47.2px,#ffe700 49.3px,#ff8200 55.9px,#ff4e00 59.9px,#ff1700 66.3px,#ff3200 69px,#ffc300 73.5px,#ffe100 76.5px,#ffd700 78.8px,#ff9600 80.6px,#ff3c00 82.5px,#f00 83.5px,#f00 84.1px,#f50000 84.3px,#c30000 86.1px,#ac0000 88.3px,#b20000 91px,#d70000 93.4px,#d70000 96.5px,#a00000 101px,#960000 103px)"></i><i style="left:467px;width:2px;background:linear-gradient(#0054ff 0px,#006eff 7.5px,#0087ff 18px,#00b4ff 25.4px,#0ff 32.6px,#00ff63 41.7px,#70ff42 43px,#a5ff02 44.4px,#f5ff00 46.6px,#ff0 47.3px,#ffe700 49.4px,#ff8200 56px,#ff4d00 59.9px,#ff1700 66.3px,#ff3200 69px,#ffc300 73.5px,#ffe100 76.5px,#ffd700 78.8px,#ff9600 80.6px,#ff3c00 82.5px,#f00 83.5px,#f00 84.1px,#f50000 84.3px,#c30000 86.1px,#ac0000 88.3px,#b20000 91px,#d70000 93.4px,#d70000 96.5px,#a00000 101px,#960000 103px)"></i><i style="left:469px;width:2px;background:linear-gradient(#0054ff 0px,#006eff 7.5px,#0087ff 18px,#00b4ff 25.4px,#0ff 32.6px,#00ff63 41.7px,#70ff42 43px,#a5ff02 44.4px,#f5ff00 46.7px,#ff0 47.4px,#ffe800 49.5px,#ff8200 56px,#ff4c00 59.9px,#ff1700 66.3px,#ff3200 69px,#ffc300 73.5px,#ffe100 76.5px,#ffd700 78.8px,#ff9600 80.6px,#ff3c00 82.5px,#f00 83.5px,#f00 84.1px,#f50000 84.3px,#c30000 86.1px,#ac0000 88.3px,#b20000 91px,#d70000 93.4px,#d70000 96.5px,#a00000 101px,#960000 103px)"></i><i style="left:471px;width:2px;background:linear-gradient(#0054ff 0px,#006eff 7.5px,#0087ff 18px,#00b4ff 25.4px,#0ff 32.6px,#00ff63 41.7px,#70ff42 43px,#a5ff02 44.5px,#f5ff00 46.8px,#ff0 47.5px,#ffe800 49.6px,#ff8200 56px,#ff4c00 59.9px,#ff1800 66.3px,#ff3200 69px,#ffc300 73.5px,#ffe100 76.5px,#ffd700 78.8px,#ff9600 80.6px,#ff3c00 82.5px,#f00 83.5px,#f00 84.1px,#f50000 84.3px,#c30000 86.1px,#ac0000 88.3px,#b20000 91px,#d70000 93.4px,#d70000 96.5px,#a00000 101px,#960000 103px)"></i><i style="left:473px;width:2px;background:linear-gradient(#0054ff 0px,#006eff 7.5px,#0087ff 18px,#00b4ff 25.4px,#0ff 32.6px,#00ff63 41.7px,#70ff42 43px,#a5ff02 44.5px,#f5ff00 46.9px,#ff0 47.5px,#ffe900 49.7px,#ff4b00 59.9px,#ff1800 66.3px,#ff3200 69px,#ffc300 73.5px,#ffe100 76.5px,#ffd700 78.8px,#ff9600 80.6px,#ff3c00 82.5px,#f00 83.5px,#f00 84.1px,#f50000 84.3px,#c30000 86.1px,#ac0000 88.3px,#b20000 91px,#d70000 93.4px,#d70000 96.5px,#a00000 101px,#960000 103px)"></i><i style="left:475px;width:2px;background:linear-gradient(#0054ff 0px,#006eff 7.5px,#0087ff 18px,#00b4ff 25.4px,#0ff 32.6px,#00ff63 41.7px,#70ff42 43px,#a5ff02 44.5px,#f5ff00 46.9px,#ff0 47.6px,#ffe900 49.9px,#ff4a00 59.9px,#ff1800 66.3px,#ff3200 69px,#ffc300 73.5px,#ffe100 76.5px,#ffd700 78.8px,#ff9600 80.6px,#ff3c00 82.5px,#f00 83.5px,#f00 84.1px,#f50000 84.3px,#c30000 86.1px,#ac0000 88.3px,#b20000 91px,#d70000 93.4px,#d70000 96.5px,#a00000 101px,#960000 103px)"></i><i style="left:477px;width:2px;background:linear-gradient(#0054ff 0px,#006eff 7.5px,#0087ff 18px,#00b4ff 25.4px,#0ff 32.6px,#00ff63 41.7px,#70ff42 43.1px,#a5ff02 44.5px,#f5ff00 47px,#ff0 47.7px,#ffea00 50px,#ffbc00 53.1px,#ff8200 56.2px,#ff4900 59.9px,#ff1800 66.3px,#ff3200 69px,#ffc300 73.5px,#ffe100 76.5px,#ffd700 78.8px,#ff9600 80.6px,#ff3c00 82.5px,#f00 83.5px,#f00 84.1px,#f50000 84.3px,#c30000 86.1px,#ac0000 88.3px,#b20000 91px,#d70000 93.4px,#d70000 96.5px,#a00000 101px,#960000 103px)"></i><i style="left:479px;width:2px;background:linear-gradient(#0054ff 0px,#006eff 7.5px,#0087ff 18px,#00b4ff 25.4px,#0ff 32.6px,#00ff63 41.7px,#70ff42 43.1px,#a5ff02 44.6px,#f5ff00 47.1px,#ff0 47.8px,#ffea00 50.1px,#ffbc00 53.2px,#ff8200 56.2px,#ff4800 59.9px,#ff1800 66.3px,#ff3200 69px,#ffc300 73.5px,#ffe100 76.5px,#ffd700 78.8px,#ff9600 80.6px,#ff3c00 82.5px,#f00 83.5px,#f00 84.1px,#f50000 84.3px,#c30000 86.1px,#ac0000 88.3px,#b20000 91px,#d70000 93.4px,#d70000 96.5px,#a00000 101px,#960000 103px)"></i><i style="left:481px;width:2px;background:linear-gradient(#0054ff 0px,#006eff 7.5px,#0087ff 18px,#00b4ff 25.4px,#0ff 32.6px,#00ff63 41.7px,#70ff42 43.1px,#a5ff02 44.6px,#f5ff00 47.2px,#ff0 47.9px,#ffea00 50.2px,#ffbd00 53.3px,#ff8200 56.2px,#ff4700 59.9px,#ff3100 63.5px,#ff1900 66.3px,#ff3200 69px,#ffc300 73.5px,#ffe100 76.5px,#ffd700 78.8px,#ff9600 80.6px,#ff3c00 82.5px,#f00 83.5px,#f00 84.1px,#f50000 84.3px,#c30000 86.1px,#ac0000 88.3px,#b20000 91px,#d70000 93.4px,#d70000 96.5px,#a00000 101px,#960000 103px)"></i><i style="left:483px;width:2px;background:linear-gradient(#0054ff 0px,#006eff 7.5px,#0087ff 18px,#00b4ff 25.4px,#0ff 32.6px,#00ff63 41.7px,#70ff42 43.1px,#a5ff02 44.6px,#f5ff00 47.2px,#ff0 48px,#ffeb00 50.3px,#ffbe00 53.4px,#ff8200 56.3px,#ff4600 59.9px,#ff3200 63.5px,#ff1900 66.3px,#ff3200 69px,#ffc300 73.5px,#ffe100 76.5px,#ffd700 78.8px,#ff9600 80.6px,#ff3c00 82.5px,#f00 83.5px,#f00 84.1px,#f50000 84.3px,#c30000 86.1px,#ac0000 88.3px,#b20000 91px,#d70000 93.4px,#d70000 96.5px,#a00000 101px,#960000 103px)"></i><i style="left:485px;width:2px;background:linear-gradient(#0054ff 0px,#006eff 7.5px,#0087ff 18px,#00b4ff 25.4px,#0ff 32.6px,#00ff63 41.7px,#70ff42 43.1px,#a5ff02 44.6px,#f5ff00 47.3px,#ff0 48.1px,#ffeb00 50.4px,#ffbe00 53.5px,#ff8200 56.3px,#ff4600 59.9px,#ff3200 63.5px,#ff1900 66.3px,#ff3200 69px,#ffc300 73.5px,#ffe100 76.5px,#ffd700 78.8px,#ff9600 80.6px,#ff3c00 82.5px,#f00 83.5px,#f00 84.1px,#f50000 84.3px,#c30000 86.1px,#ac0000 88.3px,#b20000 91px,#d70000 93.4px,#d70000 96.5px,#a00000 101px,#960000 103px)"></i><i style="left:487px;width:2px;background:linear-gradient(#0054ff 0px,#006eff 7.5px,#0087ff 18px,#00b4ff 25.4px,#0ff 32.6px,#00ff63 41.7px,#70ff42 43.1px,#a5ff02 44.6px,#f6ff00 47.3px,#ff0 48.1px,#ffeb00 50.5px,#ffbf00 53.6px,#ff8300 56.5px,#ff4700 60.1px,#ff3200 63.6px,#ff1a00 66.4px,#f30 69px,#ffc300 73.5px,#ffe100 76.5px,#ffd700 78.8px,#ff9600 80.6px,#ff3c00 82.5px,#f00 83.5px,#f00 84.1px,#f50000 84.3px,#c30000 86.1px,#ac0000 88.3px,#b20000 91px,#d70000 93.4px,#d70000 96.5px,#a00000 101px,#960000 103px)"></i><i style="left:489px;width:2px;background:linear-gradient(#0054ff 0px,#006eff 7.5px,#0087ff 18px,#00b4ff 25.4px,#0ff 32.6px,#00ff63 41.7px,#70ff42 43.1px,#a5ff02 44.6px,#f6ff00 47.4px,#ff0 48.1px,#ffeb00 50.6px,#ffbf00 53.7px,#ff8400 56.6px,#ff4800 60.2px,#ff1b00 66.5px,#ff3400 69.1px,#ffc300 73.5px,#ffe100 76.5px,#ffd700 78.8px,#ff9600 80.6px,#ff3c00 82.5px,#f00 83.5px,#f00 84.1px,#f50000 84.3px,#c30000 86.1px,#ac0000 88.3px,#b20000 91px,#d70000 93.4px,#d70000 96.5px,#a00000 101px,#960000 103px)"></i><i style="left:491px;width:2px;background:linear-gradient(#0054ff 0px,#006eff 7.5px,#0087ff 18px,#00b4ff 25.4px,#0ff 32.6px,#00ff63 41.7px,#70ff42 43.1px,#a5ff02 44.7px,#f7ff00 47.4px,#ff0 48.2px,#ffeb00 50.6px,#ffbf00 53.9px,#ff8500 56.8px,#ff4800 60.4px,#ff1c00 66.5px,#ff3500 69.1px,#ffc300 73.6px,#ffe100 76.6px,#ffd700 78.8px,#ff9600 80.6px,#ff3c00 82.5px,#f00 83.5px,#f00 84.1px,#f50000 84.3px,#c30000 86.1px,#ac0000 88.3px,#b20000 91px,#d70000 93.4px,#d70000 96.5px,#a00000 101px,#960000 103px)"></i><i style="left:493px;width:2px;background:linear-gradient(#0054ff 0px,#006eff 7.5px,#0087ff 18px,#00b4ff 25.4px,#0ff 32.6px,#00ff63 41.7px,#70ff42 43.1px,#a5ff02 44.7px,#f7ff00 47.5px,#ff0 48.2px,#ffeb00 50.7px,#ffc000 54px,#ff8500 56.9px,#ff4900 60.5px,#ff1d00 66.6px,#ff3600 69.2px,#ffc300 73.6px,#ffe100 76.6px,#ffd700 78.8px,#ff9600 80.6px,#ff3c00 82.5px,#f00 83.5px,#f00 84.1px,#f50000 84.3px,#c30000 86.1px,#ac0000 88.3px,#b20000 91px,#d70000 93.4px,#d70000 96.5px,#a00000 101px,#960000 103px)"></i><i style="left:495px;width:2px;background:linear-gradient(#0054ff 0px,#006eff 7.5px,#0087ff 18px,#00b4ff 25.4px,#0ff 32.6px,#00ff63 41.7px,#70ff42 43.1px,#a5ff02 44.7px,#f7ff00 47.5px,#ff0 48.2px,#ffeb00 50.8px,#ffc000 54.1px,#ff8600 57.1px,#ff4a00 60.7px,#ff1d00 66.7px,#ff3700 69.2px,#ffc300 73.6px,#ffe100 76.6px,#ffd700 78.8px,#ff9600 80.6px,#ff3c00 82.5px,#f00 83.5px,#f00 84.1px,#f50000 84.3px,#c30000 86.1px,#ac0000 88.3px,#b20000 91px,#d70000 93.4px,#d70000 96.5px,#a00000 101px,#960000 103px)"></i><i style="left:497px;width:2px;background:linear-gradient(#0054ff 0px,#006eff 7.5px,#0087ff 18px,#00b4ff 25.4px,#0ff 32.6px,#00ff63 41.7px,#70ff42 43.1px,#a5ff02 44.7px,#f8ff00 47.5px,#ff0 48.2px,#ffeb00 50.9px,#ffc100 54.2px,#ff8700 57.2px,#ff4b00 60.8px,#ff1e00 66.8px,#ff3800 69.3px,#ffc300 73.6px,#ffe100 76.6px,#ffd700 78.8px,#ff9600 80.6px,#ff3c00 82.5px,#f00 83.5px,#f00 84.1px,#f50000 84.3px,#c30000 86.1px,#ac0000 88.3px,#b20000 91px,#d70000 93.4px,#d70000 96.5px,#a00000 101px,#960000 103px)"></i><i style="left:499px;width:2px;background:linear-gradient(#0054ff 0px,#006eff 7.5px,#0087ff 18px,#00b4ff 25.4px,#0ff 32.6px,#00ff63 41.7px,#70ff42 43.1px,#a5ff02 44.7px,#f8ff00 47.6px,#ff0 48.2px,#ffeb00 50.9px,#ffc100 54.3px,#ff4c00 61px,#ff1f00 66.8px,#ff3900 69.3px,#ffc300 73.6px,#ffe100 76.6px,#ffd700 78.8px,#ff9600 80.6px,#ff3c00 82.5px,#f00 83.5px,#f00 84.1px,#f50000 84.3px,#c30000 86.1px,#ac0000 88.3px,#b20000 91px,#d70000 93.4px,#d70000 96.5px,#a00000 101px,#960000 103px)"></i><i style="left:501px;width:2px;background:linear-gradient(#0054ff 0px,#006eff 7.5px,#0087ff 18px,#00b4ff 25.4px,#0ff 32.6px,#00ff63 41.7px,#70ff42 43.2px,#a5ff02 44.7px,#f9ff00 47.6px,#ff0 48.2px,#ffeb00 51px,#ffc200 54.4px,#ff4d00 61.1px,#ff2000 66.9px,#ff3a00 69.3px,#ffc300 73.7px,#ffe100 76.7px,#ffd700 78.8px,#ff9600 80.6px,#ff3c00 82.5px,#f00 83.5px,#f00 84.1px,#f50000 84.3px,#c30000 86.1px,#ac0000 88.3px,#b20000 91px,#d70000 93.4px,#d70000 96.5px,#a00000 101px,#960000 103px)"></i><i style="left:503px;width:2px;background:linear-gradient(#0054ff 0px,#006eff 7.5px,#0087ff 18px,#00b4ff 25.4px,#0ff 32.6px,#00ff63 41.7px,#70ff42 43.2px,#a5ff02 44.7px,#f9ff00 47.6px,#ff0 48.3px,#ffeb00 51.1px,#ffc200 54.6px,#ff4d00 61.3px,#ff2100 67px,#ff3c00 69.4px,#ffc300 73.7px,#ffe100 76.7px,#ffd700 78.8px,#ff9600 80.6px,#ff3c00 82.5px,#f00 83.5px,#f00 84.1px,#f50000 84.3px,#c30000 86.1px,#ac0000 88.3px,#b20000 91px,#d70000 93.4px,#d70000 96.5px,#a00000 101px,#960000 103px)"></i><i style="left:505px;width:2px;background:linear-gradient(#0054ff 0px,#006eff 7.5px,#0087ff 18px,#00b4ff 25.4px,#0ff 32.6px,#00ff63 41.7px,#70ff42 43.2px,#a5ff02 44.7px,#f9ff00 47.7px,#ff0 48.3px,#ffeb00 51.2px,#ffc200 54.7px,#ff4e00 61.4px,#f20 67.1px,#ff3d00 69.4px,#ffc300 73.7px,#ffe100 76.7px,#ffd700 78.8px,#ff9600 80.6px,#ff3c00 82.5px,#f00 83.5px,#f00 84.1px,#f50000 84.3px,#c30000 86.1px,#ac0000 88.3px,#b20000 91px,#d70000 93.4px,#d70000 96.5px,#a00000 101px,#960000 103px)"></i><i style="left:507px;width:2px;background:linear-gradient(#0054ff 0px,#006eff 7.5px,#0087ff 18px,#00b4ff 25.4px,#0ff 32.6px,#00ff63 41.7px,#70ff42 43.2px,#a5ff02 44.8px,#faff00 47.7px,#ff0 48.3px,#ffeb00 51.2px,#ffc300 54.8px,#ff4f00 61.6px,#ff2300 67.1px,#ff3e00 69.5px,#ffc300 73.7px,#ffe100 76.7px,#ffd700 78.8px,#ff9600 80.6px,#ff3c00 82.5px,#f00 83.5px,#f00 84.1px,#f50000 84.3px,#c30000 86.1px,#ac0000 88.3px,#b20000 91px,#d70000 93.4px,#d70000 96.5px,#a00000 101px,#960000 103px)"></i><i style="left:509px;width:2px;background:linear-gradient(#0054ff 0px,#006eff 7.5px,#0087ff 18px,#00b4ff 25.4px,#0ff 32.6px,#00ff63 41.7px,#70ff42 43.2px,#a5ff02 44.8px,#faff00 47.8px,#ff0 48.3px,#ffeb00 51.3px,#ffc300 54.9px,#ff5000 61.7px,#ff3200 64.9px,#ff2300 67.2px,#ff3f00 69.5px,#ffc300 73.8px,#ffe100 76.8px,#ffd700 78.8px,#ff9600 80.6px,#ff3c00 82.5px,#f00 83.5px,#f00 84.1px,#f50000 84.3px,#c30000 86.1px,#ac0000 88.3px,#b20000 91px,#d70000 93.4px,#d70000 96.5px,#a00000 101px,#960000 103px)"></i><i style="left:511px;width:2px;background:linear-gradient(#0054ff 0px,#006eff 7.5px,#0087ff 18px,#00b4ff 25.4px,#0ff 32.6px,#00ff63 41.7px,#70ff42 43.2px,#a5ff02 44.8px,#fbff00 47.8px,#ff0 48.3px,#ffeb00 51.4px,#ffc400 55px,#ff5100 61.9px,#ff3200 65px,#ff2400 67.3px,#ff4000 69.5px,#ffc300 73.8px,#ffe100 76.8px,#ffd700 78.8px,#ff9600 80.6px,#ff3c00 82.5px,#f00 83.5px,#f00 84.1px,#f50000 84.3px,#c30000 86.1px,#ac0000 88.3px,#b20000 91px,#d70000 93.4px,#d70000 96.5px,#a00000 101px,#960000 103px)"></i><i style="left:513px;width:2px;background:linear-gradient(#0054ff 0px,#006eff 7.5px,#0087ff 18px,#00b4ff 25.4px,#0ff 32.6px,#00ff63 41.7px,#70ff42 43.2px,#a5ff02 44.8px,#fbff00 47.8px,#ff0 48.3px,#ffeb00 51.5px,#ffc400 55.1px,#ff5200 62px,#ff3200 65.1px,#ff2500 67.4px,#ff4100 69.6px,#ffc300 73.8px,#ffe100 76.8px,#ffd700 78.8px,#ff9600 80.6px,#ff3c00 82.5px,#f00 83.5px,#f00 84.1px,#f50000 84.3px,#c30000 86.1px,#ac0000 88.3px,#b20000 91px,#d70000 93.4px,#d70000 96.5px,#a00000 101px,#960000 103px)"></i><i style="left:515px;width:2px;background:linear-gradient(#0054ff 0px,#006eff 7.5px,#0087ff 18px,#00b4ff 25.4px,#0ff 32.6px,#00ff63 41.7px,#70ff42 43.2px,#a5ff02 44.8px,#fbff00 47.9px,#ff0 48.3px,#ffeb00 51.5px,#ffc400 55.3px,#ff5200 62.2px,#ff3200 65.3px,#ff2600 67.4px,#ff4200 69.6px,#ffc300 73.8px,#ffe100 76.8px,#ffd700 78.8px,#ff9600 80.6px,#ff3c00 82.5px,#f00 83.5px,#f00 84.1px,#f50000 84.3px,#c30000 86.1px,#ac0000 88.3px,#b20000 91px,#d70000 93.4px,#d70000 96.5px,#a00000 101px,#960000 103px)"></i><i style="left:517px;width:2px;background:linear-gradient(#0054ff 0px,#006eff 7.5px,#0087ff 18px,#00b4ff 25.4px,#0ff 32.6px,#00ff63 41.7px,#70ff42 43.2px,#a5ff02 44.8px,#fcff00 47.9px,#ff0 48.3px,#ffeb00 51.6px,#ffc500 55.4px,#ff5300 62.3px,#ff3200 65.4px,#ff2700 67.5px,#ff4300 69.7px,#ffc300 73.8px,#ffe100 76.8px,#ffd700 78.8px,#ff9600 80.6px,#ff3c00 82.5px,#f00 83.5px,#f00 84.1px,#f50000 84.3px,#c30000 86.1px,#ac0000 88.3px,#b20000 91px,#d70000 93.4px,#d70000 96.5px,#a00000 101px,#960000 103px)"></i><i style="left:519px;width:2px;background:linear-gradient(#0054ff 0px,#006eff 7.5px,#0087ff 18px,#00b4ff 25.4px,#0ff 32.6px,#00ff63 41.7px,#70ff42 43.2px,#a5ff02 44.8px,#fcff00 47.9px,#ff0 48.3px,#ffeb00 51.7px,#ffc500 55.5px,#ff5400 62.5px,#ff3200 65.5px,#ff2800 67.6px,#f40 69.7px,#ffc300 73.9px,#ffe100 76.9px,#ffd700 78.8px,#ff9600 80.6px,#ff3c00 82.5px,#f00 83.5px,#f00 84.1px,#f50000 84.3px,#c30000 86.1px,#ac0000 88.3px,#b20000 91px,#d70000 93.4px,#d70000 96.5px,#a00000 101px,#960000 103px)"></i><i style="left:521px;width:2px;background:linear-gradient(#0054ff 0px,#006eff 7.5px,#0087ff 18px,#00b4ff 25.4px,#0ff 32.6px,#00ff63 41.7px,#70ff42 43.2px,#a5ff02 44.8px,#fdff00 48px,#ff0 48.3px,#ffeb00 51.8px,#ffc600 55.6px,#f50 62.6px,#ff3200 65.6px,#ff2800 67.7px,#ff4500 69.8px,#ffc300 73.9px,#ffe100 76.9px,#ffd700 78.8px,#ff9600 80.6px,#ff3c00 82.5px,#f00 83.5px,#f00 84.1px,#f50000 84.3px,#c30000 86.1px,#ac0000 88.3px,#b20000 91px,#d70000 93.4px,#d70000 96.5px,#a00000 101px,#960000 103px)"></i><i style="left:523px;width:2px;background:linear-gradient(#0054ff 0px,#006eff 7.5px,#0087ff 18px,#00b4ff 25.4px,#0ff 32.6px,#00ff63 41.7px,#70ff42 43.2px,#a5ff02 44.9px,#fdff00 48px,#ff0 48.3px,#ffeb00 51.8px,#ffc600 55.7px,#ff5600 62.8px,#ff3200 65.7px,#ff2900 67.7px,#ff4600 69.8px,#ffc300 73.9px,#ffe100 76.9px,#ffd700 78.8px,#ff9600 80.6px,#ff3c00 82.5px,#f00 83.5px,#f00 84.1px,#f50000 84.3px,#c30000 86.1px,#ac0000 88.3px,#b20000 91px,#d70000 93.4px,#d70000 96.5px,#a00000 101px,#960000 103px)"></i><i style="left:525px;width:2px;background:linear-gradient(#0054ff 0px,#006eff 7.5px,#0087ff 18px,#00b4ff 25.4px,#0ff 32.6px,#00ff63 41.7px,#70ff42 43.2px,#a5ff02 44.9px,#d4ff00 46.5px,#ff0 48.3px,#ffeb00 51.9px,#ffc700 55.8px,#ff5700 62.9px,#ff3200 65.8px,#ff2a00 67.8px,#ff4700 69.8px,#ffc300 73.9px,#ffe100 76.9px,#ffd700 78.8px,#ff9600 80.6px,#ff3c00 82.5px,#f00 83.5px,#f00 84.1px,#f50000 84.3px,#c30000 86.1px,#ac0000 88.3px,#b20000 91px,#d70000 93.4px,#d70000 96.5px,#a00000 101px,#960000 103px)"></i><i style="left:527px;width:2px;background:linear-gradient(#0054ff 0px,#006eff 7.5px,#0087ff 18px,#00b4ff 25.4px,#0ff 32.6px,#00ff63 41.7px,#70ff42 43.2px,#a5ff02 44.9px,#ff0 48.3px,#ffeb00 52px,#ffc700 56px,#ff5700 63.1px,#ff3200 66px,#ff2b00 67.9px,#ff4800 69.9px,#ffc300 73.9px,#ffe100 76.9px,#ffd700 78.8px,#ff9600 80.6px,#ff3c00 82.5px,#f00 83.5px,#f00 84.1px,#f50000 84.3px,#c30000 86.1px,#ac0000 88.3px,#b20000 91px,#d70000 93.4px,#d70000 96.5px,#a00000 101px,#960000 103px)"></i><i style="left:529px;width:2px;background:linear-gradient(#0054ff 0px,#006eff 7.5px,#0087ff 18px,#00b4ff 25.4px,#0ff 32.6px,#00ff63 41.7px,#70ff42 43.2px,#a5ff02 44.9px,#ff0 48.2px,#ffeb00 52.1px,#ffc700 56.1px,#ff5800 63.2px,#ff3200 66.1px,#ff2c00 68px,#ff4900 69.9px,#ffc300 74px,#ffe100 77px,#ffd700 78.8px,#ff9600 80.6px,#ff3c00 82.5px,#f00 83.5px,#f00 84.1px,#f50000 84.3px,#c30000 86.1px,#ac0000 88.3px,#b20000 91px,#d70000 93.4px,#d70000 96.5px,#a00000 101px,#960000 103px)"></i><i style="left:531px;width:2px;background:linear-gradient(#0054ff 0px,#006eff 7.5px,#0087ff 18px,#00b4ff 25.4px,#0ff 32.6px,#00ff63 41.7px,#70ff42 43.3px,#a5ff02 44.9px,#ff0 48.2px,#ffeb00 52.1px,#ffc800 56.2px,#ff3200 66.2px,#ff2c00 68px,#ff4a00 70px,#ffc300 74px,#ffe100 77px,#ffd700 78.8px,#ff9600 80.6px,#ff3c00 82.5px,#f00 83.5px,#f00 84.1px,#f50000 84.3px,#c30000 86.1px,#ac0000 88.3px,#b20000 91px,#d70000 93.4px,#d70000 96.5px,#a00000 101px,#960000 103px)"></i><i style="left:533px;width:1px;background:linear-gradient(#0054ff 0px,#006eff 7.5px,#0087ff 18px,#00b4ff 25.4px,#0ff 32.6px,#00ff63 41.7px,#70ff42 43.3px,#a5ff02 44.9px,#ff0 48.2px,#ffeb00 52.2px,#ffc800 56.3px,#ff3200 66.3px,#ff2d00 68.1px,#ff4b00 70px,#ffc300 74px,#ffe100 77px,#ffd700 78.8px,#ff9600 80.6px,#ff3c00 82.5px,#f00 83.5px,#f00 84.1px,#f50000 84.3px,#c30000 86.1px,#ac0000 88.3px,#b20000 91px,#d70000 93.4px,#d70000 96.5px,#a00000 101px,#960000 103px)"></i></div>
<svg width="550" height="512" viewBox="0 0 550 512">
<defs>
<linearGradient id="ta" x1="0" y1="0" x2="0" y2="1"><stop offset="0.0000" stop-color="#000098"/><stop offset="0.2124" stop-color="#0000c2"/><stop offset="0.2655" stop-color="#0000cc"/><stop offset="0.4789" stop-color="#0000fd"/><stop offset="0.5504" stop-color="#0000ff"/><stop offset="0.6526" stop-color="#0003ff"/><stop offset="0.8015" stop-color="#0024ff"/><stop offset="0.9404" stop-color="#004bff"/><stop offset="1.0000" stop-color="#005bff"/></linearGradient>
<linearGradient id="tb" x1="0" y1="0" x2="0" y2="1"><stop offset="0.0000" stop-color="#0000a0"/><stop offset="0.1732" stop-color="#0000c2"/><stop offset="0.2519" stop-color="#0000d1"/><stop offset="0.4883" stop-color="#0000ff"/><stop offset="0.5584" stop-color="#0000ff"/><stop offset="0.6286" stop-color="#0001ff"/><stop offset="0.8182" stop-color="#002aff"/><stop offset="0.9604" stop-color="#004bff"/><stop offset="1.0078" stop-color="#0056ff"/></linearGradient>
</defs>
<g>
<rect x="46" y="5.70" width="474" height="40.30" fill="url(#ta)"/>
<rect x="46" y="130" width="474" height="39.50" fill="#960000"/>
<rect x="46" y="130.15" width="474" height="6.6" fill="#e10000"/>
<rect x="51" y="270.50" width="483" height="38.50" fill="url(#tb)"/>
<rect x="51" y="412" width="483" height="30.30" fill="#960000"/>
</g>
<g class="tk">
<line x1="46.40" y1="30.90" x2="50.40" y2="30.90"/>
<line x1="516.00" y1="30.90" x2="520.00" y2="30.90"/>
<line x1="46.40" y1="56.10" x2="50.40" y2="56.10"/>
<line x1="516.00" y1="56.10" x2="520.00" y2="56.10"/>
<line x1="46.40" y1="81.30" x2="50.40" y2="81.30"/>
<line x1="516.00" y1="81.30" x2="520.00" y2="81.30"/>
<line x1="46.40" y1="106.50" x2="50.40" y2="106.50"/>
<line x1="516.00" y1="106.50" x2="520.00" y2="106.50"/>
<line x1="46.40" y1="131.70" x2="50.40" y2="131.70"/>
<line x1="516.00" y1="131.70" x2="520.00" y2="131.70"/>
<line x1="46.40" y1="156.90" x2="50.40" y2="156.90"/>
<line x1="516.00" y1="156.90" x2="520.00" y2="156.90"/>
<line x1="93.76" y1="169.50" x2="93.76" y2="166.50"/>
<line x1="93.76" y1="5.70" x2="93.76" y2="8.70"/>
<line x1="141.12" y1="169.50" x2="141.12" y2="166.50"/>
<line x1="141.12" y1="5.70" x2="141.12" y2="8.70"/>
<line x1="188.48" y1="169.50" x2="188.48" y2="166.50"/>
<line x1="188.48" y1="5.70" x2="188.48" y2="8.70"/>
<line x1="235.84" y1="169.50" x2="235.84" y2="166.50"/>
<line x1="235.84" y1="5.70" x2="235.84" y2="8.70"/>
<line x1="283.20" y1="169.50" x2="283.20" y2="166.50"/>
<line x1="283.20" y1="5.70" x2="283.20" y2="8.70"/>
<line x1="330.56" y1="169.50" x2="330.56" y2="166.50"/>
<line x1="330.56" y1="5.70" x2="330.56" y2="8.70"/>
<line x1="377.92" y1="169.50" x2="377.92" y2="166.50"/>
<line x1="377.92" y1="5.70" x2="377.92" y2="8.70"/>
<line x1="425.28" y1="169.50" x2="425.28" y2="166.50"/>
<line x1="425.28" y1="5.70" x2="425.28" y2="8.70"/>
<line x1="472.64" y1="169.50" x2="472.64" y2="166.50"/>
<line x1="472.64" y1="5.70" x2="472.64" y2="8.70"/>
<line x1="51.00" y1="296.93" x2="55.00" y2="296.93"/>
<line x1="530.00" y1="296.93" x2="534.00" y2="296.93"/>
<line x1="51.00" y1="323.36" x2="55.00" y2="323.36"/>
<line x1="530.00" y1="323.36" x2="534.00" y2="323.36"/>
<line x1="51.00" y1="349.79" x2="55.00" y2="349.79"/>
<line x1="530.00" y1="349.79" x2="534.00" y2="349.79"/>
<line x1="51.00" y1="376.22" x2="55.00" y2="376.22"/>
<line x1="530.00" y1="376.22" x2="534.00" y2="376.22"/>
<line x1="51.00" y1="402.65" x2="55.00" y2="402.65"/>
<line x1="530.00" y1="402.65" x2="534.00" y2="402.65"/>
<line x1="51.00" y1="429.08" x2="55.00" y2="429.08"/>
<line x1="530.00" y1="429.08" x2="534.00" y2="429.08"/>
<line x1="99.30" y1="442.30" x2="99.30" y2="439.30"/>
<line x1="99.30" y1="270.50" x2="99.30" y2="273.50"/>
<line x1="147.60" y1="442.30" x2="147.60" y2="439.30"/>
<line x1="147.60" y1="270.50" x2="147.60" y2="273.50"/>
<line x1="195.90" y1="442.30" x2="195.90" y2="439.30"/>
<line x1="195.90" y1="270.50" x2="195.90" y2="273.50"/>
<line x1="244.20" y1="442.30" x2="244.20" y2="439.30"/>
<line x1="244.20" y1="270.50" x2="244.20" y2="273.50"/>
<line x1="292.50" y1="442.30" x2="292.50" y2="439.30"/>
<line x1="292.50" y1="270.50" x2="292.50" y2="273.50"/>
<line x1="340.80" y1="442.30" x2="340.80" y2="439.30"/>
<line x1="340.80" y1="270.50" x2="340.80" y2="273.50"/>
<line x1="389.10" y1="442.30" x2="389.10" y2="439.30"/>
<line x1="389.10" y1="270.50" x2="389.10" y2="273.50"/>
<line x1="437.40" y1="442.30" x2="437.40" y2="439.30"/>
<line x1="437.40" y1="270.50" x2="437.40" y2="273.50"/>
<line x1="485.70" y1="442.30" x2="485.70" y2="439.30"/>
<line x1="485.70" y1="270.50" x2="485.70" y2="273.50"/>
<rect x="46.40" y="5.70" width="473.60" height="163.80" fill="none" stroke="#000" stroke-width="0.7" stroke-opacity="0.45"/>
<rect x="51.00" y="270.50" width="483.00" height="171.80" fill="none" stroke="#000" stroke-width="0.7" stroke-opacity="0.45"/>
</g>
<g>
<text class="t" font-size="11.50" text-anchor="end" x="40.60" y="34.99">200</text>
<text class="t" font-size="11.50" text-anchor="end" x="41.90" y="59.99">400</text>
<text class="t" font-size="11.50" text-anchor="end" x="42.60" y="83.69">600</text>
<text class="t" font-size="11.50" text-anchor="end" x="43.40" y="107.29">800</text>
<text class="t" font-size="11.50" text-anchor="end" x="40.90" y="135.29">1000</text>
<text class="t" font-size="11.50" text-anchor="end" x="41.50" y="162.39">1200</text>
<text class="t" font-size="11.50" text-anchor="middle" x="47.00" y="183.70">0</text>
<text class="t" font-size="11.50" text-anchor="middle" x="92.96" y="183.70">1000</text>
<text class="t" font-size="11.50" text-anchor="middle" x="140.32" y="183.70">2000</text>
<text class="t" font-size="11.50" text-anchor="middle" x="187.68" y="183.70">3000</text>
<text class="t" font-size="11.50" text-anchor="middle" x="235.04" y="183.70">4000</text>
<text class="t" font-size="11.50" text-anchor="middle" x="282.40" y="183.70">5000</text>
<text class="t" font-size="11.50" text-anchor="middle" x="329.76" y="183.70">6000</text>
<text class="t" font-size="11.50" text-anchor="middle" x="377.12" y="183.70">7000</text>
<text class="t" font-size="11.50" text-anchor="middle" x="424.48" y="183.70">8000</text>
<text class="t" font-size="11.50" text-anchor="middle" x="471.84" y="183.70">9000</text>
<text class="t" font-size="11.50" text-anchor="middle" x="517.70" y="183.70">10000</text>
<text class="l" font-size="12.00" text-anchor="middle" x="266.50" y="197.60">Horizontal distance, m</text>
<text class="l" font-size="12.00" text-anchor="middle" transform="translate(13.00,91.80) rotate(-90)">Depth, m</text>
<text class="c" text-anchor="middle" x="266.00" y="228.80">(<tspan font-weight="bold">a</tspan>)</text>
<text class="t" font-size="11.80" text-anchor="end" x="42.20" y="303.39">200</text>
<text class="t" font-size="11.80" text-anchor="end" x="43.70" y="328.39">400</text>
<text class="t" font-size="11.80" text-anchor="end" x="43.70" y="352.74">600</text>
<text class="t" font-size="11.80" text-anchor="end" x="44.40" y="377.74">800</text>
<text class="t" font-size="11.80" text-anchor="end" x="42.20" y="405.89">1000</text>
<text class="t" font-size="11.80" text-anchor="end" x="42.80" y="433.39">1200</text>
<text class="t" font-size="11.80" text-anchor="middle" x="53.20" y="457.10">0</text>
<text class="t" font-size="11.80" text-anchor="middle" x="100.30" y="457.10">1000</text>
<text class="t" font-size="11.80" text-anchor="middle" x="148.60" y="457.10">2000</text>
<text class="t" font-size="11.80" text-anchor="middle" x="196.90" y="457.10">3000</text>
<text class="t" font-size="11.80" text-anchor="middle" x="245.20" y="457.10">4000</text>
<text class="t" font-size="11.80" text-anchor="middle" x="293.50" y="457.10">5000</text>
<text class="t" font-size="11.80" text-anchor="middle" x="341.80" y="457.10">6000</text>
<text class="t" font-size="11.80" text-anchor="middle" x="390.10" y="457.10">7000</text>
<text class="t" font-size="11.80" text-anchor="middle" x="438.40" y="457.10">8000</text>
<text class="t" font-size="11.80" text-anchor="middle" x="486.70" y="457.10">9000</text>
<text class="t" font-size="11.80" text-anchor="middle" x="533.50" y="457.10">10000</text>
<text class="l" font-size="12.25" text-anchor="middle" x="277.90" y="472.00">Horizontal distance, m</text>
<text class="l" font-size="12.25" text-anchor="middle" transform="translate(13.00,360.80) rotate(-90)">Depth, m</text>
<text class="c" text-anchor="middle" x="266.00" y="504.60">(<tspan font-weight="bold">b</tspan>)</text>
</g>
</svg>
</div>
</body></html>
